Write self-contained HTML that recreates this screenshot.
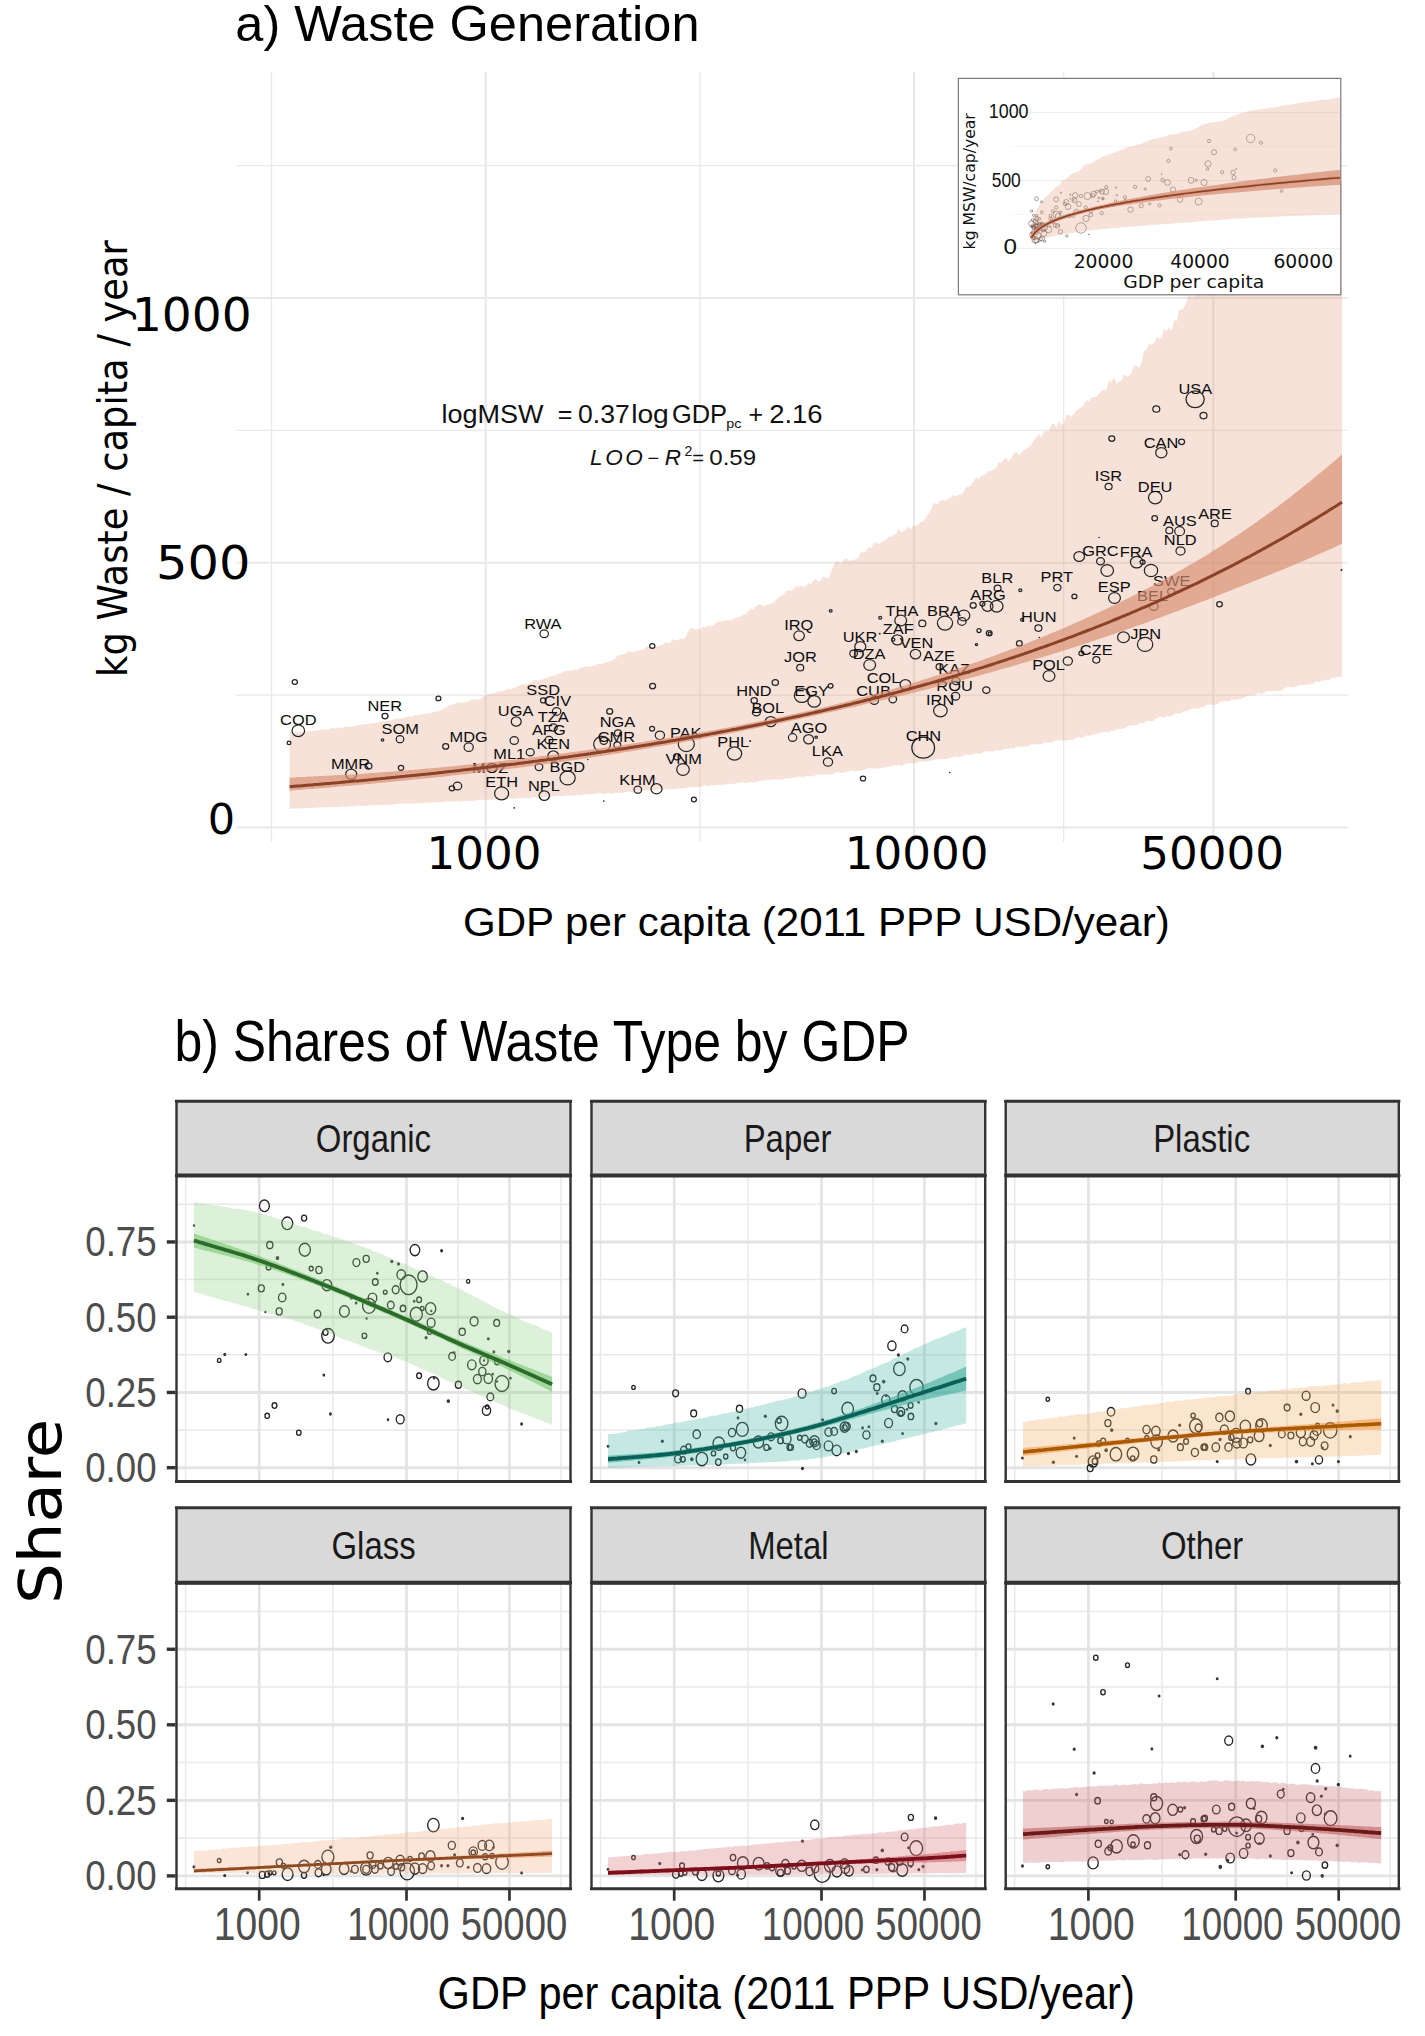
<!DOCTYPE html>
<html lang="en"><head><meta charset="utf-8"><title>Waste generation and composition by GDP</title>
<style>
html,body{margin:0;padding:0;background:#fff}
svg{display:block}
text{white-space:pre}
</style></head>
<body>
<svg width="1425" height="2036" viewBox="0 0 1425 2036">
<rect x="0" y="0" width="1425" height="2036" fill="#fff"/>
<line x1="271.55" y1="72.00" x2="271.55" y2="842.00" stroke="#e9e9e9" stroke-width="1.3"/>
<line x1="699.85" y1="72.00" x2="699.85" y2="842.00" stroke="#e9e9e9" stroke-width="1.3"/>
<line x1="1063.68" y1="72.00" x2="1063.68" y2="842.00" stroke="#e9e9e9" stroke-width="1.3"/>
<line x1="236.50" y1="695.12" x2="1347.50" y2="695.12" stroke="#e9e9e9" stroke-width="1.3"/>
<line x1="236.50" y1="430.38" x2="1347.50" y2="430.38" stroke="#e9e9e9" stroke-width="1.3"/>
<line x1="236.50" y1="165.62" x2="1347.50" y2="165.62" stroke="#e9e9e9" stroke-width="1.3"/>
<line x1="485.70" y1="72.00" x2="485.70" y2="842.00" stroke="#e9e9e9" stroke-width="2.2"/>
<line x1="914.00" y1="72.00" x2="914.00" y2="842.00" stroke="#e9e9e9" stroke-width="2.2"/>
<line x1="1213.37" y1="72.00" x2="1213.37" y2="842.00" stroke="#e9e9e9" stroke-width="2.2"/>
<line x1="236.50" y1="827.50" x2="1347.50" y2="827.50" stroke="#e9e9e9" stroke-width="2.2"/>
<line x1="236.50" y1="562.75" x2="1347.50" y2="562.75" stroke="#e9e9e9" stroke-width="2.2"/>
<line x1="236.50" y1="298.00" x2="1347.50" y2="298.00" stroke="#e9e9e9" stroke-width="2.2"/>
<path d="M289.6,733.2 L292.1,733.0 L294.6,732.4 L297.1,732.5 L299.6,732.0 L302.1,731.9 L304.6,731.8 L307.1,731.3 L309.6,731.3 L312.2,730.9 L314.7,730.8 L317.2,730.6 L319.7,730.2 L322.2,729.4 L324.7,729.8 L327.2,729.5 L329.7,728.9 L332.2,728.1 L334.7,728.5 L337.2,728.4 L339.7,727.3 L342.2,728.0 L344.7,726.8 L347.2,727.1 L349.7,726.8 L352.2,726.4 L354.7,726.0 L357.3,724.9 L359.8,725.3 L362.3,724.5 L364.8,724.1 L367.3,724.0 L369.8,723.4 L372.3,723.4 L374.8,723.0 L377.3,722.6 L379.8,721.7 L382.3,721.6 L384.8,721.4 L387.3,720.7 L389.8,720.4 L392.3,720.1 L394.8,718.9 L397.3,718.6 L399.9,718.7 L402.4,717.9 L404.9,717.5 L407.4,716.4 L409.9,716.3 L412.4,716.4 L414.9,714.7 L417.4,715.6 L419.9,714.9 L422.4,713.9 L424.9,714.2 L427.4,713.4 L429.9,713.3 L432.4,712.2 L434.9,711.5 L437.4,711.5 L439.9,710.3 L442.4,709.8 L445.0,707.8 L447.5,706.5 L450.0,705.0 L452.5,704.7 L455.0,703.4 L457.5,702.5 L460.0,703.1 L462.5,702.3 L465.0,702.5 L467.5,701.2 L470.0,700.8 L472.5,699.3 L475.0,699.4 L477.5,699.9 L480.0,699.3 L482.5,696.9 L485.0,695.7 L487.6,694.3 L490.1,694.0 L492.6,693.5 L495.1,692.9 L497.6,691.3 L500.1,691.7 L502.6,691.1 L505.1,690.4 L507.6,688.6 L510.1,689.4 L512.6,688.5 L515.1,687.7 L517.6,685.9 L520.1,685.3 L522.6,684.3 L525.1,684.8 L527.6,683.8 L530.1,683.1 L532.7,680.9 L535.2,679.8 L537.7,680.8 L540.2,680.0 L542.7,679.2 L545.2,678.3 L547.7,677.2 L550.2,676.1 L552.7,675.9 L555.2,675.2 L557.7,674.0 L560.2,673.3 L562.7,672.4 L565.2,670.5 L567.7,671.0 L570.2,670.9 L572.7,670.1 L575.3,669.4 L577.8,669.9 L580.3,667.4 L582.8,667.4 L585.3,666.5 L587.8,666.3 L590.3,666.7 L592.8,666.0 L595.3,665.6 L597.8,664.0 L600.3,664.1 L602.8,663.4 L605.3,662.6 L607.8,662.0 L610.3,661.0 L612.8,660.6 L615.3,658.2 L617.8,655.5 L620.4,655.0 L622.9,654.1 L625.4,653.9 L627.9,651.3 L630.4,651.8 L632.9,652.2 L635.4,651.5 L637.9,650.8 L640.4,650.2 L642.9,649.9 L645.4,647.4 L647.9,646.0 L650.4,647.8 L652.9,647.1 L655.4,646.9 L657.9,646.2 L660.4,645.2 L663.0,644.5 L665.5,641.9 L668.0,643.1 L670.5,642.4 L673.0,638.9 L675.5,640.2 L678.0,640.3 L680.5,638.8 L683.0,639.0 L685.5,637.5 L688.0,631.8 L690.5,628.0 L693.0,628.6 L695.5,629.7 L698.0,629.3 L700.5,629.3 L703.0,626.8 L705.5,627.2 L708.1,625.4 L710.6,626.3 L713.1,625.8 L715.6,623.1 L718.1,621.2 L720.6,621.4 L723.1,621.0 L725.6,620.2 L728.1,620.0 L730.6,620.6 L733.1,618.7 L735.6,618.1 L738.1,617.3 L740.6,616.2 L743.1,614.9 L745.6,613.8 L748.1,611.2 L750.7,608.3 L753.2,609.9 L755.7,606.2 L758.2,604.7 L760.7,604.0 L763.2,606.2 L765.7,605.5 L768.2,604.6 L770.7,603.7 L773.2,602.8 L775.7,600.5 L778.2,597.8 L780.7,595.8 L783.2,594.7 L785.7,591.8 L788.2,590.0 L790.7,591.6 L793.2,589.1 L795.8,586.5 L798.3,586.5 L800.8,585.9 L803.3,586.4 L805.8,586.3 L808.3,583.0 L810.8,584.3 L813.3,581.1 L815.8,578.8 L818.3,581.6 L820.8,580.7 L823.3,576.5 L825.8,577.5 L828.3,578.8 L830.8,572.6 L833.3,565.9 L835.8,561.6 L838.4,561.8 L840.9,564.0 L843.4,560.3 L845.9,558.2 L848.4,560.1 L850.9,560.9 L853.4,559.4 L855.9,559.5 L858.4,557.8 L860.9,551.5 L863.4,552.5 L865.9,551.5 L868.4,546.7 L870.9,548.4 L873.4,543.8 L875.9,542.5 L878.4,544.1 L880.9,542.5 L883.5,541.0 L886.0,539.7 L888.5,536.9 L891.0,536.8 L893.5,534.9 L896.0,534.2 L898.5,529.1 L901.0,532.2 L903.5,531.1 L906.0,529.8 L908.5,526.5 L911.0,529.4 L913.5,525.0 L916.0,526.3 L918.5,524.0 L921.0,521.9 L923.5,521.0 L926.1,517.1 L928.6,513.7 L931.1,509.6 L933.6,502.2 L936.1,504.6 L938.6,502.7 L941.1,500.0 L943.6,500.3 L946.1,500.5 L948.6,498.6 L951.1,497.4 L953.6,494.6 L956.1,497.1 L958.6,494.5 L961.1,494.5 L963.6,492.3 L966.1,487.1 L968.6,487.1 L971.2,484.7 L973.7,480.9 L976.2,477.1 L978.7,479.1 L981.2,475.9 L983.7,475.2 L986.2,473.6 L988.7,470.7 L991.2,471.0 L993.7,469.0 L996.2,467.8 L998.7,461.9 L1001.2,463.1 L1003.7,459.7 L1006.2,457.3 L1008.7,461.3 L1011.2,458.3 L1013.8,452.7 L1016.3,452.3 L1018.8,454.9 L1021.3,452.9 L1023.8,449.9 L1026.3,449.1 L1028.8,446.9 L1031.3,445.2 L1033.8,440.4 L1036.3,437.3 L1038.8,433.9 L1041.3,437.4 L1043.8,432.1 L1046.3,430.8 L1048.8,431.7 L1051.3,425.1 L1053.8,422.7 L1056.3,428.0 L1058.9,420.4 L1061.4,424.9 L1063.9,423.1 L1066.4,414.9 L1068.9,414.7 L1071.4,417.1 L1073.9,413.5 L1076.4,410.5 L1078.9,409.0 L1081.4,407.0 L1083.9,404.7 L1086.4,399.8 L1088.9,401.9 L1091.4,398.0 L1093.9,397.1 L1096.4,396.7 L1098.9,394.3 L1101.5,390.4 L1104.0,389.7 L1106.5,389.9 L1109.0,380.5 L1111.5,381.9 L1114.0,377.5 L1116.5,383.5 L1119.0,381.6 L1121.5,380.4 L1124.0,374.1 L1126.5,376.8 L1129.0,375.6 L1131.5,372.9 L1134.0,365.7 L1136.5,365.5 L1139.0,367.9 L1141.5,363.0 L1144.0,350.7 L1146.6,350.1 L1149.1,343.4 L1151.6,344.9 L1154.1,343.2 L1156.6,337.6 L1159.1,338.4 L1161.6,337.9 L1164.1,328.5 L1166.6,331.2 L1169.1,327.2 L1171.6,330.9 L1174.1,319.9 L1176.6,321.3 L1179.1,309.7 L1181.6,310.1 L1184.1,307.1 L1186.6,301.7 L1189.2,292.6 L1191.7,297.4 L1194.2,295.7 L1196.7,291.5 L1199.2,291.3 L1201.7,289.6 L1204.2,287.5 L1206.7,285.6 L1209.2,283.3 L1211.7,280.8 L1214.2,278.8 L1216.7,272.1 L1219.2,274.7 L1221.7,271.2 L1224.2,271.0 L1226.7,268.1 L1229.2,267.0 L1231.7,264.4 L1234.3,262.7 L1236.8,255.6 L1239.3,255.8 L1241.8,256.2 L1244.3,252.3 L1246.8,243.4 L1249.3,250.0 L1251.8,241.4 L1254.3,244.2 L1256.8,241.6 L1259.3,234.7 L1261.8,238.6 L1264.3,235.8 L1266.8,231.8 L1269.3,224.5 L1271.8,231.9 L1274.3,224.0 L1276.9,224.4 L1279.4,223.7 L1281.9,224.4 L1284.4,223.0 L1286.9,222.3 L1289.4,220.5 L1291.9,218.8 L1294.4,211.4 L1296.9,214.8 L1299.4,213.3 L1301.9,211.7 L1304.4,202.3 L1306.9,199.9 L1309.4,201.8 L1311.9,204.0 L1314.4,202.4 L1316.9,200.3 L1319.4,197.3 L1322.0,197.4 L1324.5,193.8 L1327.0,193.4 L1329.5,181.6 L1332.0,179.5 L1334.5,185.6 L1337.0,186.4 L1339.5,174.2 L1342.0,182.4 L1342.0,677.8 L1339.5,676.4 L1337.0,677.2 L1334.5,677.7 L1332.0,678.1 L1329.5,680.1 L1327.0,679.6 L1324.5,680.7 L1322.0,680.5 L1319.4,682.4 L1316.9,681.1 L1314.4,683.0 L1311.9,684.0 L1309.4,684.2 L1306.9,684.5 L1304.4,684.9 L1301.9,684.9 L1299.4,685.0 L1296.9,686.0 L1294.4,687.2 L1291.9,687.2 L1289.4,686.7 L1286.9,687.2 L1284.4,688.2 L1281.9,690.5 L1279.4,690.7 L1276.9,691.5 L1274.3,690.4 L1271.8,691.5 L1269.3,690.7 L1266.8,691.3 L1264.3,692.3 L1261.8,694.1 L1259.3,693.2 L1256.8,693.5 L1254.3,695.7 L1251.8,695.2 L1249.3,695.7 L1246.8,696.2 L1244.3,697.4 L1241.8,698.4 L1239.3,699.1 L1236.8,699.4 L1234.3,700.1 L1231.7,699.2 L1229.2,701.5 L1226.7,701.1 L1224.2,701.5 L1221.7,701.6 L1219.2,702.5 L1216.7,704.4 L1214.2,705.0 L1211.7,704.5 L1209.2,704.5 L1206.7,704.6 L1204.2,707.4 L1201.7,707.3 L1199.2,708.6 L1196.7,708.9 L1194.2,707.8 L1191.7,709.0 L1189.2,709.8 L1186.6,711.4 L1184.1,711.0 L1181.6,712.5 L1179.1,714.0 L1176.6,713.1 L1174.1,713.9 L1171.6,715.9 L1169.1,716.2 L1166.6,715.8 L1164.1,718.0 L1161.6,716.7 L1159.1,717.3 L1156.6,718.1 L1154.1,720.4 L1151.6,721.2 L1149.1,720.9 L1146.6,720.8 L1144.0,723.4 L1141.5,722.9 L1139.0,723.2 L1136.5,725.4 L1134.0,724.9 L1131.5,725.8 L1129.0,725.5 L1126.5,727.0 L1124.0,728.5 L1121.5,729.1 L1119.0,728.7 L1116.5,729.0 L1114.0,731.2 L1111.5,730.0 L1109.0,732.4 L1106.5,731.7 L1104.0,732.1 L1101.5,732.0 L1098.9,732.9 L1096.4,733.8 L1093.9,734.4 L1091.4,734.9 L1088.9,736.0 L1086.4,735.2 L1083.9,737.2 L1081.4,738.0 L1078.9,736.9 L1076.4,737.7 L1073.9,739.4 L1071.4,739.9 L1068.9,739.8 L1066.4,740.5 L1063.9,741.0 L1061.4,740.4 L1058.9,740.1 L1056.3,740.5 L1053.8,741.1 L1051.3,743.1 L1048.8,742.0 L1046.3,742.7 L1043.8,742.6 L1041.3,744.6 L1038.8,744.4 L1036.3,744.3 L1033.8,744.3 L1031.3,744.6 L1028.8,745.6 L1026.3,746.9 L1023.8,745.9 L1021.3,747.2 L1018.8,746.5 L1016.3,746.9 L1013.8,748.5 L1011.2,747.9 L1008.7,749.6 L1006.2,748.4 L1003.7,749.4 L1001.2,750.3 L998.7,750.8 L996.2,750.0 L993.7,751.4 L991.2,751.3 L988.7,751.5 L986.2,751.3 L983.7,752.1 L981.2,753.8 L978.7,753.7 L976.2,753.3 L973.7,754.0 L971.2,754.9 L968.6,755.0 L966.1,754.5 L963.6,755.4 L961.1,756.5 L958.6,757.4 L956.1,756.5 L953.6,756.8 L951.1,757.6 L948.6,758.8 L946.1,758.7 L943.6,759.7 L941.1,759.1 L938.6,759.2 L936.1,759.1 L933.6,760.5 L931.1,760.2 L928.6,760.9 L926.1,761.6 L923.5,761.8 L921.0,761.4 L918.5,761.8 L916.0,763.2 L913.5,763.4 L911.0,763.1 L908.5,763.2 L906.0,763.9 L903.5,764.8 L901.0,765.7 L898.5,764.8 L896.0,766.1 L893.5,765.1 L891.0,766.3 L888.5,766.5 L886.0,767.3 L883.5,767.5 L880.9,767.9 L878.4,768.6 L875.9,768.5 L873.4,768.5 L870.9,768.2 L868.4,768.4 L865.9,769.0 L863.4,770.5 L860.9,770.6 L858.4,770.9 L855.9,771.3 L853.4,770.7 L850.9,770.4 L848.4,771.7 L845.9,771.8 L843.4,772.8 L840.9,772.8 L838.4,772.0 L835.8,772.3 L833.3,773.9 L830.8,774.2 L828.3,774.7 L825.8,774.1 L823.3,774.4 L820.8,774.4 L818.3,774.7 L815.8,774.9 L813.3,776.3 L810.8,776.2 L808.3,776.3 L805.8,775.9 L803.3,777.6 L800.8,776.7 L798.3,776.7 L795.8,777.4 L793.2,777.7 L790.7,778.2 L788.2,778.3 L785.7,778.6 L783.2,779.3 L780.7,779.8 L778.2,779.6 L775.7,779.4 L773.2,779.6 L770.7,779.6 L768.2,780.2 L765.7,780.1 L763.2,780.5 L760.7,780.7 L758.2,781.4 L755.7,782.4 L753.2,782.5 L750.7,781.7 L748.1,782.4 L745.6,783.2 L743.1,782.4 L740.6,782.6 L738.1,782.8 L735.6,783.4 L733.1,783.9 L730.6,783.7 L728.1,784.4 L725.6,784.1 L723.1,785.3 L720.6,785.2 L718.1,784.8 L715.6,785.1 L713.1,785.5 L710.6,785.2 L708.1,786.5 L705.5,785.5 L703.0,786.1 L700.5,786.8 L698.0,787.1 L695.5,786.9 L693.0,787.5 L690.5,786.8 L688.0,787.9 L685.5,787.9 L683.0,788.6 L680.5,788.7 L678.0,788.6 L675.5,789.0 L673.0,789.3 L670.5,789.6 L668.0,789.0 L665.5,788.9 L663.0,789.5 L660.4,789.4 L657.9,789.6 L655.4,790.7 L652.9,790.0 L650.4,790.9 L647.9,790.1 L645.4,790.2 L642.9,790.7 L640.4,791.1 L637.9,791.2 L635.4,791.6 L632.9,792.3 L630.4,791.7 L627.9,791.9 L625.4,791.9 L622.9,792.9 L620.4,792.8 L617.8,793.2 L615.3,792.4 L612.8,793.4 L610.3,793.5 L607.8,792.7 L605.3,793.9 L602.8,793.4 L600.3,793.6 L597.8,793.5 L595.3,793.8 L592.8,794.2 L590.3,794.4 L587.8,793.9 L585.3,794.1 L582.8,794.8 L580.3,795.4 L577.8,794.8 L575.3,795.5 L572.7,795.8 L570.2,795.5 L567.7,796.0 L565.2,795.4 L562.7,796.5 L560.2,796.1 L557.7,795.8 L555.2,796.5 L552.7,796.2 L550.2,797.1 L547.7,796.5 L545.2,796.7 L542.7,797.0 L540.2,797.7 L537.7,797.7 L535.2,797.4 L532.7,797.1 L530.1,798.2 L527.6,798.3 L525.1,797.7 L522.6,798.5 L520.1,797.8 L517.6,798.3 L515.1,798.4 L512.6,798.6 L510.1,798.5 L507.6,799.0 L505.1,799.2 L502.6,799.3 L500.1,799.0 L497.6,798.9 L495.1,799.0 L492.6,799.7 L490.1,799.6 L487.6,800.1 L485.0,799.8 L482.5,799.8 L480.0,799.8 L477.5,800.5 L475.0,800.6 L472.5,800.9 L470.0,800.9 L467.5,800.8 L465.0,800.9 L462.5,801.1 L460.0,801.7 L457.5,801.6 L455.0,801.2 L452.5,801.8 L450.0,801.5 L447.5,801.4 L445.0,801.7 L442.4,802.3 L439.9,801.8 L437.4,802.4 L434.9,802.4 L432.4,802.5 L429.9,802.8 L427.4,803.0 L424.9,802.4 L422.4,803.0 L419.9,803.3 L417.4,803.3 L414.9,803.4 L412.4,803.5 L409.9,803.8 L407.4,803.3 L404.9,803.7 L402.4,803.6 L399.9,803.6 L397.3,803.9 L394.8,804.4 L392.3,804.5 L389.8,804.8 L387.3,804.6 L384.8,805.0 L382.3,805.0 L379.8,805.2 L377.3,805.0 L374.8,805.2 L372.3,805.0 L369.8,805.6 L367.3,805.7 L364.8,805.7 L362.3,806.0 L359.8,806.1 L357.3,805.6 L354.7,806.2 L352.2,806.3 L349.7,806.0 L347.2,806.7 L344.7,806.4 L342.2,806.5 L339.7,807.0 L337.2,807.0 L334.7,807.1 L332.2,807.2 L329.7,807.2 L327.2,807.3 L324.7,807.2 L322.2,807.4 L319.7,807.3 L317.2,807.4 L314.7,807.8 L312.2,807.7 L309.6,807.9 L307.1,807.9 L304.6,808.3 L302.1,808.2 L299.6,808.5 L297.1,808.6 L294.6,808.7 L292.1,808.6 L289.6,808.9Z" fill="#e29678" fill-opacity="0.28"/>
<g fill="none" stroke="#262626" stroke-width="1.25">
<ellipse cx="294.8" cy="681.9" rx="2.60" ry="2.39"/>
<ellipse cx="298.3" cy="730.7" rx="6.30" ry="5.80"/>
<ellipse cx="289" cy="742.9" rx="1.90" ry="1.75"/>
<ellipse cx="385" cy="716.1" rx="3.00" ry="2.76"/>
<ellipse cx="438.4" cy="698.4" rx="2.50" ry="2.30"/>
<ellipse cx="400" cy="739.2" rx="3.80" ry="3.50"/>
<ellipse cx="382.5" cy="740" rx="1.30" ry="1.20"/>
<ellipse cx="468.7" cy="747.2" rx="4.60" ry="4.23"/>
<ellipse cx="445.7" cy="746.4" rx="3.00" ry="2.76"/>
<ellipse cx="351.2" cy="774.2" rx="5.50" ry="5.06"/>
<ellipse cx="368.5" cy="766.1" rx="3.40" ry="3.13"/>
<ellipse cx="401" cy="767.8" rx="2.70" ry="2.48"/>
<ellipse cx="457.5" cy="786" rx="4.20" ry="3.86"/>
<ellipse cx="451.9" cy="788.3" rx="2.70" ry="2.48"/>
<ellipse cx="501.6" cy="793.4" rx="7.00" ry="6.44"/>
<ellipse cx="514.2" cy="807.9" rx="0.90" ry="0.83" fill="#262626" stroke="none"/>
<ellipse cx="516.2" cy="721.5" rx="5.00" ry="4.60"/>
<ellipse cx="514.2" cy="740.5" rx="4.20" ry="3.86"/>
<ellipse cx="530.2" cy="752.3" rx="4.00" ry="3.68"/>
<ellipse cx="543.2" cy="700.4" rx="2.70" ry="2.48"/>
<ellipse cx="556.6" cy="711.4" rx="4.20" ry="3.86"/>
<ellipse cx="553.3" cy="727.5" rx="4.00" ry="3.68"/>
<ellipse cx="549" cy="740" rx="4.00" ry="3.68"/>
<ellipse cx="553.3" cy="756" rx="5.50" ry="5.06"/>
<ellipse cx="539" cy="767" rx="3.80" ry="3.50"/>
<ellipse cx="544.3" cy="795.6" rx="5.20" ry="4.78"/>
<ellipse cx="567.6" cy="777.9" rx="7.60" ry="6.99"/>
<ellipse cx="587.8" cy="759.4" rx="0.80" ry="0.74" fill="#262626" stroke="none"/>
<ellipse cx="603.8" cy="801.1" rx="0.90" ry="0.83" fill="#262626" stroke="none"/>
<ellipse cx="609.7" cy="711.4" rx="3.00" ry="2.76"/>
<ellipse cx="618" cy="733" rx="3.50" ry="3.22"/>
<ellipse cx="602.1" cy="744.2" rx="8.40" ry="7.73"/>
<ellipse cx="603.8" cy="740.8" rx="3.80" ry="3.50"/>
<ellipse cx="617.3" cy="745" rx="3.40" ry="3.13"/>
<ellipse cx="652.6" cy="686.1" rx="3.00" ry="2.76"/>
<ellipse cx="652.1" cy="728.7" rx="2.50" ry="2.30"/>
<ellipse cx="659.9" cy="735.3" rx="4.60" ry="4.23"/>
<ellipse cx="686.3" cy="744.2" rx="8.00" ry="7.36"/>
<ellipse cx="683" cy="769.5" rx="6.30" ry="5.80"/>
<ellipse cx="677" cy="756.8" rx="3.40" ry="3.13"/>
<ellipse cx="637.8" cy="789.7" rx="3.80" ry="3.50"/>
<ellipse cx="656.5" cy="788.8" rx="5.50" ry="5.06"/>
<ellipse cx="693.9" cy="799.5" rx="2.50" ry="2.30"/>
<ellipse cx="544.2" cy="633.7" rx="4.20" ry="3.86"/>
<ellipse cx="652.3" cy="646" rx="2.60" ry="2.39"/>
<ellipse cx="800.2" cy="667.7" rx="3.50" ry="3.22"/>
<ellipse cx="869.7" cy="665" rx="5.90" ry="5.43"/>
<ellipse cx="853.6" cy="653.5" rx="3.80" ry="3.50"/>
<ellipse cx="860.3" cy="646.6" rx="5.50" ry="5.06"/>
<ellipse cx="915.5" cy="654.2" rx="5.20" ry="4.78"/>
<ellipse cx="775.3" cy="682.5" rx="3.20" ry="2.94"/>
<ellipse cx="754.2" cy="700.5" rx="3.20" ry="2.94"/>
<ellipse cx="756.4" cy="712.3" rx="4.00" ry="3.68"/>
<ellipse cx="770.7" cy="721.6" rx="5.50" ry="5.06"/>
<ellipse cx="801.9" cy="695.5" rx="7.60" ry="6.99"/>
<ellipse cx="814.2" cy="701.4" rx="6.30" ry="5.80"/>
<ellipse cx="830.6" cy="685.8" rx="2.40" ry="2.21"/>
<ellipse cx="905.4" cy="684.5" rx="5.30" ry="4.88"/>
<ellipse cx="874.3" cy="700.5" rx="4.20" ry="3.86"/>
<ellipse cx="892.8" cy="699.3" rx="3.80" ry="3.50"/>
<ellipse cx="792.6" cy="737.6" rx="4.20" ry="3.86"/>
<ellipse cx="808.6" cy="739.3" rx="5.00" ry="4.60"/>
<ellipse cx="816.2" cy="737.2" rx="1.30" ry="1.20"/>
<ellipse cx="734.5" cy="753.6" rx="7.20" ry="6.62"/>
<ellipse cx="750.2" cy="741" rx="1.00" ry="0.92" fill="#262626" stroke="none"/>
<ellipse cx="828" cy="762" rx="4.60" ry="4.23"/>
<ellipse cx="863" cy="778.5" rx="2.70" ry="2.48"/>
<ellipse cx="923.2" cy="747.7" rx="11.40" ry="10.49"/>
<ellipse cx="940.4" cy="710.6" rx="6.80" ry="6.26"/>
<ellipse cx="830.7" cy="610.8" rx="1.40" ry="1.29"/>
<ellipse cx="880.2" cy="617.7" rx="1.50" ry="1.38"/>
<ellipse cx="879.7" cy="633.7" rx="1.00" ry="0.92" fill="#262626" stroke="none"/>
<ellipse cx="900.7" cy="620.5" rx="5.90" ry="5.43"/>
<ellipse cx="897.4" cy="639.9" rx="5.50" ry="5.06"/>
<ellipse cx="893.2" cy="639.6" rx="1.70" ry="1.56"/>
<ellipse cx="922.3" cy="623.4" rx="3.50" ry="3.22"/>
<ellipse cx="945" cy="623.1" rx="7.60" ry="6.99"/>
<ellipse cx="963.9" cy="615.5" rx="5.90" ry="5.43"/>
<ellipse cx="961.9" cy="621.4" rx="4.20" ry="3.86"/>
<ellipse cx="939.5" cy="666.8" rx="3.40" ry="3.13"/>
<ellipse cx="956" cy="681" rx="4.00" ry="3.68"/>
<ellipse cx="955.5" cy="696.3" rx="4.20" ry="3.86"/>
<ellipse cx="973.2" cy="605.4" rx="3.00" ry="2.76"/>
<ellipse cx="982.4" cy="603.7" rx="2.50" ry="2.30"/>
<ellipse cx="987.5" cy="606.2" rx="5.50" ry="5.06"/>
<ellipse cx="996.7" cy="606.2" rx="6.30" ry="5.80"/>
<ellipse cx="997.6" cy="588.2" rx="3.40" ry="3.13"/>
<ellipse cx="1020.3" cy="590.2" rx="1.50" ry="1.38"/>
<ellipse cx="1057.4" cy="587.6" rx="3.60" ry="3.31"/>
<ellipse cx="979" cy="630.6" rx="2.10" ry="1.93"/>
<ellipse cx="989.2" cy="633.2" rx="2.90" ry="2.67"/>
<ellipse cx="989.8" cy="633.6" rx="1.60" ry="1.47"/>
<ellipse cx="976.5" cy="644.6" rx="1.20" ry="1.10"/>
<ellipse cx="1038.4" cy="628.1" rx="3.50" ry="3.22"/>
<ellipse cx="1022" cy="619.7" rx="1.50" ry="1.38"/>
<ellipse cx="1019.3" cy="643.4" rx="2.90" ry="2.67"/>
<ellipse cx="1039.3" cy="637.4" rx="0.80" ry="0.74" fill="#262626" stroke="none"/>
<ellipse cx="986.3" cy="690.1" rx="3.60" ry="3.31"/>
<ellipse cx="1049" cy="676" rx="5.90" ry="5.43"/>
<ellipse cx="1067.8" cy="661" rx="4.60" ry="4.23"/>
<ellipse cx="799.1" cy="635.8" rx="5.30" ry="4.88"/>
<ellipse cx="949.8" cy="772.5" rx="0.80" ry="0.74" fill="#262626" stroke="none"/>
<ellipse cx="1195.1" cy="399.3" rx="9.10" ry="8.37"/>
<ellipse cx="1156.3" cy="409" rx="3.50" ry="3.22"/>
<ellipse cx="1203.5" cy="415.6" rx="3.50" ry="3.22"/>
<ellipse cx="1111.8" cy="438.6" rx="3.00" ry="2.76"/>
<ellipse cx="1161.3" cy="452.7" rx="5.60" ry="5.15"/>
<ellipse cx="1181.6" cy="441.8" rx="3.00" ry="2.76"/>
<ellipse cx="1108.6" cy="486.5" rx="3.50" ry="3.22"/>
<ellipse cx="1155.2" cy="497.6" rx="6.70" ry="6.16"/>
<ellipse cx="1154.7" cy="518.3" rx="2.80" ry="2.58"/>
<ellipse cx="1169.3" cy="530.4" rx="3.50" ry="3.22"/>
<ellipse cx="1179.6" cy="531.2" rx="4.90" ry="4.51"/>
<ellipse cx="1182.5" cy="517.8" rx="1.00" ry="0.92" fill="#262626" stroke="none"/>
<ellipse cx="1214.7" cy="523.4" rx="3.50" ry="3.22"/>
<ellipse cx="1180.5" cy="550.9" rx="4.50" ry="4.14"/>
<ellipse cx="1099.1" cy="537.4" rx="0.80" ry="0.74" fill="#262626" stroke="none"/>
<ellipse cx="1079.2" cy="556.5" rx="5.30" ry="4.88"/>
<ellipse cx="1100.5" cy="561.3" rx="3.90" ry="3.59"/>
<ellipse cx="1107.2" cy="570.5" rx="6.30" ry="5.80"/>
<ellipse cx="1136.7" cy="562.1" rx="6.30" ry="5.80"/>
<ellipse cx="1151" cy="570.5" rx="6.70" ry="6.16"/>
<ellipse cx="1142.6" cy="562.1" rx="2.50" ry="2.30"/>
<ellipse cx="1074.4" cy="596.4" rx="2.50" ry="2.30"/>
<ellipse cx="1114.5" cy="598" rx="5.90" ry="5.43"/>
<ellipse cx="1171.2" cy="591.6" rx="3.50" ry="3.22"/>
<ellipse cx="1153.8" cy="606.5" rx="4.20" ry="3.86"/>
<ellipse cx="1219.5" cy="604.2" rx="2.80" ry="2.58"/>
<ellipse cx="1341.5" cy="570" rx="1.00" ry="0.92" fill="#262626" stroke="none"/>
<ellipse cx="1145.1" cy="644.4" rx="7.70" ry="7.08"/>
<ellipse cx="1123.5" cy="637.3" rx="5.90" ry="5.43"/>
<ellipse cx="1096.3" cy="659.8" rx="3.50" ry="3.22"/>
<ellipse cx="1081.4" cy="653.3" rx="2.50" ry="2.30"/>
</g>
<text transform="translate(280.06,725.30) scale(1.0000,0.9000)" font-family='"Liberation Sans", sans-serif' font-size="16.4" fill="#0d0d0d">COD</text>
<text transform="translate(367.39,711.40) scale(1.0000,0.9000)" font-family='"Liberation Sans", sans-serif' font-size="16.4" fill="#0d0d0d">NER</text>
<text transform="translate(381.61,734.10) scale(1.0000,0.9000)" font-family='"Liberation Sans", sans-serif' font-size="16.4" fill="#0d0d0d">SOM</text>
<text transform="translate(449.51,742.00) scale(1.0000,0.9000)" font-family='"Liberation Sans", sans-serif' font-size="16.4" fill="#0d0d0d">MDG</text>
<text transform="translate(330.94,768.60) scale(1.0000,0.9000)" font-family='"Liberation Sans", sans-serif' font-size="16.4" fill="#0d0d0d">MMR</text>
<text transform="translate(485.20,787.20) scale(1.0000,0.9000)" font-family='"Liberation Sans", sans-serif' font-size="16.4" fill="#0d0d0d">ETH</text>
<text transform="translate(497.83,716.40) scale(1.0000,0.9000)" font-family='"Liberation Sans", sans-serif' font-size="16.4" fill="#0d0d0d">UGA</text>
<text transform="translate(493.28,758.50) scale(1.0000,0.9000)" font-family='"Liberation Sans", sans-serif' font-size="16.4" fill="#0d0d0d">ML1</text>
<text transform="translate(526.35,694.90) scale(1.0000,0.9000)" font-family='"Liberation Sans", sans-serif' font-size="16.4" fill="#0d0d0d">SSD</text>
<text transform="translate(543.76,706.30) scale(1.0000,0.9000)" font-family='"Liberation Sans", sans-serif' font-size="16.4" fill="#0d0d0d">CIV</text>
<text transform="translate(537.66,722.30) scale(1.0000,0.9000)" font-family='"Liberation Sans", sans-serif' font-size="16.4" fill="#0d0d0d">TZA</text>
<text transform="translate(531.94,735.00) scale(1.0000,0.9000)" font-family='"Liberation Sans", sans-serif' font-size="16.4" fill="#0d0d0d">AFG</text>
<text transform="translate(536.43,749.30) scale(1.0000,0.9000)" font-family='"Liberation Sans", sans-serif' font-size="16.4" fill="#0d0d0d">KEN</text>
<text transform="translate(527.94,790.50) scale(1.0000,0.9000)" font-family='"Liberation Sans", sans-serif' font-size="16.4" fill="#0d0d0d">NPL</text>
<text transform="translate(549.56,772.00) scale(1.0000,0.9000)" font-family='"Liberation Sans", sans-serif' font-size="16.4" fill="#0d0d0d">BGD</text>
<text transform="translate(599.69,727.00) scale(1.0000,0.9000)" font-family='"Liberation Sans", sans-serif' font-size="16.4" fill="#0d0d0d">NGA</text>
<text transform="translate(597.68,741.70) scale(1.0000,0.9000)" font-family='"Liberation Sans", sans-serif' font-size="16.4" fill="#0d0d0d">CMR</text>
<text transform="translate(669.92,737.80) scale(1.0000,0.9000)" font-family='"Liberation Sans", sans-serif' font-size="16.4" fill="#0d0d0d">PAK</text>
<text transform="translate(665.41,763.60) scale(1.0000,0.9000)" font-family='"Liberation Sans", sans-serif' font-size="16.4" fill="#0d0d0d">VNM</text>
<text transform="translate(619.28,784.60) scale(1.0000,0.9000)" font-family='"Liberation Sans", sans-serif' font-size="16.4" fill="#0d0d0d">KHM</text>
<text transform="translate(471.89,772.60) scale(1.0000,0.9000)" font-family='"Liberation Sans", sans-serif' font-size="16.4" fill="#0d0d0d">MOZ</text>
<text transform="translate(524.19,628.60) scale(1.0000,0.9000)" font-family='"Liberation Sans", sans-serif' font-size="16.4" fill="#0d0d0d">RWA</text>
<text transform="translate(784.05,662.40) scale(1.0000,0.9000)" font-family='"Liberation Sans", sans-serif' font-size="16.4" fill="#0d0d0d">JOR</text>
<text transform="translate(852.76,659.30) scale(1.0000,0.9000)" font-family='"Liberation Sans", sans-serif' font-size="16.4" fill="#0d0d0d">DZA</text>
<text transform="translate(923.00,660.90) scale(1.0000,0.9000)" font-family='"Liberation Sans", sans-serif' font-size="16.4" fill="#0d0d0d">AZE</text>
<text transform="translate(736.16,695.80) scale(1.0000,0.9000)" font-family='"Liberation Sans", sans-serif' font-size="16.4" fill="#0d0d0d">HND</text>
<text transform="translate(751.39,713.20) scale(1.0000,0.9000)" font-family='"Liberation Sans", sans-serif' font-size="16.4" fill="#0d0d0d">BOL</text>
<text transform="translate(794.21,695.50) scale(1.0000,0.9000)" font-family='"Liberation Sans", sans-serif' font-size="16.4" fill="#0d0d0d">EGY</text>
<text transform="translate(866.68,682.50) scale(1.0000,0.9000)" font-family='"Liberation Sans", sans-serif' font-size="16.4" fill="#0d0d0d">COL</text>
<text transform="translate(856.20,695.50) scale(1.0000,0.9000)" font-family='"Liberation Sans", sans-serif' font-size="16.4" fill="#0d0d0d">CUB</text>
<text transform="translate(790.76,733.40) scale(1.0000,0.9000)" font-family='"Liberation Sans", sans-serif' font-size="16.4" fill="#0d0d0d">AGO</text>
<text transform="translate(717.34,747.30) scale(1.0000,0.9000)" font-family='"Liberation Sans", sans-serif' font-size="16.4" fill="#0d0d0d">PHL</text>
<text transform="translate(811.87,756.40) scale(1.0000,0.9000)" font-family='"Liberation Sans", sans-serif' font-size="16.4" fill="#0d0d0d">LKA</text>
<text transform="translate(905.67,741.00) scale(1.0000,0.9000)" font-family='"Liberation Sans", sans-serif' font-size="16.4" fill="#0d0d0d">CHN</text>
<text transform="translate(925.99,704.50) scale(1.0000,0.9000)" font-family='"Liberation Sans", sans-serif' font-size="16.4" fill="#0d0d0d">IRN</text>
<text transform="translate(842.73,642.40) scale(1.0000,0.9000)" font-family='"Liberation Sans", sans-serif' font-size="16.4" fill="#0d0d0d">UKR</text>
<text transform="translate(885.56,615.50) scale(1.0000,0.9000)" font-family='"Liberation Sans", sans-serif' font-size="16.4" fill="#0d0d0d">THA</text>
<text transform="translate(882.78,633.70) scale(1.0000,0.9000)" font-family='"Liberation Sans", sans-serif' font-size="16.4" fill="#0d0d0d">ZAF</text>
<text transform="translate(899.66,648.30) scale(1.0000,0.9000)" font-family='"Liberation Sans", sans-serif' font-size="16.4" fill="#0d0d0d">VEN</text>
<text transform="translate(926.99,616.30) scale(1.0000,0.9000)" font-family='"Liberation Sans", sans-serif' font-size="16.4" fill="#0d0d0d">BRA</text>
<text transform="translate(938.24,674.10) scale(1.0000,0.9000)" font-family='"Liberation Sans", sans-serif' font-size="16.4" fill="#0d0d0d">KAZ</text>
<text transform="translate(936.33,690.90) scale(1.0000,0.9000)" font-family='"Liberation Sans", sans-serif' font-size="16.4" fill="#0d0d0d">ROU</text>
<text transform="translate(970.32,600.00) scale(1.0000,0.9000)" font-family='"Liberation Sans", sans-serif' font-size="16.4" fill="#0d0d0d">ARG</text>
<text transform="translate(981.36,582.60) scale(1.0000,0.9000)" font-family='"Liberation Sans", sans-serif' font-size="16.4" fill="#0d0d0d">BLR</text>
<text transform="translate(1040.47,582.40) scale(1.0000,0.9000)" font-family='"Liberation Sans", sans-serif' font-size="16.4" fill="#0d0d0d">PRT</text>
<text transform="translate(1021.03,622.30) scale(1.0000,0.9000)" font-family='"Liberation Sans", sans-serif' font-size="16.4" fill="#0d0d0d">HUN</text>
<text transform="translate(1032.19,670.40) scale(1.0000,0.9000)" font-family='"Liberation Sans", sans-serif' font-size="16.4" fill="#0d0d0d">POL</text>
<text transform="translate(784.18,630.20) scale(1.0000,0.9000)" font-family='"Liberation Sans", sans-serif' font-size="16.4" fill="#0d0d0d">IRQ</text>
<text transform="translate(1178.43,393.60) scale(1.0000,0.9000)" font-family='"Liberation Sans", sans-serif' font-size="16.4" fill="#0d0d0d">USA</text>
<text transform="translate(1143.72,447.90) scale(1.0000,0.9000)" font-family='"Liberation Sans", sans-serif' font-size="16.4" fill="#0d0d0d">CAN</text>
<text transform="translate(1094.76,480.80) scale(1.0000,0.9000)" font-family='"Liberation Sans", sans-serif' font-size="16.4" fill="#0d0d0d">ISR</text>
<text transform="translate(1137.84,492.00) scale(1.0000,0.9000)" font-family='"Liberation Sans", sans-serif' font-size="16.4" fill="#0d0d0d">DEU</text>
<text transform="translate(1163.10,526.20) scale(1.0000,0.9000)" font-family='"Liberation Sans", sans-serif' font-size="16.4" fill="#0d0d0d">AUS</text>
<text transform="translate(1198.18,518.60) scale(1.0000,0.9000)" font-family='"Liberation Sans", sans-serif' font-size="16.4" fill="#0d0d0d">ARE</text>
<text transform="translate(1163.83,545.30) scale(1.0000,0.9000)" font-family='"Liberation Sans", sans-serif' font-size="16.4" fill="#0d0d0d">NLD</text>
<text transform="translate(1082.17,555.90) scale(1.0000,0.9000)" font-family='"Liberation Sans", sans-serif' font-size="16.4" fill="#0d0d0d">GRC</text>
<text transform="translate(1119.66,556.50) scale(1.0000,0.9000)" font-family='"Liberation Sans", sans-serif' font-size="16.4" fill="#0d0d0d">FRA</text>
<text transform="translate(1097.85,591.60) scale(1.0000,0.9000)" font-family='"Liberation Sans", sans-serif' font-size="16.4" fill="#0d0d0d">ESP</text>
<text transform="translate(1153.10,586.00) scale(1.0000,0.9000)" font-family='"Liberation Sans", sans-serif' font-size="16.4" fill="#0d0d0d">SWE</text>
<text transform="translate(1137.09,600.80) scale(1.0000,0.9000)" font-family='"Liberation Sans", sans-serif' font-size="16.4" fill="#0d0d0d">BEL</text>
<text transform="translate(1130.13,638.70) scale(1.0000,0.9000)" font-family='"Liberation Sans", sans-serif' font-size="16.4" fill="#0d0d0d">JPN</text>
<text transform="translate(1079.84,654.70) scale(1.0000,0.9000)" font-family='"Liberation Sans", sans-serif' font-size="16.4" fill="#0d0d0d">CZE</text>
<path d="M289.6,777.7 L292.1,777.6 L294.6,777.4 L297.1,777.3 L299.6,777.1 L302.1,777.0 L304.6,776.9 L307.1,776.7 L309.6,776.6 L312.2,776.5 L314.7,776.3 L317.2,776.2 L319.7,776.1 L322.2,776.0 L324.7,775.8 L327.2,775.7 L329.7,775.6 L332.2,775.5 L334.7,775.3 L337.2,775.2 L339.7,775.1 L342.2,774.9 L344.7,774.8 L347.2,774.7 L349.7,774.5 L352.2,774.4 L354.7,774.2 L357.3,774.1 L359.8,773.9 L362.3,773.8 L364.8,773.6 L367.3,773.4 L369.8,773.3 L372.3,773.1 L374.8,772.9 L377.3,772.7 L379.8,772.5 L382.3,772.3 L384.8,772.1 L387.3,771.9 L389.8,771.8 L392.3,771.6 L394.8,771.4 L397.3,771.2 L399.9,771.0 L402.4,770.7 L404.9,770.5 L407.4,770.3 L409.9,770.1 L412.4,769.9 L414.9,769.7 L417.4,769.5 L419.9,769.3 L422.4,769.0 L424.9,768.8 L427.4,768.6 L429.9,768.4 L432.4,768.1 L434.9,767.9 L437.4,767.7 L439.9,767.4 L442.4,767.2 L445.0,767.0 L447.5,766.7 L450.0,766.5 L452.5,766.2 L455.0,766.0 L457.5,765.7 L460.0,765.5 L462.5,765.2 L465.0,765.0 L467.5,764.7 L470.0,764.4 L472.5,764.2 L475.0,763.9 L477.5,763.6 L480.0,763.4 L482.5,763.1 L485.0,762.8 L487.6,762.6 L490.1,762.3 L492.6,762.0 L495.1,761.7 L497.6,761.4 L500.1,761.1 L502.6,760.9 L505.1,760.6 L507.6,760.3 L510.1,760.0 L512.6,759.7 L515.1,759.4 L517.6,759.1 L520.1,758.8 L522.6,758.5 L525.1,758.2 L527.6,757.9 L530.1,757.6 L532.7,757.3 L535.2,757.0 L537.7,756.7 L540.2,756.3 L542.7,756.0 L545.2,755.7 L547.7,755.4 L550.2,755.1 L552.7,754.8 L555.2,754.4 L557.7,754.1 L560.2,753.8 L562.7,753.4 L565.2,753.1 L567.7,752.8 L570.2,752.4 L572.7,752.1 L575.3,751.8 L577.8,751.4 L580.3,751.1 L582.8,750.7 L585.3,750.4 L587.8,750.0 L590.3,749.7 L592.8,749.3 L595.3,749.0 L597.8,748.6 L600.3,748.3 L602.8,747.9 L605.3,747.6 L607.8,747.2 L610.3,746.8 L612.8,746.5 L615.3,746.1 L617.8,745.7 L620.4,745.3 L622.9,745.0 L625.4,744.6 L627.9,744.2 L630.4,743.8 L632.9,743.4 L635.4,743.1 L637.9,742.7 L640.4,742.3 L642.9,741.9 L645.4,741.5 L647.9,741.1 L650.4,740.7 L652.9,740.3 L655.4,739.9 L657.9,739.5 L660.4,739.1 L663.0,738.7 L665.5,738.3 L668.0,737.9 L670.5,737.5 L673.0,737.1 L675.5,736.6 L678.0,736.2 L680.5,735.8 L683.0,735.4 L685.5,735.0 L688.0,734.5 L690.5,734.1 L693.0,733.7 L695.5,733.2 L698.0,732.8 L700.5,732.4 L703.0,731.9 L705.5,731.5 L708.1,731.1 L710.6,730.6 L713.1,730.2 L715.6,729.7 L718.1,729.3 L720.6,728.8 L723.1,728.3 L725.6,727.9 L728.1,727.4 L730.6,727.0 L733.1,726.5 L735.6,726.0 L738.1,725.5 L740.6,725.1 L743.1,724.6 L745.6,724.1 L748.1,723.6 L750.7,723.1 L753.2,722.6 L755.7,722.1 L758.2,721.6 L760.7,721.1 L763.2,720.6 L765.7,720.1 L768.2,719.6 L770.7,719.1 L773.2,718.5 L775.7,718.0 L778.2,717.5 L780.7,717.0 L783.2,716.4 L785.7,715.9 L788.2,715.3 L790.7,714.8 L793.2,714.3 L795.8,713.7 L798.3,713.1 L800.8,712.6 L803.3,712.0 L805.8,711.5 L808.3,710.9 L810.8,710.3 L813.3,709.7 L815.8,709.2 L818.3,708.6 L820.8,708.0 L823.3,707.4 L825.8,706.8 L828.3,706.2 L830.8,705.6 L833.3,704.9 L835.8,704.3 L838.4,703.7 L840.9,703.1 L843.4,702.4 L845.9,701.8 L848.4,701.2 L850.9,700.5 L853.4,699.8 L855.9,699.2 L858.4,698.5 L860.9,697.8 L863.4,697.2 L865.9,696.5 L868.4,695.8 L870.9,695.1 L873.4,694.4 L875.9,693.7 L878.4,693.0 L880.9,692.3 L883.5,691.6 L886.0,690.9 L888.5,690.2 L891.0,689.4 L893.5,688.7 L896.0,688.0 L898.5,687.2 L901.0,686.5 L903.5,685.8 L906.0,685.0 L908.5,684.3 L911.0,683.5 L913.5,682.7 L916.0,682.0 L918.5,681.2 L921.0,680.4 L923.5,679.6 L926.1,678.9 L928.6,678.1 L931.1,677.3 L933.6,676.5 L936.1,675.7 L938.6,674.9 L941.1,674.1 L943.6,673.2 L946.1,672.4 L948.6,671.6 L951.1,670.8 L953.6,669.9 L956.1,669.1 L958.6,668.3 L961.1,667.4 L963.6,666.6 L966.1,665.7 L968.6,664.8 L971.2,664.0 L973.7,663.1 L976.2,662.2 L978.7,661.3 L981.2,660.4 L983.7,659.5 L986.2,658.6 L988.7,657.7 L991.2,656.8 L993.7,655.9 L996.2,655.0 L998.7,654.1 L1001.2,653.1 L1003.7,652.2 L1006.2,651.2 L1008.7,650.3 L1011.2,649.3 L1013.8,648.4 L1016.3,647.4 L1018.8,646.4 L1021.3,645.5 L1023.8,644.5 L1026.3,643.5 L1028.8,642.5 L1031.3,641.5 L1033.8,640.5 L1036.3,639.5 L1038.8,638.5 L1041.3,637.4 L1043.8,636.4 L1046.3,635.4 L1048.8,634.3 L1051.3,633.3 L1053.8,632.2 L1056.3,631.2 L1058.9,630.1 L1061.4,629.0 L1063.9,628.0 L1066.4,626.9 L1068.9,625.8 L1071.4,624.7 L1073.9,623.6 L1076.4,622.5 L1078.9,621.4 L1081.4,620.3 L1083.9,619.1 L1086.4,618.0 L1088.9,616.9 L1091.4,615.7 L1093.9,614.6 L1096.4,613.4 L1098.9,612.2 L1101.5,611.1 L1104.0,609.9 L1106.5,608.7 L1109.0,607.5 L1111.5,606.3 L1114.0,605.1 L1116.5,603.9 L1119.0,602.7 L1121.5,601.5 L1124.0,600.2 L1126.5,599.0 L1129.0,597.7 L1131.5,596.5 L1134.0,595.2 L1136.5,594.0 L1139.0,592.7 L1141.5,591.4 L1144.0,590.1 L1146.6,588.8 L1149.1,587.5 L1151.6,586.2 L1154.1,584.8 L1156.6,583.5 L1159.1,582.2 L1161.6,580.8 L1164.1,579.5 L1166.6,578.1 L1169.1,576.7 L1171.6,575.3 L1174.1,573.9 L1176.6,572.5 L1179.1,571.1 L1181.6,569.7 L1184.1,568.2 L1186.6,566.8 L1189.2,565.3 L1191.7,563.9 L1194.2,562.4 L1196.7,560.9 L1199.2,559.4 L1201.7,557.9 L1204.2,556.4 L1206.7,554.9 L1209.2,553.4 L1211.7,551.8 L1214.2,550.3 L1216.7,548.7 L1219.2,547.1 L1221.7,545.5 L1224.2,543.9 L1226.7,542.3 L1229.2,540.6 L1231.7,539.0 L1234.3,537.3 L1236.8,535.7 L1239.3,534.0 L1241.8,532.3 L1244.3,530.6 L1246.8,528.9 L1249.3,527.1 L1251.8,525.4 L1254.3,523.6 L1256.8,521.9 L1259.3,520.1 L1261.8,518.3 L1264.3,516.5 L1266.8,514.6 L1269.3,512.8 L1271.8,511.0 L1274.3,509.1 L1276.9,507.2 L1279.4,505.3 L1281.9,503.4 L1284.4,501.5 L1286.9,499.6 L1289.4,497.7 L1291.9,495.7 L1294.4,493.8 L1296.9,491.8 L1299.4,489.8 L1301.9,487.8 L1304.4,485.8 L1306.9,483.8 L1309.4,481.8 L1311.9,479.7 L1314.4,477.7 L1316.9,475.6 L1319.4,473.5 L1322.0,471.5 L1324.5,469.4 L1327.0,467.3 L1329.5,465.1 L1332.0,463.0 L1334.5,460.9 L1337.0,458.7 L1339.5,456.5 L1342.0,454.4 L1342.0,543.8 L1339.5,545.0 L1337.0,546.1 L1334.5,547.3 L1332.0,548.4 L1329.5,549.5 L1327.0,550.6 L1324.5,551.7 L1322.0,552.8 L1319.4,553.9 L1316.9,555.0 L1314.4,556.1 L1311.9,557.2 L1309.4,558.3 L1306.9,559.4 L1304.4,560.4 L1301.9,561.5 L1299.4,562.6 L1296.9,563.6 L1294.4,564.7 L1291.9,565.7 L1289.4,566.8 L1286.9,567.8 L1284.4,568.9 L1281.9,569.9 L1279.4,570.9 L1276.9,572.0 L1274.3,573.0 L1271.8,574.0 L1269.3,575.0 L1266.8,576.0 L1264.3,577.1 L1261.8,578.1 L1259.3,579.1 L1256.8,580.1 L1254.3,581.1 L1251.8,582.1 L1249.3,583.1 L1246.8,584.1 L1244.3,585.1 L1241.8,586.1 L1239.3,587.1 L1236.8,588.1 L1234.3,589.1 L1231.7,590.1 L1229.2,591.0 L1226.7,592.0 L1224.2,593.0 L1221.7,594.0 L1219.2,595.0 L1216.7,596.0 L1214.2,596.9 L1211.7,597.9 L1209.2,598.9 L1206.7,599.9 L1204.2,600.9 L1201.7,601.8 L1199.2,602.8 L1196.7,603.8 L1194.2,604.7 L1191.7,605.7 L1189.2,606.6 L1186.6,607.6 L1184.1,608.5 L1181.6,609.5 L1179.1,610.4 L1176.6,611.4 L1174.1,612.3 L1171.6,613.3 L1169.1,614.2 L1166.6,615.1 L1164.1,616.0 L1161.6,617.0 L1159.1,617.9 L1156.6,618.8 L1154.1,619.7 L1151.6,620.6 L1149.1,621.6 L1146.6,622.5 L1144.0,623.4 L1141.5,624.3 L1139.0,625.2 L1136.5,626.1 L1134.0,626.9 L1131.5,627.8 L1129.0,628.7 L1126.5,629.6 L1124.0,630.5 L1121.5,631.4 L1119.0,632.2 L1116.5,633.1 L1114.0,634.0 L1111.5,634.8 L1109.0,635.7 L1106.5,636.5 L1104.0,637.4 L1101.5,638.2 L1098.9,639.1 L1096.4,639.9 L1093.9,640.7 L1091.4,641.6 L1088.9,642.4 L1086.4,643.2 L1083.9,644.1 L1081.4,644.9 L1078.9,645.7 L1076.4,646.5 L1073.9,647.3 L1071.4,648.1 L1068.9,648.9 L1066.4,649.7 L1063.9,650.5 L1061.4,651.3 L1058.9,652.1 L1056.3,652.9 L1053.8,653.6 L1051.3,654.4 L1048.8,655.2 L1046.3,656.0 L1043.8,656.7 L1041.3,657.5 L1038.8,658.3 L1036.3,659.0 L1033.8,659.8 L1031.3,660.5 L1028.8,661.3 L1026.3,662.0 L1023.8,662.8 L1021.3,663.5 L1018.8,664.2 L1016.3,665.0 L1013.8,665.7 L1011.2,666.4 L1008.7,667.2 L1006.2,667.9 L1003.7,668.6 L1001.2,669.3 L998.7,670.0 L996.2,670.7 L993.7,671.5 L991.2,672.2 L988.7,672.9 L986.2,673.6 L983.7,674.3 L981.2,675.0 L978.7,675.7 L976.2,676.3 L973.7,677.0 L971.2,677.7 L968.6,678.4 L966.1,679.1 L963.6,679.7 L961.1,680.4 L958.6,681.1 L956.1,681.8 L953.6,682.4 L951.1,683.1 L948.6,683.7 L946.1,684.4 L943.6,685.1 L941.1,685.7 L938.6,686.4 L936.1,687.0 L933.6,687.7 L931.1,688.3 L928.6,688.9 L926.1,689.6 L923.5,690.2 L921.0,690.8 L918.5,691.5 L916.0,692.1 L913.5,692.7 L911.0,693.3 L908.5,693.9 L906.0,694.6 L903.5,695.2 L901.0,695.8 L898.5,696.4 L896.0,697.0 L893.5,697.6 L891.0,698.2 L888.5,698.8 L886.0,699.4 L883.5,700.0 L880.9,700.6 L878.4,701.1 L875.9,701.7 L873.4,702.3 L870.9,702.9 L868.4,703.5 L865.9,704.1 L863.4,704.6 L860.9,705.2 L858.4,705.8 L855.9,706.4 L853.4,706.9 L850.9,707.5 L848.4,708.1 L845.9,708.6 L843.4,709.2 L840.9,709.8 L838.4,710.3 L835.8,710.9 L833.3,711.5 L830.8,712.0 L828.3,712.6 L825.8,713.1 L823.3,713.7 L820.8,714.3 L818.3,714.8 L815.8,715.4 L813.3,715.9 L810.8,716.5 L808.3,717.0 L805.8,717.6 L803.3,718.1 L800.8,718.7 L798.3,719.2 L795.8,719.8 L793.2,720.3 L790.7,720.8 L788.2,721.4 L785.7,721.9 L783.2,722.4 L780.7,723.0 L778.2,723.5 L775.7,724.0 L773.2,724.6 L770.7,725.1 L768.2,725.6 L765.7,726.1 L763.2,726.6 L760.7,727.2 L758.2,727.7 L755.7,728.2 L753.2,728.7 L750.7,729.2 L748.1,729.7 L745.6,730.2 L743.1,730.7 L740.6,731.2 L738.1,731.7 L735.6,732.2 L733.1,732.7 L730.6,733.2 L728.1,733.7 L725.6,734.2 L723.1,734.7 L720.6,735.2 L718.1,735.6 L715.6,736.1 L713.1,736.6 L710.6,737.1 L708.1,737.6 L705.5,738.0 L703.0,738.5 L700.5,739.0 L698.0,739.4 L695.5,739.9 L693.0,740.4 L690.5,740.8 L688.0,741.3 L685.5,741.8 L683.0,742.2 L680.5,742.7 L678.0,743.1 L675.5,743.6 L673.0,744.0 L670.5,744.5 L668.0,744.9 L665.5,745.4 L663.0,745.8 L660.4,746.2 L657.9,746.7 L655.4,747.1 L652.9,747.5 L650.4,748.0 L647.9,748.4 L645.4,748.8 L642.9,749.2 L640.4,749.7 L637.9,750.1 L635.4,750.5 L632.9,750.9 L630.4,751.3 L627.9,751.7 L625.4,752.1 L622.9,752.6 L620.4,753.0 L617.8,753.4 L615.3,753.8 L612.8,754.2 L610.3,754.6 L607.8,755.0 L605.3,755.3 L602.8,755.7 L600.3,756.1 L597.8,756.5 L595.3,756.9 L592.8,757.3 L590.3,757.7 L587.8,758.0 L585.3,758.4 L582.8,758.8 L580.3,759.2 L577.8,759.5 L575.3,759.9 L572.7,760.3 L570.2,760.6 L567.7,761.0 L565.2,761.4 L562.7,761.7 L560.2,762.1 L557.7,762.4 L555.2,762.8 L552.7,763.1 L550.2,763.5 L547.7,763.8 L545.2,764.2 L542.7,764.5 L540.2,764.9 L537.7,765.2 L535.2,765.5 L532.7,765.9 L530.1,766.2 L527.6,766.5 L525.1,766.9 L522.6,767.2 L520.1,767.5 L517.6,767.8 L515.1,768.2 L512.6,768.5 L510.1,768.8 L507.6,769.1 L505.1,769.4 L502.6,769.7 L500.1,770.0 L497.6,770.3 L495.1,770.7 L492.6,771.0 L490.1,771.3 L487.6,771.6 L485.0,771.9 L482.5,772.2 L480.0,772.5 L477.5,772.7 L475.0,773.0 L472.5,773.3 L470.0,773.6 L467.5,773.9 L465.0,774.2 L462.5,774.5 L460.0,774.7 L457.5,775.0 L455.0,775.3 L452.5,775.6 L450.0,775.8 L447.5,776.1 L445.0,776.4 L442.4,776.7 L439.9,776.9 L437.4,777.2 L434.9,777.4 L432.4,777.7 L429.9,778.0 L427.4,778.2 L424.9,778.5 L422.4,778.7 L419.9,779.0 L417.4,779.3 L414.9,779.5 L412.4,779.8 L409.9,780.0 L407.4,780.3 L404.9,780.5 L402.4,780.7 L399.9,781.0 L397.3,781.2 L394.8,781.5 L392.3,781.7 L389.8,782.0 L387.3,782.2 L384.8,782.4 L382.3,782.7 L379.8,782.9 L377.3,783.1 L374.8,783.4 L372.3,783.6 L369.8,783.9 L367.3,784.1 L364.8,784.3 L362.3,784.5 L359.8,784.8 L357.3,785.0 L354.7,785.2 L352.2,785.5 L349.7,785.7 L347.2,785.9 L344.7,786.1 L342.2,786.3 L339.7,786.6 L337.2,786.8 L334.7,787.0 L332.2,787.2 L329.7,787.4 L327.2,787.7 L324.7,787.9 L322.2,788.1 L319.7,788.3 L317.2,788.5 L314.7,788.7 L312.2,788.9 L309.6,789.1 L307.1,789.3 L304.6,789.5 L302.1,789.7 L299.6,789.9 L297.1,790.1 L294.6,790.3 L292.1,790.5 L289.6,790.7Z" fill="#d78d72" fill-opacity="0.68"/>
<path d="M289.6,786.7 L292.1,786.5 L294.6,786.3 L297.1,786.1 L299.6,785.9 L302.1,785.7 L304.6,785.5 L307.1,785.3 L309.6,785.1 L312.2,784.9 L314.7,784.6 L317.2,784.4 L319.7,784.2 L322.2,784.0 L324.7,783.8 L327.2,783.6 L329.7,783.4 L332.2,783.1 L334.7,782.9 L337.2,782.7 L339.7,782.5 L342.2,782.2 L344.7,782.0 L347.2,781.8 L349.7,781.6 L352.2,781.3 L354.7,781.1 L357.3,780.9 L359.8,780.7 L362.3,780.4 L364.8,780.2 L367.3,780.0 L369.8,779.7 L372.3,779.5 L374.8,779.2 L377.3,779.0 L379.8,778.8 L382.3,778.5 L384.8,778.3 L387.3,778.0 L389.8,777.8 L392.3,777.5 L394.8,777.3 L397.3,777.0 L399.9,776.8 L402.4,776.5 L404.9,776.3 L407.4,776.0 L409.9,775.8 L412.4,775.5 L414.9,775.3 L417.4,775.0 L419.9,774.8 L422.4,774.5 L424.9,774.2 L427.4,774.0 L429.9,773.7 L432.4,773.4 L434.9,773.2 L437.4,772.9 L439.9,772.6 L442.4,772.4 L445.0,772.1 L447.5,771.8 L450.0,771.5 L452.5,771.3 L455.0,771.0 L457.5,770.7 L460.0,770.4 L462.5,770.1 L465.0,769.8 L467.5,769.6 L470.0,769.3 L472.5,769.0 L475.0,768.7 L477.5,768.4 L480.0,768.1 L482.5,767.8 L485.0,767.5 L487.6,767.2 L490.1,766.9 L492.6,766.6 L495.1,766.3 L497.6,766.0 L500.1,765.7 L502.6,765.4 L505.1,765.1 L507.6,764.8 L510.1,764.5 L512.6,764.2 L515.1,763.9 L517.6,763.5 L520.1,763.2 L522.6,762.9 L525.1,762.6 L527.6,762.3 L530.1,761.9 L532.7,761.6 L535.2,761.3 L537.7,761.0 L540.2,760.6 L542.7,760.3 L545.2,760.0 L547.7,759.6 L550.2,759.3 L552.7,759.0 L555.2,758.6 L557.7,758.3 L560.2,757.9 L562.7,757.6 L565.2,757.2 L567.7,756.9 L570.2,756.5 L572.7,756.2 L575.3,755.8 L577.8,755.5 L580.3,755.1 L582.8,754.8 L585.3,754.4 L587.8,754.0 L590.3,753.7 L592.8,753.3 L595.3,752.9 L597.8,752.6 L600.3,752.2 L602.8,751.8 L605.3,751.5 L607.8,751.1 L610.3,750.7 L612.8,750.3 L615.3,749.9 L617.8,749.6 L620.4,749.2 L622.9,748.8 L625.4,748.4 L627.9,748.0 L630.4,747.6 L632.9,747.2 L635.4,746.8 L637.9,746.4 L640.4,746.0 L642.9,745.6 L645.4,745.2 L647.9,744.8 L650.4,744.4 L652.9,744.0 L655.4,743.6 L657.9,743.1 L660.4,742.7 L663.0,742.3 L665.5,741.9 L668.0,741.4 L670.5,741.0 L673.0,740.6 L675.5,740.2 L678.0,739.7 L680.5,739.3 L683.0,738.9 L685.5,738.4 L688.0,738.0 L690.5,737.5 L693.0,737.1 L695.5,736.6 L698.0,736.2 L700.5,735.7 L703.0,735.3 L705.5,734.8 L708.1,734.4 L710.6,733.9 L713.1,733.4 L715.6,733.0 L718.1,732.5 L720.6,732.0 L723.1,731.6 L725.6,731.1 L728.1,730.6 L730.6,730.1 L733.1,729.6 L735.6,729.2 L738.1,728.7 L740.6,728.2 L743.1,727.7 L745.6,727.2 L748.1,726.7 L750.7,726.2 L753.2,725.7 L755.7,725.2 L758.2,724.7 L760.7,724.2 L763.2,723.7 L765.7,723.2 L768.2,722.6 L770.7,722.1 L773.2,721.6 L775.7,721.1 L778.2,720.5 L780.7,720.0 L783.2,719.5 L785.7,718.9 L788.2,718.4 L790.7,717.9 L793.2,717.3 L795.8,716.8 L798.3,716.2 L800.8,715.7 L803.3,715.1 L805.8,714.6 L808.3,714.0 L810.8,713.4 L813.3,712.9 L815.8,712.3 L818.3,711.7 L820.8,711.2 L823.3,710.6 L825.8,710.0 L828.3,709.4 L830.8,708.8 L833.3,708.2 L835.8,707.7 L838.4,707.1 L840.9,706.5 L843.4,705.9 L845.9,705.3 L848.4,704.7 L850.9,704.1 L853.4,703.4 L855.9,702.8 L858.4,702.2 L860.9,701.6 L863.4,701.0 L865.9,700.3 L868.4,699.7 L870.9,699.1 L873.4,698.4 L875.9,697.8 L878.4,697.2 L880.9,696.5 L883.5,695.9 L886.0,695.2 L888.5,694.5 L891.0,693.9 L893.5,693.2 L896.0,692.6 L898.5,691.9 L901.0,691.2 L903.5,690.5 L906.0,689.9 L908.5,689.2 L911.0,688.5 L913.5,687.8 L916.0,687.1 L918.5,686.4 L921.0,685.7 L923.5,685.0 L926.1,684.3 L928.6,683.6 L931.1,682.9 L933.6,682.2 L936.1,681.5 L938.6,680.7 L941.1,680.0 L943.6,679.3 L946.1,678.5 L948.6,677.8 L951.1,677.1 L953.6,676.3 L956.1,675.6 L958.6,674.8 L961.1,674.1 L963.6,673.3 L966.1,672.5 L968.6,671.8 L971.2,671.0 L973.7,670.2 L976.2,669.4 L978.7,668.6 L981.2,667.9 L983.7,667.1 L986.2,666.3 L988.7,665.5 L991.2,664.7 L993.7,663.9 L996.2,663.1 L998.7,662.2 L1001.2,661.4 L1003.7,660.6 L1006.2,659.8 L1008.7,658.9 L1011.2,658.1 L1013.8,657.3 L1016.3,656.4 L1018.8,655.6 L1021.3,654.7 L1023.8,653.9 L1026.3,653.0 L1028.8,652.1 L1031.3,651.3 L1033.8,650.4 L1036.3,649.5 L1038.8,648.6 L1041.3,647.7 L1043.8,646.9 L1046.3,646.0 L1048.8,645.1 L1051.3,644.2 L1053.8,643.3 L1056.3,642.3 L1058.9,641.4 L1061.4,640.5 L1063.9,639.6 L1066.4,638.6 L1068.9,637.7 L1071.4,636.8 L1073.9,635.8 L1076.4,634.9 L1078.9,633.9 L1081.4,633.0 L1083.9,632.0 L1086.4,631.0 L1088.9,630.0 L1091.4,629.1 L1093.9,628.1 L1096.4,627.1 L1098.9,626.1 L1101.5,625.1 L1104.0,624.1 L1106.5,623.1 L1109.0,622.1 L1111.5,621.1 L1114.0,620.0 L1116.5,619.0 L1119.0,618.0 L1121.5,616.9 L1124.0,615.9 L1126.5,614.8 L1129.0,613.8 L1131.5,612.7 L1134.0,611.7 L1136.5,610.6 L1139.0,609.5 L1141.5,608.4 L1144.0,607.4 L1146.6,606.3 L1149.1,605.2 L1151.6,604.1 L1154.1,603.0 L1156.6,601.9 L1159.1,600.7 L1161.6,599.6 L1164.1,598.5 L1166.6,597.3 L1169.1,596.2 L1171.6,595.1 L1174.1,593.9 L1176.6,592.7 L1179.1,591.6 L1181.6,590.4 L1184.1,589.2 L1186.6,588.1 L1189.2,586.9 L1191.7,585.7 L1194.2,584.5 L1196.7,583.3 L1199.2,582.1 L1201.7,580.8 L1204.2,579.6 L1206.7,578.4 L1209.2,577.2 L1211.7,575.9 L1214.2,574.7 L1216.7,573.4 L1219.2,572.2 L1221.7,570.9 L1224.2,569.6 L1226.7,568.3 L1229.2,567.1 L1231.7,565.8 L1234.3,564.5 L1236.8,563.2 L1239.3,561.9 L1241.8,560.5 L1244.3,559.2 L1246.8,557.9 L1249.3,556.6 L1251.8,555.2 L1254.3,553.9 L1256.8,552.5 L1259.3,551.1 L1261.8,549.8 L1264.3,548.4 L1266.8,547.0 L1269.3,545.6 L1271.8,544.2 L1274.3,542.8 L1276.9,541.4 L1279.4,540.0 L1281.9,538.6 L1284.4,537.1 L1286.9,535.7 L1289.4,534.3 L1291.9,532.8 L1294.4,531.3 L1296.9,529.9 L1299.4,528.4 L1301.9,526.9 L1304.4,525.4 L1306.9,523.9 L1309.4,522.4 L1311.9,520.9 L1314.4,519.4 L1316.9,517.9 L1319.4,516.3 L1322.0,514.8 L1324.5,513.2 L1327.0,511.7 L1329.5,510.1 L1332.0,508.5 L1334.5,507.0 L1337.0,505.4 L1339.5,503.8 L1342.0,502.2" fill="none" stroke="#8a4229" stroke-width="3.0" stroke-linecap="butt"/>
<rect x="958.4" y="78.4" width="382.4" height="216.4" fill="#fff" stroke="#7a7a7a" stroke-width="1.2"/>
<clipPath id="insclip"><rect x="959.0" y="79.0" width="381.2" height="215.2"/></clipPath>
<g clip-path="url(#insclip)">
<line x1="1012.00" y1="248.50" x2="1340.80" y2="248.50" stroke="#efefef" stroke-width="1.2"/>
<line x1="1012.00" y1="180.50" x2="1340.80" y2="180.50" stroke="#efefef" stroke-width="1.2"/>
<line x1="1012.00" y1="112.50" x2="1340.80" y2="112.50" stroke="#efefef" stroke-width="1.2"/>
<line x1="1012.00" y1="214.50" x2="1340.80" y2="214.50" stroke="#f4f4f4" stroke-width="0.8"/>
<line x1="1012.00" y1="146.50" x2="1340.80" y2="146.50" stroke="#f4f4f4" stroke-width="0.8"/>
<g fill="none" stroke="#4a3a36" stroke-opacity="0.6" stroke-width="0.8">
<circle cx="1031.5" cy="211.1" r="1.20"/>
<circle cx="1031.6" cy="223.6" r="2.90"/>
<circle cx="1031.5" cy="226.8" r="0.87"/>
<circle cx="1032.6" cy="219.9" r="1.38"/>
<circle cx="1033.6" cy="215.3" r="1.15"/>
<circle cx="1032.9" cy="225.8" r="1.75"/>
<circle cx="1032.6" cy="226.0" r="0.60"/>
<circle cx="1034.2" cy="227.9" r="2.12"/>
<circle cx="1033.7" cy="227.7" r="1.38"/>
<circle cx="1032.2" cy="234.8" r="2.53"/>
<circle cx="1032.4" cy="232.7" r="1.56"/>
<circle cx="1032.9" cy="233.2" r="1.24"/>
<circle cx="1034.0" cy="237.8" r="1.93"/>
<circle cx="1033.9" cy="238.4" r="1.24"/>
<circle cx="1035.1" cy="239.7" r="3.22"/>
<circle cx="1035.5" cy="243.5" r="0.50"/>
<circle cx="1035.5" cy="221.3" r="2.30"/>
<circle cx="1035.5" cy="226.2" r="1.93"/>
<circle cx="1036.0" cy="229.2" r="1.84"/>
<circle cx="1036.4" cy="215.9" r="1.24"/>
<circle cx="1036.9" cy="218.7" r="1.93"/>
<circle cx="1036.8" cy="222.8" r="1.84"/>
<circle cx="1036.6" cy="226.0" r="1.84"/>
<circle cx="1036.8" cy="230.1" r="2.53"/>
<circle cx="1036.3" cy="233.0" r="1.75"/>
<circle cx="1036.5" cy="240.3" r="2.39"/>
<circle cx="1037.4" cy="235.8" r="3.50"/>
<circle cx="1038.2" cy="231.0" r="0.50"/>
<circle cx="1039.0" cy="241.7" r="0.50"/>
<circle cx="1039.3" cy="218.7" r="1.38"/>
<circle cx="1039.7" cy="224.2" r="1.61"/>
<circle cx="1038.9" cy="227.1" r="3.86"/>
<circle cx="1039.0" cy="226.2" r="1.75"/>
<circle cx="1039.7" cy="227.3" r="1.56"/>
<circle cx="1041.8" cy="212.2" r="1.38"/>
<circle cx="1041.7" cy="223.1" r="1.15"/>
<circle cx="1042.2" cy="224.8" r="2.12"/>
<circle cx="1044.1" cy="227.1" r="3.68"/>
<circle cx="1043.9" cy="233.6" r="2.90"/>
<circle cx="1043.4" cy="230.3" r="1.56"/>
<circle cx="1040.8" cy="238.8" r="1.75"/>
<circle cx="1042.0" cy="238.6" r="2.53"/>
<circle cx="1044.7" cy="241.3" r="1.15"/>
<circle cx="1036.5" cy="198.7" r="1.93"/>
<circle cx="1041.7" cy="201.9" r="1.20"/>
<circle cx="1056.2" cy="207.5" r="1.61"/>
<circle cx="1068.2" cy="206.8" r="2.71"/>
<circle cx="1065.0" cy="203.8" r="1.75"/>
<circle cx="1066.3" cy="202.0" r="2.53"/>
<circle cx="1078.9" cy="204.0" r="2.39"/>
<circle cx="1052.9" cy="211.3" r="1.47"/>
<circle cx="1050.4" cy="215.9" r="1.47"/>
<circle cx="1050.7" cy="218.9" r="1.84"/>
<circle cx="1052.4" cy="221.3" r="2.53"/>
<circle cx="1056.5" cy="214.6" r="3.50"/>
<circle cx="1058.3" cy="216.1" r="2.90"/>
<circle cx="1060.9" cy="212.1" r="1.10"/>
<circle cx="1076.3" cy="211.8" r="2.44"/>
<circle cx="1069.2" cy="215.9" r="1.93"/>
<circle cx="1073.3" cy="215.6" r="1.75"/>
<circle cx="1055.2" cy="225.4" r="1.93"/>
<circle cx="1057.5" cy="225.8" r="2.30"/>
<circle cx="1058.6" cy="225.3" r="0.60"/>
<circle cx="1048.4" cy="229.5" r="3.31"/>
<circle cx="1050.0" cy="226.3" r="0.50"/>
<circle cx="1060.5" cy="231.7" r="2.12"/>
<circle cx="1066.8" cy="235.9" r="1.24"/>
<circle cx="1081.0" cy="228.0" r="5.24"/>
<circle cx="1086.0" cy="218.5" r="3.13"/>
<circle cx="1060.9" cy="192.8" r="0.64"/>
<circle cx="1070.4" cy="194.6" r="0.69"/>
<circle cx="1070.3" cy="198.7" r="0.50"/>
<circle cx="1075.2" cy="195.3" r="2.71"/>
<circle cx="1074.4" cy="200.3" r="2.53"/>
<circle cx="1073.4" cy="200.2" r="0.78"/>
<circle cx="1080.8" cy="196.1" r="1.61"/>
<circle cx="1087.4" cy="196.0" r="3.50"/>
<circle cx="1093.5" cy="194.0" r="2.71"/>
<circle cx="1092.8" cy="195.6" r="1.93"/>
<circle cx="1085.7" cy="207.2" r="1.56"/>
<circle cx="1090.9" cy="210.9" r="1.84"/>
<circle cx="1090.7" cy="214.8" r="1.93"/>
<circle cx="1096.8" cy="191.5" r="1.38"/>
<circle cx="1100.2" cy="191.0" r="1.15"/>
<circle cx="1102.1" cy="191.7" r="2.53"/>
<circle cx="1105.8" cy="191.7" r="2.90"/>
<circle cx="1106.2" cy="187.0" r="1.56"/>
<circle cx="1116.1" cy="187.6" r="0.69"/>
<circle cx="1135.1" cy="186.9" r="1.66"/>
<circle cx="1098.9" cy="197.9" r="0.97"/>
<circle cx="1102.8" cy="198.6" r="1.33"/>
<circle cx="1103.0" cy="198.7" r="0.74"/>
<circle cx="1098.0" cy="201.5" r="0.55"/>
<circle cx="1124.9" cy="197.3" r="1.61"/>
<circle cx="1116.9" cy="195.1" r="0.69"/>
<circle cx="1115.6" cy="201.2" r="1.33"/>
<circle cx="1125.4" cy="199.7" r="0.50"/>
<circle cx="1101.7" cy="213.2" r="1.66"/>
<circle cx="1130.5" cy="209.6" r="2.71"/>
<circle cx="1141.2" cy="205.7" r="2.12"/>
<circle cx="1056.1" cy="199.3" r="2.44"/>
<circle cx="1088.9" cy="234.4" r="0.50"/>
<circle cx="1250.7" cy="138.5" r="4.19"/>
<circle cx="1209.1" cy="141.0" r="1.61"/>
<circle cx="1260.9" cy="142.7" r="1.61"/>
<circle cx="1170.9" cy="148.6" r="1.38"/>
<circle cx="1214.0" cy="152.2" r="2.58"/>
<circle cx="1235.2" cy="149.4" r="1.38"/>
<circle cx="1168.5" cy="160.9" r="1.61"/>
<circle cx="1208.0" cy="163.8" r="3.08"/>
<circle cx="1207.5" cy="169.1" r="1.29"/>
<circle cx="1222.1" cy="172.2" r="1.61"/>
<circle cx="1233.0" cy="172.4" r="2.25"/>
<circle cx="1236.2" cy="169.0" r="0.50"/>
<circle cx="1275.2" cy="170.4" r="1.61"/>
<circle cx="1234.0" cy="177.5" r="2.07"/>
<circle cx="1161.6" cy="174.0" r="0.50"/>
<circle cx="1148.2" cy="178.9" r="2.44"/>
<circle cx="1162.6" cy="180.1" r="1.79"/>
<circle cx="1167.5" cy="182.5" r="2.90"/>
<circle cx="1191.1" cy="180.3" r="2.90"/>
<circle cx="1204.0" cy="182.5" r="3.08"/>
<circle cx="1196.3" cy="180.3" r="1.15"/>
<circle cx="1145.2" cy="189.1" r="1.15"/>
<circle cx="1173.0" cy="189.6" r="2.71"/>
<circle cx="1224.0" cy="187.9" r="1.61"/>
<circle cx="1206.7" cy="191.7" r="1.93"/>
<circle cx="1281.6" cy="191.1" r="1.29"/>
<circle cx="1515.0" cy="182.4" r="0.50"/>
<circle cx="1198.6" cy="201.5" r="3.54"/>
<circle cx="1180.1" cy="199.6" r="2.71"/>
<circle cx="1159.6" cy="205.4" r="1.61"/>
<circle cx="1149.7" cy="203.8" r="1.15"/>
</g>
<path d="M1031.5,224.3 L1031.5,224.0 L1031.6,223.9 L1031.6,224.2 L1031.7,223.7 L1031.7,223.4 L1031.8,223.7 L1031.8,223.5 L1031.9,223.6 L1032.0,222.8 L1032.0,223.0 L1032.1,223.1 L1032.1,222.9 L1032.2,222.8 L1032.3,221.9 L1032.3,221.9 L1032.4,221.5 L1032.5,221.4 L1032.5,221.8 L1032.6,221.3 L1032.7,221.4 L1032.7,220.8 L1032.8,220.9 L1032.9,220.4 L1033.0,220.0 L1033.1,220.2 L1033.2,220.1 L1033.2,219.2 L1033.3,219.3 L1033.4,219.1 L1033.5,218.6 L1033.6,218.4 L1033.7,217.5 L1033.8,216.8 L1033.9,216.6 L1034.0,216.6 L1034.2,216.4 L1034.3,215.8 L1034.4,215.4 L1034.5,215.4 L1034.6,214.9 L1034.8,213.9 L1034.9,213.7 L1035.0,213.3 L1035.2,213.5 L1035.3,213.0 L1035.4,212.4 L1035.6,212.0 L1035.8,211.8 L1035.9,211.6 L1036.1,211.2 L1036.2,210.4 L1036.4,210.0 L1036.6,210.0 L1036.8,209.4 L1036.9,208.9 L1037.1,208.6 L1037.3,208.8 L1037.5,208.0 L1037.7,208.0 L1037.9,207.5 L1038.2,207.3 L1038.4,207.4 L1038.6,207.1 L1038.8,206.2 L1039.1,205.7 L1039.3,205.8 L1039.6,204.7 L1039.8,203.6 L1040.1,204.1 L1040.4,203.4 L1040.6,203.4 L1040.9,202.8 L1041.2,202.9 L1041.5,202.3 L1041.8,201.8 L1042.2,201.3 L1042.5,201.3 L1042.8,201.0 L1043.2,200.9 L1043.5,199.9 L1043.9,199.9 L1044.3,198.7 L1044.6,197.6 L1045.0,197.2 L1045.4,197.1 L1045.8,196.9 L1046.3,196.9 L1046.7,195.9 L1047.2,195.8 L1047.6,195.7 L1048.1,195.4 L1048.6,194.2 L1049.1,193.6 L1049.6,193.7 L1050.1,193.1 L1050.6,192.2 L1051.2,191.4 L1051.7,191.6 L1052.3,190.7 L1052.9,190.6 L1053.5,189.7 L1054.2,188.4 L1054.8,187.4 L1055.5,187.5 L1056.1,186.6 L1056.8,186.3 L1057.6,186.2 L1058.3,185.8 L1059.0,184.9 L1059.8,184.5 L1060.6,184.2 L1061.4,181.0 L1062.3,180.6 L1063.1,180.0 L1064.0,179.8 L1064.9,179.8 L1065.8,179.3 L1066.8,177.8 L1067.8,177.3 L1068.8,176.6 L1069.8,175.2 L1070.9,175.1 L1071.9,173.8 L1073.1,173.5 L1074.2,172.7 L1075.4,172.5 L1076.6,171.9 L1077.8,171.7 L1079.1,171.1 L1080.4,169.9 L1081.7,168.8 L1083.1,166.6 L1084.5,165.2 L1085.9,164.4 L1087.4,164.4 L1089.0,163.8 L1090.5,163.1 L1092.1,163.1 L1093.8,162.1 L1095.5,160.8 L1097.2,159.5 L1099.0,158.7 L1100.8,157.5 L1102.7,156.8 L1104.6,156.3 L1106.6,155.3 L1108.6,154.8 L1110.7,154.1 L1112.8,153.0 L1115.0,152.6 L1117.3,151.2 L1119.6,150.7 L1122.0,149.8 L1124.4,148.6 L1126.9,147.3 L1129.5,146.7 L1132.1,145.9 L1134.8,145.7 L1137.6,144.5 L1140.5,144.1 L1143.4,143.0 L1146.4,141.5 L1149.5,140.3 L1152.6,138.9 L1155.9,138.7 L1159.2,137.4 L1162.6,136.9 L1166.2,136.0 L1169.8,134.6 L1173.5,134.3 L1177.3,133.7 L1181.2,132.2 L1185.2,131.6 L1189.3,131.2 L1193.5,129.5 L1197.8,127.5 L1202.3,124.4 L1206.8,123.8 L1211.5,122.3 L1216.3,121.8 L1221.2,121.2 L1226.3,119.3 L1231.5,116.8 L1236.8,114.8 L1242.3,112.8 L1247.9,111.2 L1253.7,110.3 L1259.6,109.2 L1265.7,108.8 L1271.9,107.6 L1278.3,106.8 L1284.9,105.1 L1291.6,104.6 L1298.6,103.0 L1305.7,102.3 L1313.0,101.3 L1320.4,100.0 L1328.1,99.4 L1336.0,98.1 L1344.1,97.1 L1344.1,214.1 L1336.0,214.4 L1328.1,214.7 L1320.4,214.9 L1313.0,215.2 L1305.7,215.5 L1298.6,215.7 L1291.6,216.0 L1284.9,216.3 L1278.3,216.6 L1271.9,216.9 L1265.7,217.2 L1259.6,217.5 L1253.7,217.8 L1247.9,218.1 L1242.3,218.5 L1236.8,218.8 L1231.5,219.1 L1226.3,219.5 L1221.2,219.8 L1216.3,220.2 L1211.5,220.5 L1206.8,220.8 L1202.3,221.2 L1197.8,221.5 L1193.5,221.9 L1189.3,222.2 L1185.2,222.5 L1181.2,222.8 L1177.3,223.1 L1173.5,223.4 L1169.8,223.7 L1166.2,224.0 L1162.6,224.3 L1159.2,224.6 L1155.9,224.8 L1152.6,225.1 L1149.5,225.3 L1146.4,225.5 L1143.4,225.7 L1140.5,226.0 L1137.6,226.2 L1134.8,226.4 L1132.1,226.6 L1129.5,226.8 L1126.9,226.9 L1124.4,227.1 L1122.0,227.3 L1119.6,227.5 L1117.3,227.7 L1115.0,227.9 L1112.8,228.1 L1110.7,228.3 L1108.6,228.5 L1106.6,228.7 L1104.6,228.9 L1102.7,229.0 L1100.8,229.2 L1099.0,229.4 L1097.2,229.6 L1095.5,229.8 L1093.8,230.0 L1092.1,230.2 L1090.5,230.4 L1089.0,230.6 L1087.4,230.8 L1085.9,231.0 L1084.5,231.2 L1083.1,231.4 L1081.7,231.5 L1080.4,231.7 L1079.1,231.9 L1077.8,232.1 L1076.6,232.2 L1075.4,232.4 L1074.2,232.6 L1073.1,232.7 L1071.9,232.9 L1070.9,233.1 L1069.8,233.2 L1068.8,233.4 L1067.8,233.5 L1066.8,233.7 L1065.8,233.8 L1064.9,234.0 L1064.0,234.1 L1063.1,234.3 L1062.3,234.4 L1061.4,234.6 L1060.6,234.7 L1059.8,234.9 L1059.0,235.0 L1058.3,235.2 L1057.6,235.3 L1056.8,235.4 L1056.1,235.6 L1055.5,235.7 L1054.8,235.9 L1054.2,236.0 L1053.5,236.1 L1052.9,236.2 L1052.3,236.4 L1051.7,236.5 L1051.2,236.6 L1050.6,236.7 L1050.1,236.8 L1049.6,237.0 L1049.1,237.1 L1048.6,237.2 L1048.1,237.3 L1047.6,237.4 L1047.2,237.5 L1046.7,237.6 L1046.3,237.7 L1045.8,237.8 L1045.4,237.9 L1045.0,238.0 L1044.6,238.1 L1044.3,238.2 L1043.9,238.3 L1043.5,238.4 L1043.2,238.5 L1042.8,238.6 L1042.5,238.7 L1042.2,238.8 L1041.8,238.9 L1041.5,239.0 L1041.2,239.1 L1040.9,239.2 L1040.6,239.3 L1040.4,239.4 L1040.1,239.4 L1039.8,239.5 L1039.6,239.6 L1039.3,239.7 L1039.1,239.8 L1038.8,239.8 L1038.6,239.9 L1038.4,240.0 L1038.2,240.1 L1037.9,240.1 L1037.7,240.2 L1037.5,240.3 L1037.3,240.3 L1037.1,240.4 L1036.9,240.5 L1036.8,240.5 L1036.6,240.6 L1036.4,240.7 L1036.2,240.7 L1036.1,240.8 L1035.9,240.9 L1035.8,240.9 L1035.6,241.0 L1035.4,241.1 L1035.3,241.1 L1035.2,241.2 L1035.0,241.3 L1034.9,241.3 L1034.8,241.4 L1034.6,241.4 L1034.5,241.5 L1034.4,241.6 L1034.3,241.6 L1034.2,241.7 L1034.0,241.8 L1033.9,241.8 L1033.8,241.9 L1033.7,241.9 L1033.6,242.0 L1033.5,242.0 L1033.4,242.1 L1033.3,242.2 L1033.2,242.2 L1033.2,242.3 L1033.1,242.3 L1033.0,242.4 L1032.9,242.4 L1032.8,242.5 L1032.7,242.6 L1032.7,242.6 L1032.6,242.7 L1032.5,242.7 L1032.5,242.8 L1032.4,242.8 L1032.3,242.9 L1032.3,243.0 L1032.2,243.0 L1032.1,243.1 L1032.1,243.1 L1032.0,243.2 L1032.0,243.2 L1031.9,243.3 L1031.8,243.3 L1031.8,243.4 L1031.7,243.5 L1031.7,243.5 L1031.6,243.6 L1031.6,243.6 L1031.5,243.7 L1031.5,243.7Z" fill="#e29678" fill-opacity="0.28"/>
<path d="M1031.5,236.5 L1031.5,236.4 L1031.6,236.3 L1031.6,236.2 L1031.7,236.1 L1031.7,236.0 L1031.8,235.9 L1031.8,235.8 L1031.9,235.7 L1032.0,235.6 L1032.0,235.5 L1032.1,235.4 L1032.1,235.3 L1032.2,235.2 L1032.3,235.1 L1032.3,235.0 L1032.4,234.9 L1032.5,234.7 L1032.5,234.6 L1032.6,234.5 L1032.7,234.4 L1032.7,234.3 L1032.8,234.2 L1032.9,234.1 L1033.0,234.0 L1033.1,233.8 L1033.2,233.7 L1033.2,233.6 L1033.3,233.5 L1033.4,233.4 L1033.5,233.2 L1033.6,233.1 L1033.7,233.0 L1033.8,232.9 L1033.9,232.7 L1034.0,232.6 L1034.2,232.5 L1034.3,232.3 L1034.4,232.2 L1034.5,232.1 L1034.6,231.9 L1034.8,231.8 L1034.9,231.6 L1035.0,231.5 L1035.2,231.3 L1035.3,231.2 L1035.4,231.1 L1035.6,230.9 L1035.8,230.8 L1035.9,230.6 L1036.1,230.5 L1036.2,230.3 L1036.4,230.1 L1036.6,230.0 L1036.8,229.8 L1036.9,229.7 L1037.1,229.5 L1037.3,229.3 L1037.5,229.2 L1037.7,229.0 L1037.9,228.8 L1038.2,228.7 L1038.4,228.5 L1038.6,228.3 L1038.8,228.1 L1039.1,227.9 L1039.3,227.8 L1039.6,227.6 L1039.8,227.4 L1040.1,227.2 L1040.4,227.0 L1040.6,226.8 L1040.9,226.6 L1041.2,226.5 L1041.5,226.3 L1041.8,226.1 L1042.2,225.9 L1042.5,225.7 L1042.8,225.5 L1043.2,225.3 L1043.5,225.0 L1043.9,224.8 L1044.3,224.6 L1044.6,224.4 L1045.0,224.2 L1045.4,224.0 L1045.8,223.8 L1046.3,223.5 L1046.7,223.3 L1047.2,223.1 L1047.6,222.9 L1048.1,222.6 L1048.6,222.4 L1049.1,222.2 L1049.6,221.9 L1050.1,221.7 L1050.6,221.4 L1051.2,221.2 L1051.7,220.9 L1052.3,220.7 L1052.9,220.4 L1053.5,220.1 L1054.2,219.9 L1054.8,219.6 L1055.5,219.3 L1056.1,219.1 L1056.8,218.8 L1057.6,218.5 L1058.3,218.2 L1059.0,217.9 L1059.8,217.6 L1060.6,217.3 L1061.4,217.0 L1062.3,216.7 L1063.1,216.4 L1064.0,216.1 L1064.9,215.7 L1065.8,215.4 L1066.8,215.1 L1067.8,214.7 L1068.8,214.4 L1069.8,214.0 L1070.9,213.7 L1071.9,213.3 L1073.1,213.0 L1074.2,212.6 L1075.4,212.2 L1076.6,211.9 L1077.8,211.5 L1079.1,211.1 L1080.4,210.7 L1081.7,210.3 L1083.1,210.0 L1084.5,209.6 L1085.9,209.2 L1087.4,208.7 L1089.0,208.3 L1090.5,207.9 L1092.1,207.5 L1093.8,207.1 L1095.5,206.6 L1097.2,206.2 L1099.0,205.8 L1100.8,205.3 L1102.7,204.9 L1104.6,204.4 L1106.6,204.0 L1108.6,203.5 L1110.7,203.0 L1112.8,202.6 L1115.0,202.1 L1117.3,201.6 L1119.6,201.1 L1122.0,200.6 L1124.4,200.1 L1126.9,199.6 L1129.5,199.1 L1132.1,198.5 L1134.8,198.0 L1137.6,197.5 L1140.5,196.9 L1143.4,196.4 L1146.4,195.9 L1149.5,195.3 L1152.6,194.7 L1155.9,194.2 L1159.2,193.6 L1162.6,193.0 L1166.2,192.4 L1169.8,191.8 L1173.5,191.2 L1177.3,190.6 L1181.2,190.0 L1185.2,189.4 L1189.3,188.8 L1193.5,188.1 L1197.8,187.5 L1202.3,186.9 L1206.8,186.2 L1211.5,185.5 L1216.3,184.9 L1221.2,184.2 L1226.3,183.5 L1231.5,182.8 L1236.8,182.1 L1242.3,181.3 L1247.9,180.6 L1253.7,179.9 L1259.6,179.1 L1265.7,178.4 L1271.9,177.6 L1278.3,176.8 L1284.9,176.0 L1291.6,175.2 L1298.6,174.4 L1305.7,173.6 L1313.0,172.8 L1320.4,171.9 L1328.1,171.0 L1336.0,170.2 L1344.1,169.3 L1344.1,184.5 L1336.0,185.0 L1328.1,185.5 L1320.4,186.0 L1313.0,186.5 L1305.7,187.0 L1298.6,187.5 L1291.6,188.0 L1284.9,188.5 L1278.3,189.0 L1271.9,189.5 L1265.7,190.0 L1259.6,190.5 L1253.7,190.9 L1247.9,191.4 L1242.3,191.9 L1236.8,192.4 L1231.5,192.8 L1226.3,193.3 L1221.2,193.8 L1216.3,194.2 L1211.5,194.7 L1206.8,195.1 L1202.3,195.6 L1197.8,196.1 L1193.5,196.5 L1189.3,196.9 L1185.2,197.4 L1181.2,197.8 L1177.3,198.3 L1173.5,198.7 L1169.8,199.1 L1166.2,199.5 L1162.6,200.0 L1159.2,200.4 L1155.9,200.8 L1152.6,201.2 L1149.5,201.6 L1146.4,202.0 L1143.4,202.4 L1140.5,202.8 L1137.6,203.2 L1134.8,203.6 L1132.1,204.0 L1129.5,204.4 L1126.9,204.8 L1124.4,205.1 L1122.0,205.5 L1119.6,205.9 L1117.3,206.3 L1115.0,206.6 L1112.8,207.0 L1110.7,207.3 L1108.6,207.7 L1106.6,208.1 L1104.6,208.4 L1102.7,208.8 L1100.8,209.1 L1099.0,209.5 L1097.2,209.8 L1095.5,210.1 L1093.8,210.5 L1092.1,210.8 L1090.5,211.1 L1089.0,211.5 L1087.4,211.8 L1085.9,212.1 L1084.5,212.5 L1083.1,212.8 L1081.7,213.1 L1080.4,213.4 L1079.1,213.7 L1077.8,214.0 L1076.6,214.3 L1075.4,214.6 L1074.2,214.9 L1073.1,215.2 L1071.9,215.5 L1070.9,215.8 L1069.8,216.1 L1068.8,216.4 L1067.8,216.7 L1066.8,217.0 L1065.8,217.3 L1064.9,217.6 L1064.0,217.8 L1063.1,218.1 L1062.3,218.4 L1061.4,218.7 L1060.6,219.0 L1059.8,219.2 L1059.0,219.5 L1058.3,219.8 L1057.6,220.1 L1056.8,220.3 L1056.1,220.6 L1055.5,220.9 L1054.8,221.2 L1054.2,221.4 L1053.5,221.7 L1052.9,221.9 L1052.3,222.2 L1051.7,222.5 L1051.2,222.7 L1050.6,223.0 L1050.1,223.2 L1049.6,223.5 L1049.1,223.7 L1048.6,224.0 L1048.1,224.2 L1047.6,224.5 L1047.2,224.7 L1046.7,225.0 L1046.3,225.2 L1045.8,225.4 L1045.4,225.7 L1045.0,225.9 L1044.6,226.1 L1044.3,226.4 L1043.9,226.6 L1043.5,226.8 L1043.2,227.0 L1042.8,227.3 L1042.5,227.5 L1042.2,227.7 L1041.8,227.9 L1041.5,228.1 L1041.2,228.3 L1040.9,228.5 L1040.6,228.7 L1040.4,228.9 L1040.1,229.1 L1039.8,229.3 L1039.6,229.5 L1039.3,229.7 L1039.1,229.9 L1038.8,230.1 L1038.6,230.3 L1038.4,230.5 L1038.2,230.7 L1037.9,230.9 L1037.7,231.1 L1037.5,231.2 L1037.3,231.4 L1037.1,231.6 L1036.9,231.8 L1036.8,232.0 L1036.6,232.1 L1036.4,232.3 L1036.2,232.5 L1036.1,232.6 L1035.9,232.8 L1035.8,233.0 L1035.6,233.1 L1035.4,233.3 L1035.3,233.5 L1035.2,233.6 L1035.0,233.8 L1034.9,233.9 L1034.8,234.1 L1034.6,234.2 L1034.5,234.4 L1034.4,234.5 L1034.3,234.7 L1034.2,234.8 L1034.0,235.0 L1033.9,235.1 L1033.8,235.3 L1033.7,235.4 L1033.6,235.6 L1033.5,235.7 L1033.4,235.9 L1033.3,236.0 L1033.2,236.1 L1033.2,236.3 L1033.1,236.4 L1033.0,236.5 L1032.9,236.7 L1032.8,236.8 L1032.7,236.9 L1032.7,237.1 L1032.6,237.2 L1032.5,237.3 L1032.5,237.4 L1032.4,237.6 L1032.3,237.7 L1032.3,237.8 L1032.2,237.9 L1032.1,238.0 L1032.1,238.2 L1032.0,238.3 L1032.0,238.4 L1031.9,238.5 L1031.8,238.6 L1031.8,238.7 L1031.7,238.8 L1031.7,238.9 L1031.6,239.0 L1031.6,239.1 L1031.5,239.2 L1031.5,239.3Z" fill="#d78d72" fill-opacity="0.72"/>
<path d="M1031.5,238.0 L1031.5,237.9 L1031.6,237.8 L1031.6,237.7 L1031.7,237.6 L1031.7,237.5 L1031.8,237.4 L1031.8,237.3 L1031.9,237.2 L1032.0,237.1 L1032.0,237.0 L1032.1,236.9 L1032.1,236.7 L1032.2,236.6 L1032.3,236.5 L1032.3,236.4 L1032.4,236.3 L1032.5,236.2 L1032.5,236.0 L1032.6,235.9 L1032.7,235.8 L1032.7,235.7 L1032.8,235.6 L1032.9,235.4 L1033.0,235.3 L1033.1,235.2 L1033.2,235.1 L1033.2,234.9 L1033.3,234.8 L1033.4,234.7 L1033.5,234.5 L1033.6,234.4 L1033.7,234.3 L1033.8,234.1 L1033.9,234.0 L1034.0,233.8 L1034.2,233.7 L1034.3,233.6 L1034.4,233.4 L1034.5,233.3 L1034.6,233.1 L1034.8,233.0 L1034.9,232.8 L1035.0,232.7 L1035.2,232.5 L1035.3,232.4 L1035.4,232.2 L1035.6,232.1 L1035.8,231.9 L1035.9,231.7 L1036.1,231.6 L1036.2,231.4 L1036.4,231.3 L1036.6,231.1 L1036.8,230.9 L1036.9,230.7 L1037.1,230.6 L1037.3,230.4 L1037.5,230.2 L1037.7,230.1 L1037.9,229.9 L1038.2,229.7 L1038.4,229.5 L1038.6,229.3 L1038.8,229.2 L1039.1,229.0 L1039.3,228.8 L1039.6,228.6 L1039.8,228.4 L1040.1,228.2 L1040.4,228.0 L1040.6,227.8 L1040.9,227.6 L1041.2,227.4 L1041.5,227.2 L1041.8,227.0 L1042.2,226.8 L1042.5,226.6 L1042.8,226.4 L1043.2,226.2 L1043.5,225.9 L1043.9,225.7 L1044.3,225.5 L1044.6,225.3 L1045.0,225.1 L1045.4,224.8 L1045.8,224.6 L1046.3,224.4 L1046.7,224.2 L1047.2,223.9 L1047.6,223.7 L1048.1,223.4 L1048.6,223.2 L1049.1,223.0 L1049.6,222.7 L1050.1,222.5 L1050.6,222.2 L1051.2,222.0 L1051.7,221.7 L1052.3,221.4 L1052.9,221.2 L1053.5,220.9 L1054.2,220.7 L1054.8,220.4 L1055.5,220.1 L1056.1,219.8 L1056.8,219.6 L1057.6,219.3 L1058.3,219.0 L1059.0,218.7 L1059.8,218.4 L1060.6,218.1 L1061.4,217.9 L1062.3,217.6 L1063.1,217.3 L1064.0,217.0 L1064.9,216.7 L1065.8,216.4 L1066.8,216.0 L1067.8,215.7 L1068.8,215.4 L1069.8,215.1 L1070.9,214.8 L1071.9,214.5 L1073.1,214.1 L1074.2,213.8 L1075.4,213.5 L1076.6,213.1 L1077.8,212.8 L1079.1,212.4 L1080.4,212.1 L1081.7,211.7 L1083.1,211.4 L1084.5,211.0 L1085.9,210.7 L1087.4,210.3 L1089.0,209.9 L1090.5,209.6 L1092.1,209.2 L1093.8,208.8 L1095.5,208.4 L1097.2,208.0 L1099.0,207.7 L1100.8,207.3 L1102.7,206.9 L1104.6,206.5 L1106.6,206.1 L1108.6,205.7 L1110.7,205.2 L1112.8,204.8 L1115.0,204.4 L1117.3,204.0 L1119.6,203.6 L1122.0,203.1 L1124.4,202.7 L1126.9,202.2 L1129.5,201.8 L1132.1,201.3 L1134.8,200.9 L1137.6,200.4 L1140.5,200.0 L1143.4,199.5 L1146.4,199.0 L1149.5,198.6 L1152.6,198.1 L1155.9,197.6 L1159.2,197.1 L1162.6,196.6 L1166.2,196.1 L1169.8,195.6 L1173.5,195.1 L1177.3,194.6 L1181.2,194.1 L1185.2,193.5 L1189.3,193.0 L1193.5,192.5 L1197.8,191.9 L1202.3,191.4 L1206.8,190.8 L1211.5,190.3 L1216.3,189.7 L1221.2,189.2 L1226.3,188.6 L1231.5,188.0 L1236.8,187.4 L1242.3,186.8 L1247.9,186.3 L1253.7,185.7 L1259.6,185.0 L1265.7,184.4 L1271.9,183.8 L1278.3,183.2 L1284.9,182.6 L1291.6,181.9 L1298.6,181.3 L1305.7,180.6 L1313.0,180.0 L1320.4,179.3 L1328.1,178.7 L1336.0,178.0 L1344.1,177.3" fill="none" stroke="#dc9a80" stroke-width="3.6"/>
<path d="M1031.5,238.0 L1031.5,237.9 L1031.6,237.8 L1031.6,237.7 L1031.7,237.6 L1031.7,237.5 L1031.8,237.4 L1031.8,237.3 L1031.9,237.2 L1032.0,237.1 L1032.0,237.0 L1032.1,236.9 L1032.1,236.7 L1032.2,236.6 L1032.3,236.5 L1032.3,236.4 L1032.4,236.3 L1032.5,236.2 L1032.5,236.0 L1032.6,235.9 L1032.7,235.8 L1032.7,235.7 L1032.8,235.6 L1032.9,235.4 L1033.0,235.3 L1033.1,235.2 L1033.2,235.1 L1033.2,234.9 L1033.3,234.8 L1033.4,234.7 L1033.5,234.5 L1033.6,234.4 L1033.7,234.3 L1033.8,234.1 L1033.9,234.0 L1034.0,233.8 L1034.2,233.7 L1034.3,233.6 L1034.4,233.4 L1034.5,233.3 L1034.6,233.1 L1034.8,233.0 L1034.9,232.8 L1035.0,232.7 L1035.2,232.5 L1035.3,232.4 L1035.4,232.2 L1035.6,232.1 L1035.8,231.9 L1035.9,231.7 L1036.1,231.6 L1036.2,231.4 L1036.4,231.3 L1036.6,231.1 L1036.8,230.9 L1036.9,230.7 L1037.1,230.6 L1037.3,230.4 L1037.5,230.2 L1037.7,230.1 L1037.9,229.9 L1038.2,229.7 L1038.4,229.5 L1038.6,229.3 L1038.8,229.2 L1039.1,229.0 L1039.3,228.8 L1039.6,228.6 L1039.8,228.4 L1040.1,228.2 L1040.4,228.0 L1040.6,227.8 L1040.9,227.6 L1041.2,227.4 L1041.5,227.2 L1041.8,227.0 L1042.2,226.8 L1042.5,226.6 L1042.8,226.4 L1043.2,226.2 L1043.5,225.9 L1043.9,225.7 L1044.3,225.5 L1044.6,225.3 L1045.0,225.1 L1045.4,224.8 L1045.8,224.6 L1046.3,224.4 L1046.7,224.2 L1047.2,223.9 L1047.6,223.7 L1048.1,223.4 L1048.6,223.2 L1049.1,223.0 L1049.6,222.7 L1050.1,222.5 L1050.6,222.2 L1051.2,222.0 L1051.7,221.7 L1052.3,221.4 L1052.9,221.2 L1053.5,220.9 L1054.2,220.7 L1054.8,220.4 L1055.5,220.1 L1056.1,219.8 L1056.8,219.6 L1057.6,219.3 L1058.3,219.0 L1059.0,218.7 L1059.8,218.4 L1060.6,218.1 L1061.4,217.9 L1062.3,217.6 L1063.1,217.3 L1064.0,217.0 L1064.9,216.7 L1065.8,216.4 L1066.8,216.0 L1067.8,215.7 L1068.8,215.4 L1069.8,215.1 L1070.9,214.8 L1071.9,214.5 L1073.1,214.1 L1074.2,213.8 L1075.4,213.5 L1076.6,213.1 L1077.8,212.8 L1079.1,212.4 L1080.4,212.1 L1081.7,211.7 L1083.1,211.4 L1084.5,211.0 L1085.9,210.7 L1087.4,210.3 L1089.0,209.9 L1090.5,209.6 L1092.1,209.2 L1093.8,208.8 L1095.5,208.4 L1097.2,208.0 L1099.0,207.7 L1100.8,207.3 L1102.7,206.9 L1104.6,206.5 L1106.6,206.1 L1108.6,205.7 L1110.7,205.2 L1112.8,204.8 L1115.0,204.4 L1117.3,204.0 L1119.6,203.6 L1122.0,203.1 L1124.4,202.7 L1126.9,202.2 L1129.5,201.8 L1132.1,201.3 L1134.8,200.9 L1137.6,200.4 L1140.5,200.0 L1143.4,199.5 L1146.4,199.0 L1149.5,198.6 L1152.6,198.1 L1155.9,197.6 L1159.2,197.1 L1162.6,196.6 L1166.2,196.1 L1169.8,195.6 L1173.5,195.1 L1177.3,194.6 L1181.2,194.1 L1185.2,193.5 L1189.3,193.0 L1193.5,192.5 L1197.8,191.9 L1202.3,191.4 L1206.8,190.8 L1211.5,190.3 L1216.3,189.7 L1221.2,189.2 L1226.3,188.6 L1231.5,188.0 L1236.8,187.4 L1242.3,186.8 L1247.9,186.3 L1253.7,185.7 L1259.6,185.0 L1265.7,184.4 L1271.9,183.8 L1278.3,183.2 L1284.9,182.6 L1291.6,181.9 L1298.6,181.3 L1305.7,180.6 L1313.0,180.0 L1320.4,179.3 L1328.1,178.7 L1336.0,178.0 L1344.1,177.3" fill="none" stroke="#8a4229" stroke-width="1.7"/>
</g>
<text transform="translate(988.81,117.50) scale(0.9116,1.0000)" font-family='"Liberation Sans", sans-serif' font-size="19.6" fill="#111">1000</text>
<text transform="translate(991.75,186.80) scale(0.8888,1.0000)" font-family='"Liberation Sans", sans-serif' font-size="19.6" fill="#111">500</text>
<text transform="translate(1003.49,254.20) scale(1.1240,1.0000)" font-family='"Liberation Sans", sans-serif' font-size="21.5" fill="#111">0</text>
<text transform="translate(1073.64,267.80) scale(0.9895,1.0000)" font-family='"DejaVu Sans", sans-serif' font-size="19" fill="#111">20000</text>
<text transform="translate(1170.31,267.80) scale(0.9814,1.0000)" font-family='"DejaVu Sans", sans-serif' font-size="19" fill="#111">40000</text>
<text transform="translate(1273.43,267.80) scale(0.9879,1.0000)" font-family='"DejaVu Sans", sans-serif' font-size="19" fill="#111">60000</text>
<text transform="translate(1123.17,288.40) scale(1.0144,1.0000)" font-family='"DejaVu Sans", sans-serif' font-size="18.5" fill="#111">GDP per capita</text>
<text transform="translate(974.80,249.41) rotate(-90) scale(1.0089,1.0000)" font-family='"DejaVu Sans", sans-serif' font-size="15.5" fill="#111">kg MSW/cap/year</text>
<text transform="translate(235.35,41.40) scale(1.0103,1.0000)" font-family='"Liberation Sans", sans-serif' font-size="50" fill="#000">a) Waste Generation</text>
<text transform="translate(126.70,676.91) rotate(-90) scale(0.8983,1.0000)" font-family='"DejaVu Sans", sans-serif' font-size="41" fill="#000">kg Waste / capita / year</text>
<text transform="translate(131.94,330.60)" font-family='"DejaVu Sans", sans-serif' font-size="47" fill="#000">1000</text>
<text transform="translate(156.09,579.00) scale(1.0750,1.0000)" font-family='"DejaVu Sans", sans-serif' font-size="46" fill="#000">500</text>
<text transform="translate(207.79,834.30)" font-family='"DejaVu Sans", sans-serif' font-size="43" fill="#000">0</text>
<text transform="translate(426.52,869.20)" font-family='"DejaVu Sans", sans-serif' font-size="45.2" fill="#000">1000</text>
<text transform="translate(844.87,869.20)" font-family='"DejaVu Sans", sans-serif' font-size="45.2" fill="#000">10000</text>
<text transform="translate(1140.31,869.20)" font-family='"DejaVu Sans", sans-serif' font-size="45.2" fill="#000">50000</text>
<text transform="translate(462.89,935.60) scale(1.0324,1.0000)" font-family='"Liberation Sans", sans-serif' font-size="40.8" fill="#000">GDP per capita (2011 PPP USD/year)</text>
<text transform="translate(441.44,423.20) scale(1.0807,1.0000)" font-family='"Liberation Sans", sans-serif' font-size="25" fill="#111">logMSW</text>
<text transform="translate(557.81,423.20)" font-family='"Liberation Sans", sans-serif' font-size="25" fill="#111">=</text>
<text transform="translate(578.00,423.20) scale(1.0624,1.0000)" font-family='"Liberation Sans", sans-serif' font-size="25" fill="#111">0.37</text>
<text transform="translate(631.17,423.20) scale(1.1286,1.0000)" font-family='"Liberation Sans", sans-serif' font-size="25" fill="#111">log</text>
<text transform="translate(671.93,423.20) scale(1.0169,1.0000)" font-family='"Liberation Sans", sans-serif' font-size="25" fill="#111">GDP</text>
<text transform="translate(726.30,427.50) scale(1.1972,1.0000)" font-family='"Liberation Sans", sans-serif' font-size="12" fill="#111">pc</text>
<text transform="translate(748.61,423.20)" font-family='"Liberation Sans", sans-serif' font-size="25" fill="#111">+</text>
<text transform="translate(769.13,423.20) scale(1.0991,1.0000)" font-family='"Liberation Sans", sans-serif' font-size="25" fill="#111">2.16</text>
<text transform="translate(590.12,464.90)" font-family='"Liberation Sans", sans-serif' font-size="22.5" font-style="italic" fill="#111">L</text>
<text transform="translate(605.32,464.90)" font-family='"Liberation Sans", sans-serif' font-size="22.5" font-style="italic" fill="#111">O</text>
<text transform="translate(625.32,464.90)" font-family='"Liberation Sans", sans-serif' font-size="22.5" font-style="italic" fill="#111">O</text>
<text transform="translate(647.55,464.90)" font-family='"Liberation Sans", sans-serif' font-size="20" fill="#111">−</text>
<text transform="translate(664.83,464.90)" font-family='"Liberation Sans", sans-serif' font-size="22.5" font-style="italic" fill="#111">R</text>
<text transform="translate(684.60,455.50)" font-family='"Liberation Sans", sans-serif' font-size="14" fill="#111">2</text>
<text transform="translate(692.35,464.90)" font-family='"Liberation Sans", sans-serif' font-size="20" fill="#111">=</text>
<text transform="translate(709.30,464.90) scale(1.0691,1.0000)" font-family='"Liberation Sans", sans-serif' font-size="22.5" fill="#111">0.59</text>
<clipPath id="clip00"><rect x="176.5" y="1175.5" width="394.0" height="306.0"/></clipPath>
<g clip-path="url(#clip00)">
<line x1="185.55" y1="1175.50" x2="185.55" y2="1481.50" stroke="#e9e9e9" stroke-width="1.5"/>
<line x1="332.85" y1="1175.50" x2="332.85" y2="1481.50" stroke="#e9e9e9" stroke-width="1.5"/>
<line x1="457.98" y1="1175.50" x2="457.98" y2="1481.50" stroke="#e9e9e9" stroke-width="1.5"/>
<line x1="560.94" y1="1175.50" x2="560.94" y2="1481.50" stroke="#e9e9e9" stroke-width="1.5"/>
<line x1="176.50" y1="1430.08" x2="570.50" y2="1430.08" stroke="#e9e9e9" stroke-width="1.5"/>
<line x1="176.50" y1="1354.83" x2="570.50" y2="1354.83" stroke="#e9e9e9" stroke-width="1.5"/>
<line x1="176.50" y1="1279.58" x2="570.50" y2="1279.58" stroke="#e9e9e9" stroke-width="1.5"/>
<line x1="176.50" y1="1204.33" x2="570.50" y2="1204.33" stroke="#e9e9e9" stroke-width="1.5"/>
<line x1="259.20" y1="1175.50" x2="259.20" y2="1481.50" stroke="#e3e3e3" stroke-width="2.6"/>
<line x1="406.50" y1="1175.50" x2="406.50" y2="1481.50" stroke="#e3e3e3" stroke-width="2.6"/>
<line x1="509.46" y1="1175.50" x2="509.46" y2="1481.50" stroke="#e3e3e3" stroke-width="2.6"/>
<line x1="176.50" y1="1467.70" x2="570.50" y2="1467.70" stroke="#e3e3e3" stroke-width="2.9"/>
<line x1="176.50" y1="1392.45" x2="570.50" y2="1392.45" stroke="#e3e3e3" stroke-width="2.9"/>
<line x1="176.50" y1="1317.20" x2="570.50" y2="1317.20" stroke="#e3e3e3" stroke-width="2.9"/>
<line x1="176.50" y1="1241.95" x2="570.50" y2="1241.95" stroke="#e3e3e3" stroke-width="2.9"/>
<g fill="none" stroke="#262626" stroke-width="1.35">
<ellipse cx="264.4" cy="1205.8" rx="4.99" ry="5.80"/>
<ellipse cx="287.3" cy="1223.3" rx="5.42" ry="6.30"/>
<ellipse cx="304.1" cy="1218.1" rx="2.58" ry="3.00"/>
<ellipse cx="194.0" cy="1225.4" rx="1.12" ry="1.25" fill="#333" stroke="none"/>
<ellipse cx="269.8" cy="1245.1" rx="3.10" ry="3.60"/>
<ellipse cx="304.8" cy="1249.7" rx="5.59" ry="6.50"/>
<ellipse cx="277.5" cy="1258.1" rx="1.84" ry="2.05" fill="#333" stroke="none"/>
<ellipse cx="268.6" cy="1267.2" rx="2.41" ry="2.80"/>
<ellipse cx="311.2" cy="1268.6" rx="1.98" ry="2.30"/>
<ellipse cx="318.9" cy="1270.0" rx="3.10" ry="3.60"/>
<ellipse cx="356.4" cy="1262.6" rx="3.44" ry="4.00"/>
<ellipse cx="366.2" cy="1258.8" rx="3.01" ry="3.50"/>
<ellipse cx="326.9" cy="1285.2" rx="4.82" ry="5.60"/>
<ellipse cx="282.9" cy="1284.4" rx="1.40" ry="1.55" fill="#333" stroke="none"/>
<ellipse cx="261.3" cy="1288.3" rx="3.01" ry="3.50"/>
<ellipse cx="247.9" cy="1294.3" rx="1.30" ry="1.45" fill="#333" stroke="none"/>
<ellipse cx="282.2" cy="1297.4" rx="3.70" ry="4.30"/>
<ellipse cx="279.2" cy="1311.4" rx="3.01" ry="3.50"/>
<ellipse cx="265.4" cy="1311.9" rx="1.12" ry="1.25" fill="#333" stroke="none"/>
<ellipse cx="317.5" cy="1314.0" rx="3.27" ry="3.80"/>
<ellipse cx="344.4" cy="1311.4" rx="4.90" ry="5.70"/>
<ellipse cx="375.3" cy="1282.0" rx="2.84" ry="3.30"/>
<ellipse cx="351.4" cy="1298.1" rx="1.57" ry="1.75" fill="#333" stroke="none"/>
<ellipse cx="356.1" cy="1303.0" rx="1.40" ry="1.55" fill="#333" stroke="none"/>
<ellipse cx="369.0" cy="1305.8" rx="6.45" ry="7.50"/>
<ellipse cx="372.5" cy="1298.1" rx="4.30" ry="5.00"/>
<ellipse cx="366.6" cy="1318.5" rx="1.12" ry="1.25" fill="#333" stroke="none"/>
<ellipse cx="414.9" cy="1250.1" rx="4.82" ry="5.60"/>
<ellipse cx="441.6" cy="1250.8" rx="1.57" ry="1.75" fill="#333" stroke="none"/>
<ellipse cx="391.8" cy="1261.6" rx="1.57" ry="1.75" fill="#333" stroke="none"/>
<ellipse cx="398.5" cy="1264.1" rx="1.57" ry="1.75" fill="#333" stroke="none"/>
<ellipse cx="377.3" cy="1273.3" rx="1.30" ry="1.45" fill="#333" stroke="none"/>
<ellipse cx="401.2" cy="1274.7" rx="4.21" ry="4.90"/>
<ellipse cx="408.6" cy="1284.8" rx="8.43" ry="9.80"/>
<ellipse cx="422.6" cy="1276.4" rx="4.73" ry="5.50"/>
<ellipse cx="395.7" cy="1289.7" rx="3.44" ry="4.00"/>
<ellipse cx="385.2" cy="1292.2" rx="1.81" ry="2.10"/>
<ellipse cx="468.2" cy="1281.3" rx="1.63" ry="1.90"/>
<ellipse cx="419.1" cy="1299.8" rx="2.41" ry="2.80"/>
<ellipse cx="414.2" cy="1301.2" rx="1.30" ry="1.45" fill="#333" stroke="none"/>
<ellipse cx="390.8" cy="1305.1" rx="3.35" ry="3.90"/>
<ellipse cx="403.0" cy="1308.4" rx="2.75" ry="3.20"/>
<ellipse cx="422.2" cy="1308.4" rx="1.81" ry="2.10"/>
<ellipse cx="430.6" cy="1308.6" rx="5.16" ry="6.00"/>
<ellipse cx="431.3" cy="1311.0" rx="1.12" ry="1.25" fill="#333" stroke="none"/>
<ellipse cx="416.3" cy="1314.2" rx="6.02" ry="7.00"/>
<ellipse cx="431.1" cy="1322.7" rx="3.96" ry="4.60"/>
<ellipse cx="429.6" cy="1331.8" rx="2.15" ry="2.50"/>
<ellipse cx="426.1" cy="1337.8" rx="1.57" ry="1.75" fill="#333" stroke="none"/>
<ellipse cx="474.1" cy="1321.3" rx="3.96" ry="4.60"/>
<ellipse cx="496.7" cy="1322.9" rx="2.92" ry="3.40"/>
<ellipse cx="462.2" cy="1331.8" rx="3.10" ry="3.60"/>
<ellipse cx="488.3" cy="1338.8" rx="1.48" ry="1.65" fill="#333" stroke="none"/>
<ellipse cx="508.7" cy="1351.4" rx="1.57" ry="1.75" fill="#333" stroke="none"/>
<ellipse cx="493.9" cy="1351.9" rx="1.48" ry="1.65" fill="#333" stroke="none"/>
<ellipse cx="387.8" cy="1357.3" rx="3.78" ry="4.40"/>
<ellipse cx="452.1" cy="1356.4" rx="3.35" ry="3.90"/>
<ellipse cx="454.2" cy="1352.8" rx="1.30" ry="1.45" fill="#333" stroke="none"/>
<ellipse cx="471.8" cy="1364.8" rx="4.21" ry="4.90"/>
<ellipse cx="484.0" cy="1360.6" rx="4.21" ry="4.90"/>
<ellipse cx="484.0" cy="1360.6" rx="1.12" ry="1.25" fill="#333" stroke="none"/>
<ellipse cx="497.0" cy="1362.0" rx="2.41" ry="2.80"/>
<ellipse cx="482.3" cy="1371.6" rx="3.61" ry="4.20"/>
<ellipse cx="477.4" cy="1379.1" rx="3.96" ry="4.60"/>
<ellipse cx="488.3" cy="1378.6" rx="4.21" ry="4.90"/>
<ellipse cx="492.8" cy="1374.1" rx="1.22" ry="1.35" fill="#333" stroke="none"/>
<ellipse cx="501.9" cy="1383.5" rx="6.88" ry="8.00"/>
<ellipse cx="510.4" cy="1378.2" rx="1.30" ry="1.45" fill="#333" stroke="none"/>
<ellipse cx="497.0" cy="1381.4" rx="1.12" ry="1.25" fill="#333" stroke="none"/>
<ellipse cx="419.1" cy="1375.8" rx="2.41" ry="2.80"/>
<ellipse cx="433.4" cy="1383.3" rx="5.76" ry="6.70"/>
<ellipse cx="434.1" cy="1378.2" rx="1.22" ry="1.35" fill="#333" stroke="none"/>
<ellipse cx="458.4" cy="1384.7" rx="3.01" ry="3.50"/>
<ellipse cx="490.3" cy="1396.9" rx="3.35" ry="3.90"/>
<ellipse cx="448.3" cy="1401.1" rx="1.75" ry="1.95" fill="#333" stroke="none"/>
<ellipse cx="486.5" cy="1410.6" rx="4.13" ry="4.80"/>
<ellipse cx="487.2" cy="1407.0" rx="1.72" ry="2.00"/>
<ellipse cx="400.2" cy="1419.3" rx="3.96" ry="4.60"/>
<ellipse cx="388.0" cy="1419.8" rx="1.30" ry="1.45" fill="#333" stroke="none"/>
<ellipse cx="521.6" cy="1424.0" rx="1.48" ry="1.65" fill="#333" stroke="none"/>
<ellipse cx="328.0" cy="1335.8" rx="6.28" ry="7.30"/>
<ellipse cx="325.5" cy="1332.3" rx="2.58" ry="3.00"/>
<ellipse cx="364.4" cy="1335.8" rx="2.32" ry="2.70"/>
<ellipse cx="224.8" cy="1354.5" rx="1.48" ry="1.65" fill="#333" stroke="none"/>
<ellipse cx="245.9" cy="1354.5" rx="1.40" ry="1.55" fill="#333" stroke="none"/>
<ellipse cx="219.2" cy="1360.4" rx="1.72" ry="2.00"/>
<ellipse cx="323.8" cy="1375.1" rx="1.40" ry="1.55" fill="#333" stroke="none"/>
<ellipse cx="274.5" cy="1405.6" rx="2.41" ry="2.80"/>
<ellipse cx="267.2" cy="1415.8" rx="2.24" ry="2.60"/>
<ellipse cx="330.4" cy="1414.0" rx="1.48" ry="1.65" fill="#333" stroke="none"/>
<ellipse cx="298.8" cy="1432.7" rx="2.24" ry="2.60"/>
</g>
<path d="M193.9,1202.0 L196.1,1202.4 L198.4,1203.2 L200.6,1203.1 L202.9,1203.5 L205.1,1203.9 L207.3,1203.9 L209.6,1204.6 L211.8,1205.0 L214.0,1205.5 L216.3,1205.2 L218.5,1205.7 L220.8,1205.8 L223.0,1206.9 L225.2,1207.1 L227.5,1206.8 L229.7,1208.1 L232.0,1208.5 L234.2,1208.5 L236.4,1208.9 L238.7,1208.8 L240.9,1209.1 L243.2,1210.0 L245.4,1209.9 L247.6,1210.5 L249.9,1211.0 L252.1,1211.2 L254.3,1212.1 L256.6,1212.6 L258.8,1213.5 L261.1,1213.7 L263.3,1214.4 L265.5,1214.8 L267.8,1215.6 L270.0,1216.0 L272.3,1216.4 L274.5,1217.8 L276.7,1218.5 L279.0,1219.0 L281.2,1219.5 L283.5,1219.9 L285.7,1220.5 L287.9,1221.3 L290.2,1221.8 L292.4,1223.2 L294.6,1223.6 L296.9,1224.8 L299.1,1225.1 L301.4,1226.4 L303.6,1227.1 L305.8,1227.0 L308.1,1227.9 L310.3,1229.4 L312.6,1229.7 L314.8,1230.9 L317.0,1231.1 L319.3,1231.5 L321.5,1232.8 L323.7,1233.7 L326.0,1233.9 L328.2,1234.5 L330.5,1235.5 L332.7,1236.9 L334.9,1237.4 L337.2,1237.5 L339.4,1238.4 L341.7,1239.1 L343.9,1239.8 L346.1,1241.3 L348.4,1241.5 L350.6,1242.6 L352.9,1243.3 L355.1,1243.8 L357.3,1245.2 L359.6,1245.4 L361.8,1246.7 L364.0,1247.0 L366.3,1248.1 L368.5,1248.7 L370.8,1249.6 L373.0,1251.2 L375.2,1251.9 L377.5,1252.2 L379.7,1253.7 L382.0,1254.0 L384.2,1255.1 L386.4,1256.5 L388.7,1257.3 L390.9,1257.7 L393.1,1259.6 L395.4,1259.8 L397.6,1260.8 L399.9,1262.3 L402.1,1262.9 L404.3,1263.8 L406.6,1264.6 L408.8,1265.6 L411.1,1267.1 L413.3,1267.7 L415.5,1269.0 L417.8,1269.8 L420.0,1270.8 L422.3,1272.3 L424.5,1272.8 L426.7,1273.9 L429.0,1275.1 L431.2,1275.4 L433.4,1276.4 L435.7,1278.1 L437.9,1279.1 L440.2,1279.5 L442.4,1280.4 L444.6,1282.0 L446.9,1283.2 L449.1,1283.5 L451.4,1285.3 L453.6,1286.3 L455.8,1287.1 L458.1,1288.0 L460.3,1288.8 L462.6,1289.8 L464.8,1291.9 L467.0,1292.3 L469.3,1293.9 L471.5,1294.7 L473.7,1296.4 L476.0,1297.4 L478.2,1298.3 L480.5,1299.4 L482.7,1301.1 L484.9,1301.7 L487.2,1303.0 L489.4,1304.5 L491.7,1306.0 L493.9,1307.0 L496.1,1307.8 L498.4,1309.6 L500.6,1310.0 L502.8,1310.9 L505.1,1312.3 L507.3,1313.5 L509.6,1314.2 L511.8,1315.3 L514.0,1316.5 L516.3,1317.7 L518.5,1318.3 L520.8,1319.4 L523.0,1320.9 L525.2,1322.0 L527.5,1322.6 L529.7,1323.5 L532.0,1324.4 L534.2,1324.8 L536.4,1325.6 L538.7,1326.5 L540.9,1328.3 L543.1,1329.1 L545.4,1330.2 L547.6,1330.2 L549.9,1331.8 L552.1,1332.6 L552.1,1425.2 L549.9,1424.0 L547.6,1423.0 L545.4,1422.5 L543.1,1421.2 L540.9,1420.7 L538.7,1419.4 L536.4,1418.8 L534.2,1418.1 L532.0,1417.0 L529.7,1416.1 L527.5,1415.0 L525.2,1414.3 L523.0,1413.7 L520.8,1412.8 L518.5,1411.6 L516.3,1410.9 L514.0,1409.9 L511.8,1409.2 L509.6,1408.3 L507.3,1407.3 L505.1,1405.9 L502.8,1405.3 L500.6,1404.3 L498.4,1403.4 L496.1,1402.4 L493.9,1401.2 L491.7,1400.5 L489.4,1399.4 L487.2,1398.7 L484.9,1397.6 L482.7,1396.7 L480.5,1395.5 L478.2,1394.4 L476.0,1393.7 L473.7,1392.6 L471.5,1391.5 L469.3,1390.3 L467.0,1389.7 L464.8,1388.8 L462.6,1387.3 L460.3,1386.8 L458.1,1385.7 L455.8,1384.5 L453.6,1383.7 L451.4,1382.6 L449.1,1381.5 L446.9,1380.5 L444.6,1379.3 L442.4,1378.2 L440.2,1377.1 L437.9,1376.4 L435.7,1375.2 L433.4,1373.8 L431.2,1372.9 L429.0,1372.0 L426.7,1370.8 L424.5,1370.1 L422.3,1369.2 L420.0,1368.1 L417.8,1367.0 L415.5,1366.0 L413.3,1364.9 L411.1,1364.0 L408.8,1362.7 L406.6,1361.8 L404.3,1361.0 L402.1,1360.4 L399.9,1359.1 L397.6,1358.6 L395.4,1357.6 L393.1,1356.8 L390.9,1356.5 L388.7,1355.4 L386.4,1354.8 L384.2,1354.2 L382.0,1353.0 L379.7,1352.8 L377.5,1351.5 L375.2,1350.7 L373.0,1350.2 L370.8,1349.6 L368.5,1348.7 L366.3,1347.6 L364.0,1346.8 L361.8,1346.0 L359.6,1345.1 L357.3,1344.1 L355.1,1343.3 L352.9,1342.5 L350.6,1341.5 L348.4,1340.7 L346.1,1340.2 L343.9,1339.2 L341.7,1338.4 L339.4,1337.5 L337.2,1336.4 L334.9,1335.3 L332.7,1334.6 L330.5,1333.9 L328.2,1332.9 L326.0,1332.3 L323.7,1331.5 L321.5,1330.6 L319.3,1329.5 L317.0,1328.6 L314.8,1328.0 L312.6,1327.0 L310.3,1326.5 L308.1,1325.4 L305.8,1324.7 L303.6,1324.1 L301.4,1322.9 L299.1,1322.1 L296.9,1321.7 L294.6,1320.7 L292.4,1319.8 L290.2,1319.3 L287.9,1319.0 L285.7,1318.1 L283.5,1317.4 L281.2,1316.9 L279.0,1315.9 L276.7,1315.4 L274.5,1314.9 L272.3,1313.9 L270.0,1313.7 L267.8,1312.6 L265.5,1312.4 L263.3,1311.6 L261.1,1311.0 L258.8,1310.4 L256.6,1309.6 L254.3,1309.1 L252.1,1308.6 L249.9,1308.0 L247.6,1307.1 L245.4,1306.2 L243.2,1305.8 L240.9,1305.2 L238.7,1304.4 L236.4,1303.9 L234.2,1303.3 L232.0,1302.8 L229.7,1302.1 L227.5,1301.3 L225.2,1300.9 L223.0,1300.3 L220.8,1299.5 L218.5,1298.7 L216.3,1298.4 L214.0,1297.7 L211.8,1297.0 L209.6,1296.4 L207.3,1295.9 L205.1,1295.1 L202.9,1294.4 L200.6,1293.5 L198.4,1293.4 L196.1,1292.3 L193.9,1291.9Z" fill="#8fd184" fill-opacity="0.3"/>
<path d="M193.9,1233.5 L196.1,1234.3 L198.4,1235.0 L200.6,1235.8 L202.9,1236.6 L205.1,1237.3 L207.3,1238.1 L209.6,1238.8 L211.8,1239.6 L214.0,1240.3 L216.3,1241.1 L218.5,1241.8 L220.8,1242.6 L223.0,1243.3 L225.2,1244.1 L227.5,1244.8 L229.7,1245.6 L232.0,1246.3 L234.2,1247.1 L236.4,1247.9 L238.7,1248.6 L240.9,1249.4 L243.2,1250.2 L245.4,1251.0 L247.6,1251.8 L249.9,1252.6 L252.1,1253.4 L254.3,1254.2 L256.6,1255.0 L258.8,1255.8 L261.1,1256.7 L263.3,1257.5 L265.5,1258.4 L267.8,1259.2 L270.0,1260.1 L272.3,1260.9 L274.5,1261.8 L276.7,1262.6 L279.0,1263.5 L281.2,1264.4 L283.5,1265.3 L285.7,1266.1 L287.9,1267.0 L290.2,1267.9 L292.4,1268.8 L294.6,1269.7 L296.9,1270.6 L299.1,1271.5 L301.4,1272.4 L303.6,1273.3 L305.8,1274.2 L308.1,1275.1 L310.3,1276.0 L312.6,1276.9 L314.8,1277.8 L317.0,1278.7 L319.3,1279.6 L321.5,1280.5 L323.7,1281.5 L326.0,1282.4 L328.2,1283.3 L330.5,1284.2 L332.7,1285.1 L334.9,1286.1 L337.2,1287.0 L339.4,1287.9 L341.7,1288.8 L343.9,1289.8 L346.1,1290.7 L348.4,1291.6 L350.6,1292.6 L352.9,1293.5 L355.1,1294.5 L357.3,1295.4 L359.6,1296.4 L361.8,1297.3 L364.0,1298.3 L366.3,1299.2 L368.5,1300.2 L370.8,1301.1 L373.0,1302.1 L375.2,1303.1 L377.5,1304.0 L379.7,1305.0 L382.0,1306.0 L384.2,1306.9 L386.4,1307.9 L388.7,1308.9 L390.9,1309.8 L393.1,1310.8 L395.4,1311.8 L397.6,1312.7 L399.9,1313.7 L402.1,1314.7 L404.3,1315.7 L406.6,1316.6 L408.8,1317.6 L411.1,1318.6 L413.3,1319.6 L415.5,1320.6 L417.8,1321.6 L420.0,1322.6 L422.3,1323.6 L424.5,1324.6 L426.7,1325.7 L429.0,1326.7 L431.2,1327.7 L433.4,1328.7 L435.7,1329.7 L437.9,1330.7 L440.2,1331.8 L442.4,1332.8 L444.6,1333.8 L446.9,1334.8 L449.1,1335.7 L451.4,1336.7 L453.6,1337.7 L455.8,1338.6 L458.1,1339.6 L460.3,1340.5 L462.6,1341.5 L464.8,1342.4 L467.0,1343.3 L469.3,1344.2 L471.5,1345.1 L473.7,1346.0 L476.0,1346.9 L478.2,1347.8 L480.5,1348.7 L482.7,1349.6 L484.9,1350.5 L487.2,1351.3 L489.4,1352.2 L491.7,1353.1 L493.9,1354.0 L496.1,1354.8 L498.4,1355.7 L500.6,1356.6 L502.8,1357.5 L505.1,1358.4 L507.3,1359.2 L509.6,1360.1 L511.8,1361.0 L514.0,1361.9 L516.3,1362.8 L518.5,1363.7 L520.8,1364.5 L523.0,1365.4 L525.2,1366.3 L527.5,1367.2 L529.7,1368.0 L532.0,1368.9 L534.2,1369.8 L536.4,1370.7 L538.7,1371.5 L540.9,1372.4 L543.1,1373.3 L545.4,1374.2 L547.6,1375.0 L549.9,1375.9 L552.1,1376.8 L552.1,1391.8 L549.9,1390.7 L547.6,1389.5 L545.4,1388.4 L543.1,1387.3 L540.9,1386.1 L538.7,1385.0 L536.4,1383.8 L534.2,1382.7 L532.0,1381.5 L529.7,1380.4 L527.5,1379.3 L525.2,1378.1 L523.0,1377.0 L520.8,1375.9 L518.5,1374.8 L516.3,1373.6 L514.0,1372.5 L511.8,1371.4 L509.6,1370.3 L507.3,1369.3 L505.1,1368.2 L502.8,1367.1 L500.6,1366.1 L498.4,1365.0 L496.1,1364.0 L493.9,1363.0 L491.7,1361.9 L489.4,1360.9 L487.2,1359.9 L484.9,1358.9 L482.7,1357.8 L480.5,1356.8 L478.2,1355.8 L476.0,1354.8 L473.7,1353.8 L471.5,1352.8 L469.3,1351.8 L467.0,1350.7 L464.8,1349.7 L462.6,1348.7 L460.3,1347.7 L458.1,1346.6 L455.8,1345.6 L453.6,1344.6 L451.4,1343.5 L449.1,1342.5 L446.9,1341.4 L444.6,1340.3 L442.4,1339.3 L440.2,1338.2 L437.9,1337.2 L435.7,1336.1 L433.4,1335.0 L431.2,1334.0 L429.0,1332.9 L426.7,1331.9 L424.5,1330.8 L422.3,1329.8 L420.0,1328.7 L417.8,1327.7 L415.5,1326.7 L413.3,1325.6 L411.1,1324.6 L408.8,1323.6 L406.6,1322.6 L404.3,1321.7 L402.1,1320.7 L399.9,1319.7 L397.6,1318.7 L395.4,1317.7 L393.1,1316.8 L390.9,1315.8 L388.7,1314.8 L386.4,1313.8 L384.2,1312.9 L382.0,1311.9 L379.7,1310.9 L377.5,1310.0 L375.2,1309.0 L373.0,1308.1 L370.8,1307.1 L368.5,1306.2 L366.3,1305.2 L364.0,1304.3 L361.8,1303.3 L359.6,1302.4 L357.3,1301.5 L355.1,1300.5 L352.9,1299.6 L350.6,1298.7 L348.4,1297.8 L346.1,1296.9 L343.9,1296.0 L341.7,1295.1 L339.4,1294.2 L337.2,1293.3 L334.9,1292.4 L332.7,1291.5 L330.5,1290.7 L328.2,1289.8 L326.0,1288.9 L323.7,1288.1 L321.5,1287.2 L319.3,1286.3 L317.0,1285.5 L314.8,1284.6 L312.6,1283.8 L310.3,1282.9 L308.1,1282.1 L305.8,1281.3 L303.6,1280.4 L301.4,1279.6 L299.1,1278.8 L296.9,1277.9 L294.6,1277.1 L292.4,1276.3 L290.2,1275.5 L287.9,1274.7 L285.7,1273.9 L283.5,1273.1 L281.2,1272.4 L279.0,1271.6 L276.7,1270.8 L274.5,1270.0 L272.3,1269.3 L270.0,1268.5 L267.8,1267.8 L265.5,1267.1 L263.3,1266.3 L261.1,1265.6 L258.8,1264.9 L256.6,1264.2 L254.3,1263.5 L252.1,1262.8 L249.9,1262.2 L247.6,1261.5 L245.4,1260.9 L243.2,1260.3 L240.9,1259.7 L238.7,1259.0 L236.4,1258.4 L234.2,1257.9 L232.0,1257.3 L229.7,1256.7 L227.5,1256.1 L225.2,1255.5 L223.0,1255.0 L220.8,1254.4 L218.5,1253.8 L216.3,1253.3 L214.0,1252.7 L211.8,1252.1 L209.6,1251.6 L207.3,1251.0 L205.1,1250.4 L202.9,1249.9 L200.6,1249.3 L198.4,1248.7 L196.1,1248.1 L193.9,1247.5Z" fill="#6dc266" fill-opacity="0.55"/>
<path d="M193.9,1240.5 L196.1,1241.2 L198.4,1241.9 L200.6,1242.5 L202.9,1243.2 L205.1,1243.9 L207.3,1244.5 L209.6,1245.2 L211.8,1245.8 L214.0,1246.5 L216.3,1247.2 L218.5,1247.8 L220.8,1248.5 L223.0,1249.1 L225.2,1249.8 L227.5,1250.5 L229.7,1251.1 L232.0,1251.8 L234.2,1252.5 L236.4,1253.2 L238.7,1253.8 L240.9,1254.5 L243.2,1255.2 L245.4,1255.9 L247.6,1256.7 L249.9,1257.4 L252.1,1258.1 L254.3,1258.9 L256.6,1259.6 L258.8,1260.4 L261.1,1261.1 L263.3,1261.9 L265.5,1262.7 L267.8,1263.5 L270.0,1264.3 L272.3,1265.1 L274.5,1265.9 L276.7,1266.7 L279.0,1267.5 L281.2,1268.4 L283.5,1269.2 L285.7,1270.0 L287.9,1270.9 L290.2,1271.7 L292.4,1272.6 L294.6,1273.4 L296.9,1274.3 L299.1,1275.1 L301.4,1276.0 L303.6,1276.8 L305.8,1277.7 L308.1,1278.6 L310.3,1279.5 L312.6,1280.3 L314.8,1281.2 L317.0,1282.1 L319.3,1283.0 L321.5,1283.9 L323.7,1284.8 L326.0,1285.7 L328.2,1286.5 L330.5,1287.4 L332.7,1288.3 L334.9,1289.2 L337.2,1290.1 L339.4,1291.1 L341.7,1292.0 L343.9,1292.9 L346.1,1293.8 L348.4,1294.7 L350.6,1295.6 L352.9,1296.6 L355.1,1297.5 L357.3,1298.5 L359.6,1299.4 L361.8,1300.3 L364.0,1301.3 L366.3,1302.2 L368.5,1303.2 L370.8,1304.1 L373.0,1305.1 L375.2,1306.0 L377.5,1307.0 L379.7,1308.0 L382.0,1308.9 L384.2,1309.9 L386.4,1310.9 L388.7,1311.8 L390.9,1312.8 L393.1,1313.8 L395.4,1314.8 L397.6,1315.7 L399.9,1316.7 L402.1,1317.7 L404.3,1318.7 L406.6,1319.6 L408.8,1320.6 L411.1,1321.6 L413.3,1322.6 L415.5,1323.6 L417.8,1324.6 L420.0,1325.7 L422.3,1326.7 L424.5,1327.7 L426.7,1328.8 L429.0,1329.8 L431.2,1330.8 L433.4,1331.9 L435.7,1332.9 L437.9,1334.0 L440.2,1335.0 L442.4,1336.0 L444.6,1337.1 L446.9,1338.1 L449.1,1339.1 L451.4,1340.1 L453.6,1341.1 L455.8,1342.1 L458.1,1343.1 L460.3,1344.1 L462.6,1345.1 L464.8,1346.1 L467.0,1347.0 L469.3,1348.0 L471.5,1348.9 L473.7,1349.9 L476.0,1350.9 L478.2,1351.8 L480.5,1352.8 L482.7,1353.7 L484.9,1354.7 L487.2,1355.6 L489.4,1356.6 L491.7,1357.5 L493.9,1358.5 L496.1,1359.4 L498.4,1360.4 L500.6,1361.3 L502.8,1362.3 L505.1,1363.3 L507.3,1364.3 L509.6,1365.2 L511.8,1366.2 L514.0,1367.2 L516.3,1368.2 L518.5,1369.2 L520.8,1370.2 L523.0,1371.2 L525.2,1372.2 L527.5,1373.2 L529.7,1374.2 L532.0,1375.2 L534.2,1376.2 L536.4,1377.3 L538.7,1378.3 L540.9,1379.3 L543.1,1380.3 L545.4,1381.3 L547.6,1382.3 L549.9,1383.3 L552.1,1384.3" fill="none" stroke="#2d6b2c" stroke-width="3.9"/>
</g>
<rect x="176.5" y="1101.3" width="394.0" height="74.2" fill="#d9d9d9"/>
<path d="M176.5,1101.3H570.5M176.5,1175.5H570.5M176.5,1481.5H570.5" stroke="#333333" stroke-width="3.1" fill="none" stroke-linecap="square"/>
<path d="M176.5,1101.3V1481.5M570.5,1101.3V1481.5" stroke="#333333" stroke-width="2.4" fill="none"/>
<path d="M176.5,1175.5H570.5" stroke="#333333" stroke-width="4.0" fill="none"/>
<text transform="translate(315.79,1152.40) scale(0.8600,1.0000)" font-family='"Liberation Sans", sans-serif' font-size="38.3" fill="#1a1a1a">Organic</text>
<line x1="166.80" y1="1467.70" x2="175.50" y2="1467.70" stroke="#333333" stroke-width="3.4"/>
<text transform="translate(85.22,1482.20) scale(0.8632,1.0000)" font-family='"Liberation Sans", sans-serif' font-size="42.5" fill="#4d4d4d">0.00</text>
<line x1="166.80" y1="1392.45" x2="175.50" y2="1392.45" stroke="#333333" stroke-width="3.4"/>
<text transform="translate(85.22,1406.95) scale(0.8643,1.0000)" font-family='"Liberation Sans", sans-serif' font-size="42.5" fill="#4d4d4d">0.25</text>
<line x1="166.80" y1="1317.20" x2="175.50" y2="1317.20" stroke="#333333" stroke-width="3.4"/>
<text transform="translate(85.22,1331.70) scale(0.8632,1.0000)" font-family='"Liberation Sans", sans-serif' font-size="42.5" fill="#4d4d4d">0.50</text>
<line x1="166.80" y1="1241.95" x2="175.50" y2="1241.95" stroke="#333333" stroke-width="3.4"/>
<text transform="translate(85.22,1256.45) scale(0.8643,1.0000)" font-family='"Liberation Sans", sans-serif' font-size="42.5" fill="#4d4d4d">0.75</text>
<clipPath id="clip01"><rect x="591.5" y="1175.5" width="393.7" height="306.0"/></clipPath>
<g clip-path="url(#clip01)">
<line x1="600.55" y1="1175.50" x2="600.55" y2="1481.50" stroke="#e9e9e9" stroke-width="1.5"/>
<line x1="747.85" y1="1175.50" x2="747.85" y2="1481.50" stroke="#e9e9e9" stroke-width="1.5"/>
<line x1="872.98" y1="1175.50" x2="872.98" y2="1481.50" stroke="#e9e9e9" stroke-width="1.5"/>
<line x1="975.94" y1="1175.50" x2="975.94" y2="1481.50" stroke="#e9e9e9" stroke-width="1.5"/>
<line x1="591.50" y1="1430.08" x2="985.20" y2="1430.08" stroke="#e9e9e9" stroke-width="1.5"/>
<line x1="591.50" y1="1354.83" x2="985.20" y2="1354.83" stroke="#e9e9e9" stroke-width="1.5"/>
<line x1="591.50" y1="1279.58" x2="985.20" y2="1279.58" stroke="#e9e9e9" stroke-width="1.5"/>
<line x1="591.50" y1="1204.33" x2="985.20" y2="1204.33" stroke="#e9e9e9" stroke-width="1.5"/>
<line x1="674.20" y1="1175.50" x2="674.20" y2="1481.50" stroke="#e3e3e3" stroke-width="2.6"/>
<line x1="821.50" y1="1175.50" x2="821.50" y2="1481.50" stroke="#e3e3e3" stroke-width="2.6"/>
<line x1="924.46" y1="1175.50" x2="924.46" y2="1481.50" stroke="#e3e3e3" stroke-width="2.6"/>
<line x1="591.50" y1="1467.70" x2="985.20" y2="1467.70" stroke="#e3e3e3" stroke-width="2.9"/>
<line x1="591.50" y1="1392.45" x2="985.20" y2="1392.45" stroke="#e3e3e3" stroke-width="2.9"/>
<line x1="591.50" y1="1317.20" x2="985.20" y2="1317.20" stroke="#e3e3e3" stroke-width="2.9"/>
<line x1="591.50" y1="1241.95" x2="985.20" y2="1241.95" stroke="#e3e3e3" stroke-width="2.9"/>
<g fill="none" stroke="#262626" stroke-width="1.35">
<ellipse cx="633.5" cy="1387.4" rx="1.72" ry="2.00"/>
<ellipse cx="675.6" cy="1393.3" rx="2.92" ry="3.40"/>
<ellipse cx="693.7" cy="1413.4" rx="2.92" ry="3.40"/>
<ellipse cx="739.5" cy="1408.8" rx="3.10" ry="3.60"/>
<ellipse cx="738.0" cy="1417.9" rx="1.40" ry="1.55" fill="#333" stroke="none"/>
<ellipse cx="765.3" cy="1416.2" rx="1.57" ry="1.75" fill="#333" stroke="none"/>
<ellipse cx="781.6" cy="1423.5" rx="6.28" ry="7.30"/>
<ellipse cx="779.1" cy="1420.7" rx="2.15" ry="2.50"/>
<ellipse cx="742.3" cy="1429.4" rx="6.02" ry="7.00"/>
<ellipse cx="732.0" cy="1432.6" rx="3.61" ry="4.20"/>
<ellipse cx="696.7" cy="1434.3" rx="3.70" ry="4.30"/>
<ellipse cx="662.3" cy="1441.3" rx="1.57" ry="1.75" fill="#333" stroke="none"/>
<ellipse cx="608.1" cy="1446.2" rx="1.40" ry="1.55" fill="#333" stroke="none"/>
<ellipse cx="718.7" cy="1443.6" rx="5.68" ry="6.60"/>
<ellipse cx="758.4" cy="1442.0" rx="5.16" ry="6.00"/>
<ellipse cx="771.1" cy="1436.8" rx="3.35" ry="3.90"/>
<ellipse cx="780.5" cy="1440.4" rx="2.75" ry="3.20"/>
<ellipse cx="786.8" cy="1438.9" rx="4.30" ry="5.00"/>
<ellipse cx="766.4" cy="1447.4" rx="2.58" ry="3.00"/>
<ellipse cx="770.0" cy="1448.4" rx="1.57" ry="1.75" fill="#333" stroke="none"/>
<ellipse cx="789.6" cy="1447.4" rx="2.58" ry="3.00"/>
<ellipse cx="733.0" cy="1447.8" rx="2.58" ry="3.00"/>
<ellipse cx="688.5" cy="1446.7" rx="2.41" ry="2.80"/>
<ellipse cx="683.9" cy="1450.2" rx="3.35" ry="3.90"/>
<ellipse cx="740.9" cy="1452.7" rx="4.73" ry="5.50"/>
<ellipse cx="713.5" cy="1453.4" rx="2.15" ry="2.50"/>
<ellipse cx="725.7" cy="1456.5" rx="2.15" ry="2.50"/>
<ellipse cx="701.9" cy="1459.0" rx="5.76" ry="6.70"/>
<ellipse cx="678.0" cy="1459.0" rx="3.35" ry="3.90"/>
<ellipse cx="682.9" cy="1459.3" rx="2.32" ry="2.70"/>
<ellipse cx="680.5" cy="1459.0" rx="1.40" ry="1.55" fill="#333" stroke="none"/>
<ellipse cx="691.8" cy="1459.3" rx="1.75" ry="1.95" fill="#333" stroke="none"/>
<ellipse cx="718.3" cy="1462.1" rx="2.75" ry="3.20"/>
<ellipse cx="639.0" cy="1462.4" rx="1.40" ry="1.55" fill="#333" stroke="none"/>
<ellipse cx="745.0" cy="1460.0" rx="1.30" ry="1.45" fill="#333" stroke="none"/>
<ellipse cx="904.6" cy="1328.9" rx="3.35" ry="3.90"/>
<ellipse cx="891.9" cy="1345.8" rx="4.13" ry="4.80"/>
<ellipse cx="898.4" cy="1354.9" rx="1.57" ry="1.75" fill="#333" stroke="none"/>
<ellipse cx="907.8" cy="1359.1" rx="1.57" ry="1.75" fill="#333" stroke="none"/>
<ellipse cx="899.4" cy="1368.9" rx="5.76" ry="6.70"/>
<ellipse cx="873.0" cy="1378.4" rx="2.92" ry="3.40"/>
<ellipse cx="883.7" cy="1381.6" rx="1.75" ry="1.95" fill="#333" stroke="none"/>
<ellipse cx="876.9" cy="1387.2" rx="3.01" ry="3.50"/>
<ellipse cx="877.2" cy="1393.5" rx="1.40" ry="1.55" fill="#333" stroke="none"/>
<ellipse cx="916.5" cy="1387.2" rx="6.62" ry="7.70"/>
<ellipse cx="902.5" cy="1395.9" rx="4.47" ry="5.20"/>
<ellipse cx="885.8" cy="1399.8" rx="4.13" ry="4.80"/>
<ellipse cx="886.3" cy="1395.9" rx="1.30" ry="1.45" fill="#333" stroke="none"/>
<ellipse cx="802.1" cy="1393.5" rx="3.96" ry="4.60"/>
<ellipse cx="834.1" cy="1391.1" rx="2.32" ry="2.70"/>
<ellipse cx="847.7" cy="1408.9" rx="5.76" ry="6.70"/>
<ellipse cx="910.6" cy="1405.4" rx="2.41" ry="2.80"/>
<ellipse cx="918.6" cy="1402.4" rx="1.30" ry="1.45" fill="#333" stroke="none"/>
<ellipse cx="900.8" cy="1411.8" rx="3.96" ry="4.60"/>
<ellipse cx="900.8" cy="1413.2" rx="2.15" ry="2.50"/>
<ellipse cx="894.5" cy="1409.0" rx="3.01" ry="3.50"/>
<ellipse cx="907.1" cy="1409.4" rx="1.30" ry="1.45" fill="#333" stroke="none"/>
<ellipse cx="910.9" cy="1416.4" rx="2.75" ry="3.20"/>
<ellipse cx="888.6" cy="1423.0" rx="3.96" ry="4.60"/>
<ellipse cx="935.9" cy="1423.4" rx="1.57" ry="1.75" fill="#333" stroke="none"/>
<ellipse cx="902.6" cy="1433.5" rx="1.40" ry="1.55" fill="#333" stroke="none"/>
<ellipse cx="882.3" cy="1441.2" rx="1.57" ry="1.75" fill="#333" stroke="none"/>
<ellipse cx="866.4" cy="1434.9" rx="3.53" ry="4.10"/>
<ellipse cx="862.6" cy="1427.9" rx="1.40" ry="1.55" fill="#333" stroke="none"/>
<ellipse cx="868.9" cy="1426.8" rx="1.40" ry="1.55" fill="#333" stroke="none"/>
<ellipse cx="844.6" cy="1427.2" rx="4.47" ry="5.20"/>
<ellipse cx="844.6" cy="1427.9" rx="2.58" ry="3.00"/>
<ellipse cx="846.8" cy="1426.5" rx="3.44" ry="4.00"/>
<ellipse cx="822.6" cy="1419.8" rx="1.48" ry="1.65" fill="#333" stroke="none"/>
<ellipse cx="828.5" cy="1432.1" rx="3.61" ry="4.20"/>
<ellipse cx="834.1" cy="1431.4" rx="3.35" ry="3.90"/>
<ellipse cx="799.7" cy="1437.7" rx="2.15" ry="2.50"/>
<ellipse cx="804.9" cy="1439.1" rx="3.35" ry="3.90"/>
<ellipse cx="809.6" cy="1443.3" rx="3.35" ry="3.90"/>
<ellipse cx="814.5" cy="1441.2" rx="4.73" ry="5.50"/>
<ellipse cx="814.2" cy="1441.9" rx="2.58" ry="3.00"/>
<ellipse cx="816.6" cy="1445.4" rx="3.61" ry="4.20"/>
<ellipse cx="828.5" cy="1445.9" rx="4.30" ry="5.00"/>
<ellipse cx="836.6" cy="1450.4" rx="4.56" ry="5.30"/>
<ellipse cx="790.9" cy="1447.3" rx="2.58" ry="3.00"/>
<ellipse cx="848.4" cy="1453.4" rx="1.57" ry="1.75" fill="#333" stroke="none"/>
<ellipse cx="856.3" cy="1451.5" rx="1.48" ry="1.65" fill="#333" stroke="none"/>
<ellipse cx="802.5" cy="1468.6" rx="1.57" ry="1.75" fill="#333" stroke="none"/>
</g>
<path d="M608.0,1434.3 L610.2,1434.0 L612.5,1433.9 L614.7,1433.8 L617.0,1433.5 L619.2,1433.0 L621.4,1432.8 L623.7,1432.0 L625.9,1432.1 L628.1,1430.8 L630.4,1430.6 L632.6,1430.5 L634.9,1429.9 L637.1,1430.0 L639.3,1429.5 L641.6,1429.0 L643.8,1428.9 L646.1,1428.3 L648.3,1427.6 L650.5,1427.3 L652.8,1427.4 L655.0,1427.1 L657.3,1426.0 L659.5,1426.2 L661.7,1425.9 L664.0,1425.1 L666.2,1424.7 L668.4,1424.0 L670.7,1423.9 L672.9,1423.4 L675.2,1423.1 L677.4,1422.1 L679.6,1422.7 L681.9,1421.8 L684.1,1421.2 L686.4,1421.2 L688.6,1420.6 L690.8,1420.1 L693.1,1419.9 L695.3,1418.8 L697.5,1418.9 L699.8,1418.3 L702.0,1418.4 L704.3,1418.0 L706.5,1416.9 L708.7,1416.7 L711.0,1415.9 L713.2,1415.8 L715.5,1415.7 L717.7,1415.3 L719.9,1414.5 L722.2,1413.8 L724.4,1413.3 L726.7,1413.2 L728.9,1413.1 L731.1,1411.8 L733.4,1412.0 L735.6,1410.7 L737.8,1410.4 L740.1,1409.9 L742.3,1409.9 L744.6,1409.0 L746.8,1408.5 L749.0,1408.2 L751.3,1407.2 L753.5,1407.3 L755.8,1406.1 L758.0,1406.0 L760.2,1405.2 L762.5,1404.6 L764.7,1404.4 L767.0,1403.7 L769.2,1403.1 L771.4,1402.6 L773.7,1402.1 L775.9,1401.2 L778.1,1400.6 L780.4,1400.5 L782.6,1399.9 L784.9,1399.2 L787.1,1398.9 L789.3,1398.1 L791.6,1397.7 L793.8,1396.5 L796.1,1396.4 L798.3,1395.8 L800.5,1395.2 L802.8,1394.0 L805.0,1393.4 L807.2,1393.3 L809.5,1391.9 L811.7,1392.0 L814.0,1391.3 L816.2,1389.8 L818.4,1389.2 L820.7,1389.0 L822.9,1387.8 L825.2,1386.9 L827.4,1386.9 L829.6,1385.7 L831.9,1385.3 L834.1,1383.8 L836.4,1383.2 L838.6,1382.7 L840.8,1381.2 L843.1,1380.5 L845.3,1380.1 L847.5,1379.4 L849.8,1378.6 L852.0,1376.8 L854.3,1376.3 L856.5,1375.6 L858.7,1374.4 L861.0,1373.7 L863.2,1372.2 L865.5,1371.2 L867.7,1370.2 L869.9,1369.2 L872.2,1368.8 L874.4,1367.8 L876.7,1366.8 L878.9,1365.4 L881.1,1364.4 L883.4,1363.4 L885.6,1363.0 L887.8,1362.1 L890.1,1361.0 L892.3,1359.0 L894.6,1357.9 L896.8,1357.7 L899.0,1356.1 L901.3,1355.4 L903.5,1353.8 L905.8,1352.9 L908.0,1351.9 L910.2,1350.7 L912.5,1349.8 L914.7,1348.2 L916.9,1347.8 L919.2,1346.9 L921.4,1345.3 L923.7,1344.5 L925.9,1343.8 L928.1,1342.5 L930.4,1341.4 L932.6,1340.4 L934.9,1339.8 L937.1,1338.3 L939.3,1338.3 L941.6,1337.3 L943.8,1336.2 L946.1,1335.5 L948.3,1334.3 L950.5,1333.2 L952.8,1332.5 L955.0,1331.4 L957.2,1331.0 L959.5,1329.9 L961.7,1328.4 L964.0,1328.1 L966.2,1327.0 L966.2,1423.2 L964.0,1423.7 L961.7,1424.7 L959.5,1425.0 L957.2,1425.4 L955.0,1426.3 L952.8,1426.6 L950.5,1427.2 L948.3,1427.7 L946.1,1428.6 L943.8,1429.1 L941.6,1429.8 L939.3,1430.0 L937.1,1430.5 L934.9,1431.6 L932.6,1432.1 L930.4,1432.4 L928.1,1432.9 L925.9,1433.6 L923.7,1434.1 L921.4,1434.8 L919.2,1435.3 L916.9,1435.9 L914.7,1436.1 L912.5,1436.7 L910.2,1437.5 L908.0,1437.8 L905.8,1438.6 L903.5,1439.0 L901.3,1439.5 L899.0,1439.9 L896.8,1440.4 L894.6,1441.4 L892.3,1441.9 L890.1,1442.5 L887.8,1442.6 L885.6,1443.1 L883.4,1443.9 L881.1,1444.4 L878.9,1444.8 L876.7,1445.3 L874.4,1445.9 L872.2,1446.2 L869.9,1446.8 L867.7,1447.4 L865.5,1448.1 L863.2,1448.7 L861.0,1448.8 L858.7,1449.4 L856.5,1450.3 L854.3,1451.0 L852.0,1451.6 L849.8,1451.8 L847.5,1452.5 L845.3,1452.9 L843.1,1453.5 L840.8,1453.8 L838.6,1454.4 L836.4,1455.0 L834.1,1455.4 L831.9,1455.6 L829.6,1456.3 L827.4,1456.4 L825.2,1456.9 L822.9,1457.4 L820.7,1457.8 L818.4,1457.8 L816.2,1458.4 L814.0,1458.8 L811.7,1459.1 L809.5,1459.1 L807.2,1459.5 L805.0,1459.9 L802.8,1459.8 L800.5,1459.9 L798.3,1460.5 L796.1,1460.4 L793.8,1460.6 L791.6,1461.1 L789.3,1460.7 L787.1,1461.4 L784.9,1461.6 L782.6,1461.2 L780.4,1461.8 L778.1,1462.0 L775.9,1461.9 L773.7,1462.2 L771.4,1462.0 L769.2,1462.1 L767.0,1462.3 L764.7,1462.3 L762.5,1462.6 L760.2,1462.9 L758.0,1462.8 L755.8,1463.1 L753.5,1463.2 L751.3,1463.1 L749.0,1463.3 L746.8,1463.5 L744.6,1463.6 L742.3,1463.6 L740.1,1464.0 L737.8,1463.6 L735.6,1464.0 L733.4,1464.1 L731.1,1464.0 L728.9,1464.2 L726.7,1464.1 L724.4,1464.7 L722.2,1464.2 L719.9,1464.8 L717.7,1464.7 L715.5,1464.5 L713.2,1465.0 L711.0,1465.0 L708.7,1465.3 L706.5,1465.1 L704.3,1465.4 L702.0,1465.2 L699.8,1465.3 L697.5,1465.6 L695.3,1465.3 L693.1,1465.2 L690.8,1465.5 L688.6,1465.4 L686.4,1465.4 L684.1,1465.7 L681.9,1465.7 L679.6,1466.0 L677.4,1466.0 L675.2,1465.7 L672.9,1466.3 L670.7,1466.3 L668.4,1466.3 L666.2,1466.3 L664.0,1466.6 L661.7,1466.3 L659.5,1466.4 L657.3,1466.5 L655.0,1466.6 L652.8,1466.5 L650.5,1466.7 L648.3,1466.9 L646.1,1466.6 L643.8,1466.9 L641.6,1466.9 L639.3,1466.8 L637.1,1466.7 L634.9,1467.0 L632.6,1467.0 L630.4,1466.9 L628.1,1467.3 L625.9,1467.2 L623.7,1467.5 L621.4,1467.6 L619.2,1467.6 L617.0,1467.8 L614.7,1467.8 L612.5,1467.6 L610.2,1467.9 L608.0,1468.0Z" fill="#4db8a8" fill-opacity="0.32"/>
<path d="M608.0,1455.7 L610.2,1455.5 L612.5,1455.4 L614.7,1455.2 L617.0,1455.1 L619.2,1454.9 L621.4,1454.8 L623.7,1454.6 L625.9,1454.5 L628.1,1454.3 L630.4,1454.2 L632.6,1454.0 L634.9,1453.9 L637.1,1453.8 L639.3,1453.6 L641.6,1453.5 L643.8,1453.3 L646.1,1453.2 L648.3,1453.0 L650.5,1452.8 L652.8,1452.7 L655.0,1452.5 L657.3,1452.3 L659.5,1452.1 L661.7,1451.9 L664.0,1451.7 L666.2,1451.5 L668.4,1451.2 L670.7,1451.0 L672.9,1450.8 L675.2,1450.5 L677.4,1450.2 L679.6,1449.9 L681.9,1449.6 L684.1,1449.4 L686.4,1449.1 L688.6,1448.7 L690.8,1448.4 L693.1,1448.1 L695.3,1447.8 L697.5,1447.5 L699.8,1447.1 L702.0,1446.8 L704.3,1446.4 L706.5,1446.1 L708.7,1445.7 L711.0,1445.4 L713.2,1445.0 L715.5,1444.6 L717.7,1444.3 L719.9,1443.9 L722.2,1443.5 L724.4,1443.1 L726.7,1442.7 L728.9,1442.4 L731.1,1442.0 L733.4,1441.6 L735.6,1441.2 L737.8,1440.8 L740.1,1440.4 L742.3,1440.0 L744.6,1439.6 L746.8,1439.2 L749.0,1438.8 L751.3,1438.3 L753.5,1437.9 L755.8,1437.4 L758.0,1437.0 L760.2,1436.5 L762.5,1436.1 L764.7,1435.6 L767.0,1435.1 L769.2,1434.6 L771.4,1434.1 L773.7,1433.6 L775.9,1433.1 L778.1,1432.5 L780.4,1432.0 L782.6,1431.5 L784.9,1431.0 L787.1,1430.5 L789.3,1429.9 L791.6,1429.4 L793.8,1428.8 L796.1,1428.3 L798.3,1427.7 L800.5,1427.2 L802.8,1426.6 L805.0,1426.0 L807.2,1425.4 L809.5,1424.8 L811.7,1424.2 L814.0,1423.6 L816.2,1423.0 L818.4,1422.3 L820.7,1421.7 L822.9,1421.0 L825.2,1420.3 L827.4,1419.6 L829.6,1418.9 L831.9,1418.2 L834.1,1417.5 L836.4,1416.8 L838.6,1416.1 L840.8,1415.3 L843.1,1414.6 L845.3,1413.8 L847.5,1413.1 L849.8,1412.3 L852.0,1411.6 L854.3,1410.8 L856.5,1410.0 L858.7,1409.3 L861.0,1408.5 L863.2,1407.7 L865.5,1406.9 L867.7,1406.1 L869.9,1405.3 L872.2,1404.5 L874.4,1403.7 L876.7,1402.9 L878.9,1402.1 L881.1,1401.2 L883.4,1400.4 L885.6,1399.6 L887.8,1398.7 L890.1,1397.9 L892.3,1397.0 L894.6,1396.2 L896.8,1395.3 L899.0,1394.5 L901.3,1393.6 L903.5,1392.7 L905.8,1391.8 L908.0,1391.0 L910.2,1390.1 L912.5,1389.2 L914.7,1388.3 L916.9,1387.4 L919.2,1386.5 L921.4,1385.6 L923.7,1384.7 L925.9,1383.8 L928.1,1382.9 L930.4,1381.9 L932.6,1381.0 L934.9,1380.0 L937.1,1379.1 L939.3,1378.1 L941.6,1377.2 L943.8,1376.2 L946.1,1375.3 L948.3,1374.3 L950.5,1373.3 L952.8,1372.4 L955.0,1371.4 L957.2,1370.4 L959.5,1369.5 L961.7,1368.5 L964.0,1367.6 L966.2,1366.6 L966.2,1390.6 L964.0,1391.1 L961.7,1391.6 L959.5,1392.1 L957.2,1392.5 L955.0,1393.0 L952.8,1393.5 L950.5,1394.0 L948.3,1394.5 L946.1,1394.9 L943.8,1395.4 L941.6,1395.9 L939.3,1396.4 L937.1,1396.9 L934.9,1397.4 L932.6,1397.9 L930.4,1398.4 L928.1,1398.9 L925.9,1399.4 L923.7,1400.0 L921.4,1400.5 L919.2,1401.1 L916.9,1401.6 L914.7,1402.2 L912.5,1402.7 L910.2,1403.3 L908.0,1403.9 L905.8,1404.5 L903.5,1405.0 L901.3,1405.6 L899.0,1406.2 L896.8,1406.8 L894.6,1407.4 L892.3,1408.0 L890.1,1408.6 L887.8,1409.2 L885.6,1409.8 L883.4,1410.4 L881.1,1411.0 L878.9,1411.6 L876.7,1412.2 L874.4,1412.8 L872.2,1413.4 L869.9,1414.0 L867.7,1414.6 L865.5,1415.3 L863.2,1415.9 L861.0,1416.5 L858.7,1417.1 L856.5,1417.7 L854.3,1418.4 L852.0,1419.0 L849.8,1419.6 L847.5,1420.2 L845.3,1420.9 L843.1,1421.5 L840.8,1422.1 L838.6,1422.7 L836.4,1423.4 L834.1,1424.0 L831.9,1424.6 L829.6,1425.2 L827.4,1425.8 L825.2,1426.4 L822.9,1427.1 L820.7,1427.7 L818.4,1428.3 L816.2,1428.8 L814.0,1429.4 L811.7,1430.0 L809.5,1430.5 L807.2,1431.1 L805.0,1431.6 L802.8,1432.2 L800.5,1432.7 L798.3,1433.2 L796.1,1433.8 L793.8,1434.3 L791.6,1434.8 L789.3,1435.3 L787.1,1435.8 L784.9,1436.3 L782.6,1436.8 L780.4,1437.3 L778.1,1437.9 L775.9,1438.4 L773.7,1438.9 L771.4,1439.4 L769.2,1439.8 L767.0,1440.3 L764.7,1440.8 L762.5,1441.3 L760.2,1441.8 L758.0,1442.2 L755.8,1442.7 L753.5,1443.1 L751.3,1443.5 L749.0,1444.0 L746.8,1444.4 L744.6,1444.8 L742.3,1445.2 L740.1,1445.6 L737.8,1446.0 L735.6,1446.4 L733.4,1446.8 L731.1,1447.2 L728.9,1447.5 L726.7,1447.9 L724.4,1448.3 L722.2,1448.7 L719.9,1449.1 L717.7,1449.5 L715.5,1449.9 L713.2,1450.2 L711.0,1450.6 L708.7,1451.0 L706.5,1451.4 L704.3,1451.7 L702.0,1452.1 L699.8,1452.5 L697.5,1452.8 L695.3,1453.2 L693.1,1453.5 L690.8,1453.8 L688.6,1454.2 L686.4,1454.5 L684.1,1454.8 L681.9,1455.1 L679.6,1455.5 L677.4,1455.8 L675.2,1456.1 L672.9,1456.4 L670.7,1456.6 L668.4,1456.9 L666.2,1457.2 L664.0,1457.4 L661.7,1457.7 L659.5,1457.9 L657.3,1458.2 L655.0,1458.4 L652.8,1458.6 L650.5,1458.9 L648.3,1459.1 L646.1,1459.3 L643.8,1459.5 L641.6,1459.7 L639.3,1459.9 L637.1,1460.1 L634.9,1460.3 L632.6,1460.5 L630.4,1460.7 L628.1,1460.9 L625.9,1461.1 L623.7,1461.3 L621.4,1461.5 L619.2,1461.7 L617.0,1461.9 L614.7,1462.1 L612.5,1462.3 L610.2,1462.5 L608.0,1462.7Z" fill="#35a898" fill-opacity="0.55"/>
<path d="M608.0,1459.2 L610.2,1459.0 L612.5,1458.8 L614.7,1458.6 L617.0,1458.5 L619.2,1458.3 L621.4,1458.1 L623.7,1457.9 L625.9,1457.8 L628.1,1457.6 L630.4,1457.4 L632.6,1457.3 L634.9,1457.1 L637.1,1456.9 L639.3,1456.7 L641.6,1456.6 L643.8,1456.4 L646.1,1456.2 L648.3,1456.0 L650.5,1455.8 L652.8,1455.6 L655.0,1455.4 L657.3,1455.2 L659.5,1455.0 L661.7,1454.8 L664.0,1454.6 L666.2,1454.3 L668.4,1454.1 L670.7,1453.8 L672.9,1453.6 L675.2,1453.3 L677.4,1453.0 L679.6,1452.7 L681.9,1452.4 L684.1,1452.1 L686.4,1451.8 L688.6,1451.5 L690.8,1451.1 L693.1,1450.8 L695.3,1450.5 L697.5,1450.1 L699.8,1449.8 L702.0,1449.4 L704.3,1449.1 L706.5,1448.7 L708.7,1448.4 L711.0,1448.0 L713.2,1447.6 L715.5,1447.3 L717.7,1446.9 L719.9,1446.5 L722.2,1446.1 L724.4,1445.7 L726.7,1445.3 L728.9,1445.0 L731.1,1444.6 L733.4,1444.2 L735.6,1443.8 L737.8,1443.4 L740.1,1443.0 L742.3,1442.6 L744.6,1442.2 L746.8,1441.8 L749.0,1441.4 L751.3,1440.9 L753.5,1440.5 L755.8,1440.1 L758.0,1439.6 L760.2,1439.1 L762.5,1438.7 L764.7,1438.2 L767.0,1437.7 L769.2,1437.2 L771.4,1436.7 L773.7,1436.2 L775.9,1435.7 L778.1,1435.2 L780.4,1434.7 L782.6,1434.2 L784.9,1433.7 L787.1,1433.1 L789.3,1432.6 L791.6,1432.1 L793.8,1431.6 L796.1,1431.0 L798.3,1430.5 L800.5,1429.9 L802.8,1429.4 L805.0,1428.8 L807.2,1428.3 L809.5,1427.7 L811.7,1427.1 L814.0,1426.5 L816.2,1425.9 L818.4,1425.3 L820.7,1424.7 L822.9,1424.0 L825.2,1423.4 L827.4,1422.7 L829.6,1422.1 L831.9,1421.4 L834.1,1420.7 L836.4,1420.1 L838.6,1419.4 L840.8,1418.7 L843.1,1418.0 L845.3,1417.4 L847.5,1416.7 L849.8,1416.0 L852.0,1415.3 L854.3,1414.6 L856.5,1413.9 L858.7,1413.2 L861.0,1412.5 L863.2,1411.8 L865.5,1411.1 L867.7,1410.4 L869.9,1409.7 L872.2,1409.0 L874.4,1408.3 L876.7,1407.6 L878.9,1406.8 L881.1,1406.1 L883.4,1405.4 L885.6,1404.7 L887.8,1404.0 L890.1,1403.3 L892.3,1402.5 L894.6,1401.8 L896.8,1401.1 L899.0,1400.3 L901.3,1399.6 L903.5,1398.9 L905.8,1398.2 L908.0,1397.4 L910.2,1396.7 L912.5,1396.0 L914.7,1395.2 L916.9,1394.5 L919.2,1393.8 L921.4,1393.1 L923.7,1392.3 L925.9,1391.6 L928.1,1390.9 L930.4,1390.2 L932.6,1389.4 L934.9,1388.7 L937.1,1388.0 L939.3,1387.3 L941.6,1386.6 L943.8,1385.8 L946.1,1385.1 L948.3,1384.4 L950.5,1383.7 L952.8,1382.9 L955.0,1382.2 L957.2,1381.5 L959.5,1380.8 L961.7,1380.0 L964.0,1379.3 L966.2,1378.6" fill="none" stroke="#0b6158" stroke-width="3.9"/>
</g>
<rect x="591.5" y="1101.3" width="393.7" height="74.2" fill="#d9d9d9"/>
<path d="M591.5,1101.3H985.2M591.5,1175.5H985.2M591.5,1481.5H985.2" stroke="#333333" stroke-width="3.1" fill="none" stroke-linecap="square"/>
<path d="M591.5,1101.3V1481.5M985.2,1101.3V1481.5" stroke="#333333" stroke-width="2.4" fill="none"/>
<path d="M591.5,1175.5H985.2" stroke="#333333" stroke-width="4.0" fill="none"/>
<text transform="translate(743.65,1152.40) scale(0.8600,1.0000)" font-family='"Liberation Sans", sans-serif' font-size="38.3" fill="#1a1a1a">Paper</text>
<clipPath id="clip02"><rect x="1005.7" y="1175.5" width="393.1" height="306.0"/></clipPath>
<g clip-path="url(#clip02)">
<line x1="1014.75" y1="1175.50" x2="1014.75" y2="1481.50" stroke="#e9e9e9" stroke-width="1.5"/>
<line x1="1162.05" y1="1175.50" x2="1162.05" y2="1481.50" stroke="#e9e9e9" stroke-width="1.5"/>
<line x1="1287.18" y1="1175.50" x2="1287.18" y2="1481.50" stroke="#e9e9e9" stroke-width="1.5"/>
<line x1="1390.14" y1="1175.50" x2="1390.14" y2="1481.50" stroke="#e9e9e9" stroke-width="1.5"/>
<line x1="1005.70" y1="1430.08" x2="1398.80" y2="1430.08" stroke="#e9e9e9" stroke-width="1.5"/>
<line x1="1005.70" y1="1354.83" x2="1398.80" y2="1354.83" stroke="#e9e9e9" stroke-width="1.5"/>
<line x1="1005.70" y1="1279.58" x2="1398.80" y2="1279.58" stroke="#e9e9e9" stroke-width="1.5"/>
<line x1="1005.70" y1="1204.33" x2="1398.80" y2="1204.33" stroke="#e9e9e9" stroke-width="1.5"/>
<line x1="1088.40" y1="1175.50" x2="1088.40" y2="1481.50" stroke="#e3e3e3" stroke-width="2.6"/>
<line x1="1235.70" y1="1175.50" x2="1235.70" y2="1481.50" stroke="#e3e3e3" stroke-width="2.6"/>
<line x1="1338.66" y1="1175.50" x2="1338.66" y2="1481.50" stroke="#e3e3e3" stroke-width="2.6"/>
<line x1="1005.70" y1="1467.70" x2="1398.80" y2="1467.70" stroke="#e3e3e3" stroke-width="2.9"/>
<line x1="1005.70" y1="1392.45" x2="1398.80" y2="1392.45" stroke="#e3e3e3" stroke-width="2.9"/>
<line x1="1005.70" y1="1317.20" x2="1398.80" y2="1317.20" stroke="#e3e3e3" stroke-width="2.9"/>
<line x1="1005.70" y1="1241.95" x2="1398.80" y2="1241.95" stroke="#e3e3e3" stroke-width="2.9"/>
<g fill="none" stroke="#262626" stroke-width="1.35">
<ellipse cx="1047.8" cy="1399.2" rx="1.72" ry="2.00"/>
<ellipse cx="1111.0" cy="1411.8" rx="3.70" ry="4.30"/>
<ellipse cx="1107.9" cy="1423.1" rx="3.01" ry="3.50"/>
<ellipse cx="1111.7" cy="1430.1" rx="1.75" ry="1.95" fill="#333" stroke="none"/>
<ellipse cx="1074.2" cy="1438.1" rx="1.48" ry="1.65" fill="#333" stroke="none"/>
<ellipse cx="1179.7" cy="1425.2" rx="1.48" ry="1.65" fill="#333" stroke="none"/>
<ellipse cx="1193.1" cy="1415.6" rx="2.15" ry="2.50"/>
<ellipse cx="1195.9" cy="1426.1" rx="6.28" ry="7.30"/>
<ellipse cx="1198.4" cy="1427.8" rx="3.27" ry="3.80"/>
<ellipse cx="1146.5" cy="1429.6" rx="3.61" ry="4.20"/>
<ellipse cx="1155.9" cy="1431.1" rx="4.21" ry="4.90"/>
<ellipse cx="1146.8" cy="1438.1" rx="2.15" ry="2.50"/>
<ellipse cx="1173.1" cy="1436.0" rx="5.16" ry="6.00"/>
<ellipse cx="1156.6" cy="1441.6" rx="5.76" ry="6.70"/>
<ellipse cx="1158.7" cy="1449.7" rx="1.57" ry="1.75" fill="#333" stroke="none"/>
<ellipse cx="1103.2" cy="1440.9" rx="2.41" ry="2.80"/>
<ellipse cx="1098.8" cy="1443.7" rx="2.41" ry="2.80"/>
<ellipse cx="1127.5" cy="1440.2" rx="1.72" ry="2.00"/>
<ellipse cx="1106.1" cy="1450.3" rx="1.75" ry="1.95" fill="#333" stroke="none"/>
<ellipse cx="1115.9" cy="1454.2" rx="5.76" ry="6.70"/>
<ellipse cx="1133.0" cy="1453.8" rx="5.76" ry="6.70"/>
<ellipse cx="1132.7" cy="1458.4" rx="2.15" ry="2.50"/>
<ellipse cx="1186.1" cy="1441.6" rx="2.41" ry="2.80"/>
<ellipse cx="1180.4" cy="1447.2" rx="2.92" ry="3.40"/>
<ellipse cx="1194.9" cy="1452.4" rx="3.53" ry="4.10"/>
<ellipse cx="1203.6" cy="1447.2" rx="2.58" ry="3.00"/>
<ellipse cx="1153.8" cy="1459.5" rx="3.10" ry="3.60"/>
<ellipse cx="1097.6" cy="1455.6" rx="2.32" ry="2.70"/>
<ellipse cx="1093.1" cy="1461.5" rx="4.82" ry="5.60"/>
<ellipse cx="1094.8" cy="1461.2" rx="2.58" ry="3.00"/>
<ellipse cx="1090.2" cy="1468.2" rx="2.92" ry="3.40"/>
<ellipse cx="1076.6" cy="1456.3" rx="1.48" ry="1.65" fill="#333" stroke="none"/>
<ellipse cx="1053.4" cy="1462.2" rx="1.57" ry="1.75" fill="#333" stroke="none"/>
<ellipse cx="1022.5" cy="1458.0" rx="1.40" ry="1.55" fill="#333" stroke="none"/>
<ellipse cx="1248.1" cy="1391.3" rx="2.41" ry="2.80"/>
<ellipse cx="1306.1" cy="1395.7" rx="3.96" ry="4.60"/>
<ellipse cx="1315.2" cy="1407.6" rx="4.30" ry="5.00"/>
<ellipse cx="1287.1" cy="1407.6" rx="2.92" ry="3.40"/>
<ellipse cx="1333.0" cy="1405.1" rx="1.48" ry="1.65" fill="#333" stroke="none"/>
<ellipse cx="1337.2" cy="1411.1" rx="1.67" ry="1.85" fill="#333" stroke="none"/>
<ellipse cx="1300.8" cy="1414.2" rx="1.57" ry="1.75" fill="#333" stroke="none"/>
<ellipse cx="1219.4" cy="1417.4" rx="3.61" ry="4.20"/>
<ellipse cx="1229.9" cy="1416.3" rx="4.56" ry="5.30"/>
<ellipse cx="1245.3" cy="1426.1" rx="5.16" ry="6.00"/>
<ellipse cx="1261.5" cy="1425.4" rx="5.76" ry="6.70"/>
<ellipse cx="1259.6" cy="1423.3" rx="3.01" ry="3.50"/>
<ellipse cx="1224.3" cy="1429.6" rx="3.96" ry="4.60"/>
<ellipse cx="1236.2" cy="1435.3" rx="6.02" ry="7.00"/>
<ellipse cx="1259.1" cy="1436.0" rx="4.82" ry="5.60"/>
<ellipse cx="1250.2" cy="1439.8" rx="2.58" ry="3.00"/>
<ellipse cx="1243.2" cy="1443.0" rx="4.21" ry="4.90"/>
<ellipse cx="1236.9" cy="1443.0" rx="4.30" ry="5.00"/>
<ellipse cx="1231.3" cy="1437.4" rx="2.58" ry="3.00"/>
<ellipse cx="1220.1" cy="1439.5" rx="1.57" ry="1.75" fill="#333" stroke="none"/>
<ellipse cx="1204.9" cy="1447.2" rx="2.75" ry="3.20"/>
<ellipse cx="1215.8" cy="1447.2" rx="3.78" ry="4.40"/>
<ellipse cx="1228.5" cy="1447.2" rx="3.61" ry="4.20"/>
<ellipse cx="1270.3" cy="1445.4" rx="1.57" ry="1.75" fill="#333" stroke="none"/>
<ellipse cx="1250.9" cy="1459.4" rx="4.82" ry="5.60"/>
<ellipse cx="1217.2" cy="1461.6" rx="1.48" ry="1.65" fill="#333" stroke="none"/>
<ellipse cx="1281.8" cy="1433.9" rx="3.35" ry="3.90"/>
<ellipse cx="1290.9" cy="1435.5" rx="2.92" ry="3.40"/>
<ellipse cx="1300.8" cy="1432.5" rx="4.56" ry="5.30"/>
<ellipse cx="1302.9" cy="1441.6" rx="3.61" ry="4.20"/>
<ellipse cx="1310.6" cy="1441.6" rx="3.96" ry="4.60"/>
<ellipse cx="1314.1" cy="1435.3" rx="3.96" ry="4.60"/>
<ellipse cx="1316.9" cy="1430.4" rx="4.21" ry="4.90"/>
<ellipse cx="1330.2" cy="1430.4" rx="6.62" ry="7.70"/>
<ellipse cx="1317.6" cy="1425.4" rx="1.89" ry="2.20"/>
<ellipse cx="1324.6" cy="1445.8" rx="3.35" ry="3.90"/>
<ellipse cx="1322.5" cy="1447.9" rx="1.30" ry="1.45" fill="#333" stroke="none"/>
<ellipse cx="1350.3" cy="1436.7" rx="1.57" ry="1.75" fill="#333" stroke="none"/>
<ellipse cx="1319.0" cy="1459.8" rx="3.61" ry="4.20"/>
<ellipse cx="1296.5" cy="1461.6" rx="1.75" ry="1.95" fill="#333" stroke="none"/>
<ellipse cx="1312.4" cy="1463.8" rx="1.48" ry="1.65" fill="#333" stroke="none"/>
<ellipse cx="1338.4" cy="1461.6" rx="1.48" ry="1.65" fill="#333" stroke="none"/>
</g>
<path d="M1023.0,1422.1 L1025.2,1422.0 L1027.5,1421.1 L1029.7,1420.8 L1032.0,1420.1 L1034.2,1420.8 L1036.4,1419.5 L1038.7,1419.3 L1040.9,1419.5 L1043.1,1419.2 L1045.4,1419.1 L1047.6,1418.3 L1049.9,1418.6 L1052.1,1417.5 L1054.3,1417.4 L1056.6,1417.6 L1058.8,1416.6 L1061.1,1416.6 L1063.3,1416.8 L1065.5,1416.5 L1067.8,1415.7 L1070.0,1415.2 L1072.3,1415.2 L1074.5,1415.3 L1076.7,1414.6 L1079.0,1414.0 L1081.2,1414.4 L1083.4,1414.0 L1085.7,1414.1 L1087.9,1413.8 L1090.2,1413.5 L1092.4,1412.6 L1094.6,1412.7 L1096.9,1411.8 L1099.1,1411.5 L1101.4,1411.3 L1103.6,1411.6 L1105.8,1411.2 L1108.1,1410.1 L1110.3,1410.0 L1112.5,1409.6 L1114.8,1409.3 L1117.0,1409.0 L1119.3,1408.7 L1121.5,1408.1 L1123.7,1408.3 L1126.0,1408.2 L1128.2,1407.6 L1130.5,1407.6 L1132.7,1407.0 L1134.9,1406.2 L1137.2,1406.6 L1139.4,1406.4 L1141.7,1405.4 L1143.9,1404.7 L1146.1,1405.0 L1148.4,1404.7 L1150.6,1404.5 L1152.8,1404.6 L1155.1,1404.0 L1157.3,1403.9 L1159.6,1402.7 L1161.8,1403.0 L1164.0,1403.0 L1166.3,1401.8 L1168.5,1401.6 L1170.8,1402.1 L1173.0,1402.0 L1175.2,1400.7 L1177.5,1401.1 L1179.7,1400.3 L1182.0,1400.7 L1184.2,1400.3 L1186.4,1399.6 L1188.7,1399.3 L1190.9,1399.7 L1193.1,1399.1 L1195.4,1399.2 L1197.6,1398.5 L1199.9,1398.2 L1202.1,1398.7 L1204.3,1398.1 L1206.6,1397.6 L1208.8,1397.4 L1211.1,1397.4 L1213.3,1397.1 L1215.5,1397.1 L1217.8,1396.3 L1220.0,1396.5 L1222.2,1396.1 L1224.5,1396.1 L1226.7,1395.8 L1229.0,1395.6 L1231.2,1395.4 L1233.4,1395.2 L1235.7,1394.6 L1237.9,1394.2 L1240.2,1394.2 L1242.4,1394.1 L1244.6,1393.4 L1246.9,1393.2 L1249.1,1392.6 L1251.4,1393.1 L1253.6,1393.1 L1255.8,1392.2 L1258.1,1391.7 L1260.3,1391.5 L1262.5,1391.5 L1264.8,1391.2 L1267.0,1391.7 L1269.3,1390.4 L1271.5,1390.5 L1273.7,1390.0 L1276.0,1390.5 L1278.2,1390.4 L1280.5,1389.5 L1282.7,1389.1 L1284.9,1389.3 L1287.2,1389.3 L1289.4,1389.4 L1291.7,1388.2 L1293.9,1388.0 L1296.1,1387.9 L1298.4,1387.7 L1300.6,1387.5 L1302.8,1387.9 L1305.1,1387.5 L1307.3,1386.9 L1309.6,1386.6 L1311.8,1386.5 L1314.0,1386.1 L1316.3,1386.6 L1318.5,1385.9 L1320.8,1385.9 L1323.0,1386.0 L1325.2,1385.4 L1327.5,1384.9 L1329.7,1385.4 L1331.9,1385.3 L1334.2,1384.3 L1336.4,1384.4 L1338.7,1384.6 L1340.9,1383.9 L1343.1,1383.3 L1345.4,1382.9 L1347.6,1383.8 L1349.9,1383.4 L1352.1,1382.6 L1354.3,1382.6 L1356.6,1382.4 L1358.8,1381.9 L1361.1,1382.5 L1363.3,1381.9 L1365.5,1381.2 L1367.8,1380.7 L1370.0,1381.0 L1372.2,1380.7 L1374.5,1381.0 L1376.7,1380.7 L1379.0,1380.3 L1381.2,1379.6 L1381.2,1454.6 L1379.0,1455.1 L1376.7,1455.0 L1374.5,1454.8 L1372.2,1455.4 L1370.0,1455.0 L1367.8,1455.5 L1365.5,1455.1 L1363.3,1455.5 L1361.1,1455.7 L1358.8,1455.9 L1356.6,1455.9 L1354.3,1455.6 L1352.1,1455.8 L1349.9,1455.9 L1347.6,1456.0 L1345.4,1456.3 L1343.1,1455.8 L1340.9,1456.5 L1338.7,1456.0 L1336.4,1456.3 L1334.2,1456.3 L1331.9,1456.7 L1329.7,1456.4 L1327.5,1456.7 L1325.2,1456.7 L1323.0,1456.5 L1320.8,1456.5 L1318.5,1456.6 L1316.3,1457.0 L1314.0,1457.3 L1311.8,1456.8 L1309.6,1457.3 L1307.3,1457.3 L1305.1,1457.2 L1302.8,1457.6 L1300.6,1457.5 L1298.4,1457.1 L1296.1,1457.5 L1293.9,1457.4 L1291.7,1457.6 L1289.4,1457.9 L1287.2,1457.9 L1284.9,1457.5 L1282.7,1457.9 L1280.5,1458.1 L1278.2,1458.2 L1276.0,1458.0 L1273.7,1458.0 L1271.5,1457.9 L1269.3,1458.3 L1267.0,1458.1 L1264.8,1458.2 L1262.5,1458.0 L1260.3,1458.5 L1258.1,1458.6 L1255.8,1458.8 L1253.6,1459.0 L1251.4,1458.9 L1249.1,1458.7 L1246.9,1458.5 L1244.6,1458.9 L1242.4,1458.9 L1240.2,1459.0 L1237.9,1459.4 L1235.7,1459.4 L1233.4,1459.4 L1231.2,1459.4 L1229.0,1459.4 L1226.7,1459.8 L1224.5,1459.3 L1222.2,1459.6 L1220.0,1459.5 L1217.8,1459.6 L1215.5,1459.7 L1213.3,1459.7 L1211.1,1460.2 L1208.8,1460.4 L1206.6,1460.2 L1204.3,1460.1 L1202.1,1460.6 L1199.9,1460.7 L1197.6,1460.3 L1195.4,1460.5 L1193.1,1460.5 L1190.9,1461.1 L1188.7,1460.9 L1186.4,1461.2 L1184.2,1461.2 L1182.0,1461.6 L1179.7,1461.2 L1177.5,1461.6 L1175.2,1461.3 L1173.0,1461.4 L1170.8,1461.8 L1168.5,1461.7 L1166.3,1461.7 L1164.0,1461.8 L1161.8,1462.0 L1159.6,1462.0 L1157.3,1462.0 L1155.1,1462.3 L1152.8,1462.1 L1150.6,1462.6 L1148.4,1462.8 L1146.1,1462.1 L1143.9,1462.5 L1141.7,1462.7 L1139.4,1462.5 L1137.2,1462.9 L1134.9,1462.8 L1132.7,1462.6 L1130.5,1463.1 L1128.2,1463.3 L1126.0,1463.5 L1123.7,1463.2 L1121.5,1463.2 L1119.3,1463.1 L1117.0,1463.6 L1114.8,1463.4 L1112.5,1463.7 L1110.3,1463.6 L1108.1,1463.6 L1105.8,1463.5 L1103.6,1463.7 L1101.4,1463.8 L1099.1,1464.3 L1096.9,1463.8 L1094.6,1464.2 L1092.4,1464.3 L1090.2,1464.1 L1087.9,1464.6 L1085.7,1464.1 L1083.4,1464.8 L1081.2,1464.5 L1079.0,1464.9 L1076.7,1464.6 L1074.5,1465.0 L1072.3,1464.9 L1070.0,1465.3 L1067.8,1465.0 L1065.5,1465.0 L1063.3,1464.8 L1061.1,1465.4 L1058.8,1465.1 L1056.6,1465.0 L1054.3,1465.6 L1052.1,1465.7 L1049.9,1465.8 L1047.6,1465.3 L1045.4,1465.9 L1043.1,1465.5 L1040.9,1465.9 L1038.7,1465.7 L1036.4,1466.3 L1034.2,1466.1 L1032.0,1466.1 L1029.7,1466.5 L1027.5,1466.1 L1025.2,1466.2 L1023.0,1466.2Z" fill="#f5a85c" fill-opacity="0.3"/>
<path d="M1023.0,1448.0 L1025.2,1447.8 L1027.5,1447.6 L1029.7,1447.4 L1032.0,1447.2 L1034.2,1447.1 L1036.4,1446.9 L1038.7,1446.7 L1040.9,1446.5 L1043.1,1446.3 L1045.4,1446.1 L1047.6,1445.9 L1049.9,1445.7 L1052.1,1445.6 L1054.3,1445.4 L1056.6,1445.2 L1058.8,1445.0 L1061.1,1444.8 L1063.3,1444.6 L1065.5,1444.4 L1067.8,1444.2 L1070.0,1444.0 L1072.3,1443.9 L1074.5,1443.7 L1076.7,1443.5 L1079.0,1443.3 L1081.2,1443.1 L1083.4,1442.9 L1085.7,1442.7 L1087.9,1442.5 L1090.2,1442.3 L1092.4,1442.1 L1094.6,1441.9 L1096.9,1441.7 L1099.1,1441.5 L1101.4,1441.3 L1103.6,1441.1 L1105.8,1440.9 L1108.1,1440.7 L1110.3,1440.5 L1112.5,1440.3 L1114.8,1440.1 L1117.0,1439.9 L1119.3,1439.7 L1121.5,1439.4 L1123.7,1439.2 L1126.0,1439.0 L1128.2,1438.8 L1130.5,1438.6 L1132.7,1438.4 L1134.9,1438.2 L1137.2,1438.0 L1139.4,1437.8 L1141.7,1437.6 L1143.9,1437.4 L1146.1,1437.2 L1148.4,1437.0 L1150.6,1436.8 L1152.8,1436.6 L1155.1,1436.4 L1157.3,1436.2 L1159.6,1436.0 L1161.8,1435.8 L1164.0,1435.6 L1166.3,1435.4 L1168.5,1435.2 L1170.8,1435.0 L1173.0,1434.8 L1175.2,1434.6 L1177.5,1434.4 L1179.7,1434.2 L1182.0,1434.0 L1184.2,1433.8 L1186.4,1433.5 L1188.7,1433.3 L1190.9,1433.1 L1193.1,1432.9 L1195.4,1432.7 L1197.6,1432.5 L1199.9,1432.3 L1202.1,1432.1 L1204.3,1431.9 L1206.6,1431.8 L1208.8,1431.6 L1211.1,1431.4 L1213.3,1431.2 L1215.5,1431.0 L1217.8,1430.8 L1220.0,1430.6 L1222.2,1430.4 L1224.5,1430.3 L1226.7,1430.1 L1229.0,1429.9 L1231.2,1429.7 L1233.4,1429.5 L1235.7,1429.4 L1237.9,1429.2 L1240.2,1429.0 L1242.4,1428.9 L1244.6,1428.7 L1246.9,1428.5 L1249.1,1428.4 L1251.4,1428.2 L1253.6,1428.1 L1255.8,1427.9 L1258.1,1427.7 L1260.3,1427.6 L1262.5,1427.4 L1264.8,1427.3 L1267.0,1427.1 L1269.3,1427.0 L1271.5,1426.8 L1273.7,1426.7 L1276.0,1426.5 L1278.2,1426.4 L1280.5,1426.2 L1282.7,1426.0 L1284.9,1425.9 L1287.2,1425.7 L1289.4,1425.6 L1291.7,1425.4 L1293.9,1425.3 L1296.1,1425.1 L1298.4,1425.0 L1300.6,1424.8 L1302.8,1424.6 L1305.1,1424.5 L1307.3,1424.3 L1309.6,1424.2 L1311.8,1424.0 L1314.0,1423.8 L1316.3,1423.6 L1318.5,1423.5 L1320.8,1423.3 L1323.0,1423.1 L1325.2,1422.9 L1327.5,1422.7 L1329.7,1422.6 L1331.9,1422.4 L1334.2,1422.2 L1336.4,1422.0 L1338.7,1421.8 L1340.9,1421.6 L1343.1,1421.4 L1345.4,1421.2 L1347.6,1421.0 L1349.9,1420.9 L1352.1,1420.7 L1354.3,1420.5 L1356.6,1420.3 L1358.8,1420.1 L1361.1,1419.9 L1363.3,1419.7 L1365.5,1419.6 L1367.8,1419.4 L1370.0,1419.2 L1372.2,1419.0 L1374.5,1418.8 L1376.7,1418.7 L1379.0,1418.5 L1381.2,1418.3 L1381.2,1429.3 L1379.0,1429.4 L1376.7,1429.4 L1374.5,1429.4 L1372.2,1429.5 L1370.0,1429.5 L1367.8,1429.6 L1365.5,1429.6 L1363.3,1429.7 L1361.1,1429.7 L1358.8,1429.8 L1356.6,1429.8 L1354.3,1429.8 L1352.1,1429.9 L1349.9,1429.9 L1347.6,1430.0 L1345.4,1430.0 L1343.1,1430.1 L1340.9,1430.1 L1338.7,1430.2 L1336.4,1430.2 L1334.2,1430.3 L1331.9,1430.3 L1329.7,1430.4 L1327.5,1430.4 L1325.2,1430.5 L1323.0,1430.6 L1320.8,1430.6 L1318.5,1430.7 L1316.3,1430.7 L1314.0,1430.8 L1311.8,1430.9 L1309.6,1430.9 L1307.3,1431.0 L1305.1,1431.1 L1302.8,1431.1 L1300.6,1431.2 L1298.4,1431.3 L1296.1,1431.4 L1293.9,1431.5 L1291.7,1431.5 L1289.4,1431.6 L1287.2,1431.7 L1284.9,1431.8 L1282.7,1431.9 L1280.5,1432.0 L1278.2,1432.1 L1276.0,1432.2 L1273.7,1432.3 L1271.5,1432.4 L1269.3,1432.5 L1267.0,1432.6 L1264.8,1432.7 L1262.5,1432.8 L1260.3,1432.9 L1258.1,1433.0 L1255.8,1433.1 L1253.6,1433.2 L1251.4,1433.4 L1249.1,1433.5 L1246.9,1433.6 L1244.6,1433.7 L1242.4,1433.9 L1240.2,1434.0 L1237.9,1434.1 L1235.7,1434.3 L1233.4,1434.4 L1231.2,1434.6 L1229.0,1434.7 L1226.7,1434.9 L1224.5,1435.0 L1222.2,1435.2 L1220.0,1435.3 L1217.8,1435.5 L1215.5,1435.7 L1213.3,1435.8 L1211.1,1436.0 L1208.8,1436.2 L1206.6,1436.4 L1204.3,1436.6 L1202.1,1436.8 L1199.9,1436.9 L1197.6,1437.1 L1195.4,1437.3 L1193.1,1437.5 L1190.9,1437.7 L1188.7,1437.9 L1186.4,1438.1 L1184.2,1438.3 L1182.0,1438.5 L1179.7,1438.7 L1177.5,1439.0 L1175.2,1439.2 L1173.0,1439.4 L1170.8,1439.6 L1168.5,1439.8 L1166.3,1440.0 L1164.0,1440.3 L1161.8,1440.5 L1159.6,1440.7 L1157.3,1440.9 L1155.1,1441.2 L1152.8,1441.4 L1150.6,1441.6 L1148.4,1441.8 L1146.1,1442.1 L1143.9,1442.3 L1141.7,1442.5 L1139.4,1442.8 L1137.2,1443.0 L1134.9,1443.2 L1132.7,1443.5 L1130.5,1443.7 L1128.2,1443.9 L1126.0,1444.2 L1123.7,1444.4 L1121.5,1444.7 L1119.3,1444.9 L1117.0,1445.1 L1114.8,1445.4 L1112.5,1445.6 L1110.3,1445.9 L1108.1,1446.1 L1105.8,1446.4 L1103.6,1446.6 L1101.4,1446.9 L1099.1,1447.1 L1096.9,1447.4 L1094.6,1447.6 L1092.4,1447.9 L1090.2,1448.1 L1087.9,1448.4 L1085.7,1448.6 L1083.4,1448.9 L1081.2,1449.1 L1079.0,1449.4 L1076.7,1449.7 L1074.5,1449.9 L1072.3,1450.2 L1070.0,1450.4 L1067.8,1450.7 L1065.5,1451.0 L1063.3,1451.2 L1061.1,1451.5 L1058.8,1451.8 L1056.6,1452.0 L1054.3,1452.3 L1052.1,1452.6 L1049.9,1452.8 L1047.6,1453.1 L1045.4,1453.4 L1043.1,1453.6 L1040.9,1453.9 L1038.7,1454.2 L1036.4,1454.4 L1034.2,1454.7 L1032.0,1455.0 L1029.7,1455.2 L1027.5,1455.5 L1025.2,1455.7 L1023.0,1456.0Z" fill="#f0963c" fill-opacity="0.55"/>
<path d="M1023.0,1452.0 L1025.2,1451.8 L1027.5,1451.6 L1029.7,1451.3 L1032.0,1451.1 L1034.2,1450.9 L1036.4,1450.7 L1038.7,1450.4 L1040.9,1450.2 L1043.1,1450.0 L1045.4,1449.7 L1047.6,1449.5 L1049.9,1449.3 L1052.1,1449.1 L1054.3,1448.8 L1056.6,1448.6 L1058.8,1448.4 L1061.1,1448.2 L1063.3,1447.9 L1065.5,1447.7 L1067.8,1447.5 L1070.0,1447.2 L1072.3,1447.0 L1074.5,1446.8 L1076.7,1446.6 L1079.0,1446.3 L1081.2,1446.1 L1083.4,1445.9 L1085.7,1445.7 L1087.9,1445.4 L1090.2,1445.2 L1092.4,1445.0 L1094.6,1444.8 L1096.9,1444.5 L1099.1,1444.3 L1101.4,1444.1 L1103.6,1443.8 L1105.8,1443.6 L1108.1,1443.4 L1110.3,1443.2 L1112.5,1442.9 L1114.8,1442.7 L1117.0,1442.5 L1119.3,1442.3 L1121.5,1442.1 L1123.7,1441.8 L1126.0,1441.6 L1128.2,1441.4 L1130.5,1441.2 L1132.7,1440.9 L1134.9,1440.7 L1137.2,1440.5 L1139.4,1440.3 L1141.7,1440.1 L1143.9,1439.9 L1146.1,1439.6 L1148.4,1439.4 L1150.6,1439.2 L1152.8,1439.0 L1155.1,1438.8 L1157.3,1438.6 L1159.6,1438.3 L1161.8,1438.1 L1164.0,1437.9 L1166.3,1437.7 L1168.5,1437.5 L1170.8,1437.3 L1173.0,1437.1 L1175.2,1436.9 L1177.5,1436.7 L1179.7,1436.5 L1182.0,1436.2 L1184.2,1436.0 L1186.4,1435.8 L1188.7,1435.6 L1190.9,1435.4 L1193.1,1435.2 L1195.4,1435.0 L1197.6,1434.8 L1199.9,1434.6 L1202.1,1434.5 L1204.3,1434.3 L1206.6,1434.1 L1208.8,1433.9 L1211.1,1433.7 L1213.3,1433.5 L1215.5,1433.3 L1217.8,1433.2 L1220.0,1433.0 L1222.2,1432.8 L1224.5,1432.6 L1226.7,1432.5 L1229.0,1432.3 L1231.2,1432.1 L1233.4,1432.0 L1235.7,1431.8 L1237.9,1431.7 L1240.2,1431.5 L1242.4,1431.4 L1244.6,1431.2 L1246.9,1431.1 L1249.1,1430.9 L1251.4,1430.8 L1253.6,1430.7 L1255.8,1430.5 L1258.1,1430.4 L1260.3,1430.2 L1262.5,1430.1 L1264.8,1430.0 L1267.0,1429.8 L1269.3,1429.7 L1271.5,1429.6 L1273.7,1429.5 L1276.0,1429.3 L1278.2,1429.2 L1280.5,1429.1 L1282.7,1429.0 L1284.9,1428.8 L1287.2,1428.7 L1289.4,1428.6 L1291.7,1428.5 L1293.9,1428.4 L1296.1,1428.3 L1298.4,1428.1 L1300.6,1428.0 L1302.8,1427.9 L1305.1,1427.8 L1307.3,1427.7 L1309.6,1427.5 L1311.8,1427.4 L1314.0,1427.3 L1316.3,1427.2 L1318.5,1427.1 L1320.8,1427.0 L1323.0,1426.8 L1325.2,1426.7 L1327.5,1426.6 L1329.7,1426.5 L1331.9,1426.4 L1334.2,1426.2 L1336.4,1426.1 L1338.7,1426.0 L1340.9,1425.9 L1343.1,1425.7 L1345.4,1425.6 L1347.6,1425.5 L1349.9,1425.4 L1352.1,1425.3 L1354.3,1425.2 L1356.6,1425.0 L1358.8,1424.9 L1361.1,1424.8 L1363.3,1424.7 L1365.5,1424.6 L1367.8,1424.5 L1370.0,1424.4 L1372.2,1424.3 L1374.5,1424.1 L1376.7,1424.0 L1379.0,1423.9 L1381.2,1423.8" fill="none" stroke="#a85a05" stroke-width="3.6"/>
</g>
<rect x="1005.7" y="1101.3" width="393.1" height="74.2" fill="#d9d9d9"/>
<path d="M1005.7,1101.3H1398.8M1005.7,1175.5H1398.8M1005.7,1481.5H1398.8" stroke="#333333" stroke-width="3.1" fill="none" stroke-linecap="square"/>
<path d="M1005.7,1101.3V1481.5M1398.8,1101.3V1481.5" stroke="#333333" stroke-width="2.4" fill="none"/>
<path d="M1005.7,1175.5H1398.8" stroke="#333333" stroke-width="4.0" fill="none"/>
<text transform="translate(1153.14,1152.40) scale(0.8600,1.0000)" font-family='"Liberation Sans", sans-serif' font-size="38.3" fill="#1a1a1a">Plastic</text>
<clipPath id="clip10"><rect x="176.5" y="1582.7" width="394.0" height="306.0"/></clipPath>
<g clip-path="url(#clip10)">
<line x1="185.55" y1="1582.70" x2="185.55" y2="1888.70" stroke="#e9e9e9" stroke-width="1.5"/>
<line x1="332.85" y1="1582.70" x2="332.85" y2="1888.70" stroke="#e9e9e9" stroke-width="1.5"/>
<line x1="457.98" y1="1582.70" x2="457.98" y2="1888.70" stroke="#e9e9e9" stroke-width="1.5"/>
<line x1="560.94" y1="1582.70" x2="560.94" y2="1888.70" stroke="#e9e9e9" stroke-width="1.5"/>
<line x1="176.50" y1="1838.12" x2="570.50" y2="1838.12" stroke="#e9e9e9" stroke-width="1.5"/>
<line x1="176.50" y1="1762.58" x2="570.50" y2="1762.58" stroke="#e9e9e9" stroke-width="1.5"/>
<line x1="176.50" y1="1687.03" x2="570.50" y2="1687.03" stroke="#e9e9e9" stroke-width="1.5"/>
<line x1="176.50" y1="1611.48" x2="570.50" y2="1611.48" stroke="#e9e9e9" stroke-width="1.5"/>
<line x1="259.20" y1="1582.70" x2="259.20" y2="1888.70" stroke="#e3e3e3" stroke-width="2.6"/>
<line x1="406.50" y1="1582.70" x2="406.50" y2="1888.70" stroke="#e3e3e3" stroke-width="2.6"/>
<line x1="509.46" y1="1582.70" x2="509.46" y2="1888.70" stroke="#e3e3e3" stroke-width="2.6"/>
<line x1="176.50" y1="1875.90" x2="570.50" y2="1875.90" stroke="#e3e3e3" stroke-width="2.9"/>
<line x1="176.50" y1="1800.35" x2="570.50" y2="1800.35" stroke="#e3e3e3" stroke-width="2.9"/>
<line x1="176.50" y1="1724.80" x2="570.50" y2="1724.80" stroke="#e3e3e3" stroke-width="2.9"/>
<line x1="176.50" y1="1649.25" x2="570.50" y2="1649.25" stroke="#e3e3e3" stroke-width="2.9"/>
<g fill="none" stroke="#262626" stroke-width="1.35">
<ellipse cx="219.2" cy="1860.6" rx="1.81" ry="2.10"/>
<ellipse cx="194.0" cy="1866.8" rx="1.48" ry="1.65" fill="#333" stroke="none"/>
<ellipse cx="224.7" cy="1875.6" rx="1.48" ry="1.65" fill="#333" stroke="none"/>
<ellipse cx="247.6" cy="1872.8" rx="1.30" ry="1.45" fill="#333" stroke="none"/>
<ellipse cx="279.4" cy="1862.3" rx="3.01" ry="3.50"/>
<ellipse cx="283.4" cy="1865.8" rx="2.15" ry="2.50"/>
<ellipse cx="287.6" cy="1874.2" rx="5.42" ry="6.30"/>
<ellipse cx="262.3" cy="1874.9" rx="3.01" ry="3.50"/>
<ellipse cx="267.2" cy="1874.2" rx="2.58" ry="3.00"/>
<ellipse cx="270.0" cy="1872.8" rx="1.89" ry="2.20"/>
<ellipse cx="274.2" cy="1872.8" rx="1.72" ry="2.00"/>
<ellipse cx="304.1" cy="1866.5" rx="5.42" ry="6.30"/>
<ellipse cx="304.0" cy="1875.3" rx="2.58" ry="3.00"/>
<ellipse cx="317.8" cy="1864.4" rx="3.35" ry="3.90"/>
<ellipse cx="318.5" cy="1872.8" rx="3.35" ry="3.90"/>
<ellipse cx="327.9" cy="1857.1" rx="6.02" ry="7.00"/>
<ellipse cx="326.2" cy="1869.3" rx="4.82" ry="5.60"/>
<ellipse cx="325.0" cy="1863.3" rx="1.30" ry="1.45" fill="#333" stroke="none"/>
<ellipse cx="323.6" cy="1874.9" rx="1.30" ry="1.45" fill="#333" stroke="none"/>
<ellipse cx="330.7" cy="1847.3" rx="1.57" ry="1.75" fill="#333" stroke="none"/>
<ellipse cx="344.1" cy="1868.9" rx="4.73" ry="5.50"/>
<ellipse cx="354.9" cy="1869.3" rx="3.35" ry="3.90"/>
<ellipse cx="351.2" cy="1871.4" rx="1.30" ry="1.45" fill="#333" stroke="none"/>
<ellipse cx="366.2" cy="1868.6" rx="5.59" ry="6.50"/>
<ellipse cx="366.2" cy="1869.3" rx="3.44" ry="4.00"/>
<ellipse cx="370.1" cy="1855.3" rx="3.01" ry="3.50"/>
<ellipse cx="372.5" cy="1864.4" rx="3.44" ry="4.00"/>
<ellipse cx="433.4" cy="1825.1" rx="5.76" ry="6.70"/>
<ellipse cx="462.6" cy="1818.5" rx="1.57" ry="1.75" fill="#333" stroke="none"/>
<ellipse cx="451.8" cy="1845.4" rx="3.53" ry="4.10"/>
<ellipse cx="454.6" cy="1855.0" rx="1.57" ry="1.75" fill="#333" stroke="none"/>
<ellipse cx="482.3" cy="1845.4" rx="4.21" ry="4.90"/>
<ellipse cx="489.3" cy="1845.4" rx="4.56" ry="5.30"/>
<ellipse cx="493.5" cy="1847.5" rx="1.30" ry="1.45" fill="#333" stroke="none"/>
<ellipse cx="473.2" cy="1851.8" rx="4.21" ry="4.90"/>
<ellipse cx="473.2" cy="1852.5" rx="2.15" ry="2.50"/>
<ellipse cx="459.8" cy="1863.0" rx="3.35" ry="3.90"/>
<ellipse cx="477.4" cy="1867.9" rx="3.78" ry="4.40"/>
<ellipse cx="468.2" cy="1867.2" rx="1.40" ry="1.55" fill="#333" stroke="none"/>
<ellipse cx="486.5" cy="1868.6" rx="4.21" ry="4.90"/>
<ellipse cx="502.0" cy="1862.0" rx="6.28" ry="7.30"/>
<ellipse cx="485.1" cy="1856.7" rx="2.58" ry="3.00"/>
<ellipse cx="492.1" cy="1856.0" rx="2.15" ry="2.50"/>
<ellipse cx="521.6" cy="1872.8" rx="1.48" ry="1.65" fill="#333" stroke="none"/>
<ellipse cx="441.6" cy="1865.8" rx="1.57" ry="1.75" fill="#333" stroke="none"/>
<ellipse cx="447.9" cy="1865.8" rx="1.57" ry="1.75" fill="#333" stroke="none"/>
<ellipse cx="430.4" cy="1856.0" rx="4.56" ry="5.30"/>
<ellipse cx="431.1" cy="1865.8" rx="3.35" ry="3.90"/>
<ellipse cx="421.6" cy="1856.0" rx="2.75" ry="3.20"/>
<ellipse cx="422.6" cy="1868.6" rx="4.21" ry="4.90"/>
<ellipse cx="414.9" cy="1868.6" rx="4.82" ry="5.60"/>
<ellipse cx="407.2" cy="1871.4" rx="7.22" ry="8.40"/>
<ellipse cx="400.2" cy="1860.2" rx="4.21" ry="4.90"/>
<ellipse cx="401.6" cy="1867.2" rx="3.01" ry="3.50"/>
<ellipse cx="388.2" cy="1863.0" rx="4.82" ry="5.60"/>
<ellipse cx="391.1" cy="1871.4" rx="3.35" ry="3.90"/>
<ellipse cx="396.0" cy="1866.5" rx="2.41" ry="2.80"/>
<ellipse cx="410.0" cy="1858.8" rx="2.15" ry="2.50"/>
<ellipse cx="374.9" cy="1869.3" rx="3.35" ry="3.90"/>
<ellipse cx="380.5" cy="1866.0" rx="2.58" ry="3.00"/>
</g>
<path d="M193.9,1851.3 L196.1,1850.7 L198.4,1850.5 L200.6,1850.4 L202.9,1851.1 L205.1,1850.8 L207.3,1850.4 L209.6,1849.8 L211.8,1850.0 L214.0,1849.9 L216.3,1849.3 L218.5,1849.4 L220.8,1849.4 L223.0,1848.4 L225.2,1848.4 L227.5,1848.5 L229.7,1848.0 L232.0,1848.1 L234.2,1848.1 L236.4,1847.5 L238.7,1847.7 L240.9,1847.2 L243.2,1847.4 L245.4,1846.9 L247.6,1847.1 L249.9,1846.3 L252.1,1846.7 L254.3,1846.0 L256.6,1846.7 L258.8,1846.1 L261.1,1845.8 L263.3,1845.6 L265.5,1845.6 L267.8,1845.5 L270.0,1845.4 L272.3,1845.2 L274.5,1844.7 L276.7,1845.1 L279.0,1844.7 L281.2,1844.6 L283.5,1843.9 L285.7,1843.8 L287.9,1843.7 L290.2,1843.9 L292.4,1843.3 L294.6,1843.1 L296.9,1842.8 L299.1,1843.1 L301.4,1842.3 L303.6,1841.9 L305.8,1842.4 L308.1,1842.4 L310.3,1842.0 L312.6,1841.7 L314.8,1841.6 L317.0,1841.0 L319.3,1841.1 L321.5,1840.4 L323.7,1840.2 L326.0,1840.4 L328.2,1840.2 L330.5,1839.9 L332.7,1839.4 L334.9,1839.8 L337.2,1839.5 L339.4,1839.0 L341.7,1838.8 L343.9,1838.7 L346.1,1838.3 L348.4,1838.0 L350.6,1838.6 L352.9,1838.4 L355.1,1837.9 L357.3,1837.9 L359.6,1837.2 L361.8,1837.4 L364.0,1836.6 L366.3,1836.9 L368.5,1836.5 L370.8,1836.6 L373.0,1835.6 L375.2,1836.0 L377.5,1835.1 L379.7,1835.3 L382.0,1835.5 L384.2,1834.3 L386.4,1834.4 L388.7,1834.2 L390.9,1834.0 L393.1,1833.5 L395.4,1834.1 L397.6,1833.8 L399.9,1833.2 L402.1,1832.9 L404.3,1832.9 L406.6,1832.1 L408.8,1831.9 L411.1,1832.5 L413.3,1831.7 L415.5,1831.7 L417.8,1831.9 L420.0,1831.7 L422.3,1831.0 L424.5,1830.5 L426.7,1830.4 L429.0,1830.8 L431.2,1830.5 L433.4,1829.6 L435.7,1830.0 L437.9,1829.3 L440.2,1829.2 L442.4,1828.7 L444.6,1829.1 L446.9,1829.0 L449.1,1828.0 L451.4,1828.2 L453.6,1827.5 L455.8,1828.0 L458.1,1827.0 L460.3,1826.8 L462.6,1827.2 L464.8,1826.5 L467.0,1826.9 L469.3,1826.6 L471.5,1826.3 L473.7,1825.5 L476.0,1825.8 L478.2,1825.8 L480.5,1825.1 L482.7,1824.5 L484.9,1824.4 L487.2,1824.3 L489.4,1824.5 L491.7,1823.8 L493.9,1823.5 L496.1,1823.4 L498.4,1823.6 L500.6,1823.5 L502.8,1822.9 L505.1,1823.0 L507.3,1823.0 L509.6,1822.5 L511.8,1821.9 L514.0,1821.8 L516.3,1822.2 L518.5,1821.8 L520.8,1821.2 L523.0,1821.4 L525.2,1820.7 L527.5,1821.4 L529.7,1820.7 L532.0,1820.6 L534.2,1820.5 L536.4,1819.8 L538.7,1820.2 L540.9,1819.7 L543.1,1819.5 L545.4,1819.9 L547.6,1819.0 L549.9,1819.1 L552.1,1819.4 L552.1,1873.1 L549.9,1872.8 L547.6,1873.1 L545.4,1872.7 L543.1,1872.9 L540.9,1872.8 L538.7,1872.7 L536.4,1873.2 L534.2,1873.1 L532.0,1873.1 L529.7,1872.9 L527.5,1873.3 L525.2,1872.8 L523.0,1873.0 L520.8,1872.9 L518.5,1873.2 L516.3,1873.3 L514.0,1873.0 L511.8,1872.9 L509.6,1872.9 L507.3,1872.8 L505.1,1873.0 L502.8,1873.1 L500.6,1873.3 L498.4,1872.9 L496.1,1873.1 L493.9,1873.0 L491.7,1873.4 L489.4,1873.3 L487.2,1873.5 L484.9,1873.2 L482.7,1873.1 L480.5,1873.2 L478.2,1873.1 L476.0,1873.1 L473.7,1873.1 L471.5,1873.3 L469.3,1873.1 L467.0,1873.2 L464.8,1873.2 L462.6,1873.5 L460.3,1873.3 L458.1,1873.6 L455.8,1873.3 L453.6,1873.4 L451.4,1873.6 L449.1,1873.5 L446.9,1873.7 L444.6,1873.6 L442.4,1873.4 L440.2,1873.2 L437.9,1873.6 L435.7,1873.4 L433.4,1873.2 L431.2,1873.6 L429.0,1873.8 L426.7,1873.4 L424.5,1873.5 L422.3,1873.8 L420.0,1873.5 L417.8,1873.4 L415.5,1873.6 L413.3,1873.5 L411.1,1873.5 L408.8,1873.8 L406.6,1873.8 L404.3,1873.9 L402.1,1873.4 L399.9,1873.4 L397.6,1873.6 L395.4,1873.6 L393.1,1873.6 L390.9,1873.5 L388.7,1873.9 L386.4,1873.6 L384.2,1873.4 L382.0,1873.9 L379.7,1873.7 L377.5,1873.5 L375.2,1874.0 L373.0,1873.9 L370.8,1873.7 L368.5,1873.5 L366.3,1874.0 L364.0,1873.6 L361.8,1873.7 L359.6,1873.7 L357.3,1873.5 L355.1,1874.0 L352.9,1874.0 L350.6,1873.9 L348.4,1873.6 L346.1,1873.6 L343.9,1873.6 L341.7,1874.0 L339.4,1873.6 L337.2,1873.9 L334.9,1873.7 L332.7,1873.8 L330.5,1873.9 L328.2,1873.7 L326.0,1873.5 L323.7,1873.7 L321.5,1873.6 L319.3,1873.6 L317.0,1874.0 L314.8,1873.8 L312.6,1873.8 L310.3,1874.0 L308.1,1873.5 L305.8,1873.9 L303.6,1873.6 L301.4,1873.7 L299.1,1873.7 L296.9,1873.7 L294.6,1873.4 L292.4,1873.5 L290.2,1873.5 L287.9,1873.9 L285.7,1873.7 L283.5,1873.7 L281.2,1873.7 L279.0,1873.3 L276.7,1873.6 L274.5,1873.6 L272.3,1873.4 L270.0,1873.5 L267.8,1873.3 L265.5,1873.7 L263.3,1873.6 L261.1,1873.6 L258.8,1873.4 L256.6,1873.2 L254.3,1873.5 L252.1,1873.2 L249.9,1873.5 L247.6,1873.1 L245.4,1873.6 L243.2,1873.3 L240.9,1873.4 L238.7,1873.5 L236.4,1873.2 L234.2,1873.2 L232.0,1873.4 L229.7,1873.3 L227.5,1873.1 L225.2,1873.2 L223.0,1873.2 L220.8,1872.9 L218.5,1873.1 L216.3,1873.3 L214.0,1873.0 L211.8,1873.2 L209.6,1873.0 L207.3,1872.7 L205.1,1873.3 L202.9,1873.2 L200.6,1872.8 L198.4,1873.0 L196.1,1872.8 L193.9,1872.7Z" fill="#f3a877" fill-opacity="0.3"/>
<path d="M193.9,1868.9 L196.1,1868.8 L198.4,1868.7 L200.6,1868.6 L202.9,1868.5 L205.1,1868.4 L207.3,1868.3 L209.6,1868.2 L211.8,1868.1 L214.0,1868.0 L216.3,1867.9 L218.5,1867.8 L220.8,1867.7 L223.0,1867.6 L225.2,1867.5 L227.5,1867.4 L229.7,1867.3 L232.0,1867.2 L234.2,1867.1 L236.4,1867.0 L238.7,1866.9 L240.9,1866.8 L243.2,1866.7 L245.4,1866.6 L247.6,1866.5 L249.9,1866.4 L252.1,1866.3 L254.3,1866.2 L256.6,1866.1 L258.8,1866.0 L261.1,1865.9 L263.3,1865.7 L265.5,1865.6 L267.8,1865.5 L270.0,1865.4 L272.3,1865.3 L274.5,1865.2 L276.7,1865.1 L279.0,1865.0 L281.2,1864.9 L283.5,1864.8 L285.7,1864.7 L287.9,1864.6 L290.2,1864.5 L292.4,1864.4 L294.6,1864.3 L296.9,1864.2 L299.1,1864.0 L301.4,1863.9 L303.6,1863.8 L305.8,1863.7 L308.1,1863.6 L310.3,1863.5 L312.6,1863.4 L314.8,1863.3 L317.0,1863.2 L319.3,1863.0 L321.5,1862.9 L323.7,1862.8 L326.0,1862.7 L328.2,1862.6 L330.5,1862.5 L332.7,1862.4 L334.9,1862.3 L337.2,1862.2 L339.4,1862.0 L341.7,1861.9 L343.9,1861.8 L346.1,1861.7 L348.4,1861.6 L350.6,1861.5 L352.9,1861.4 L355.1,1861.2 L357.3,1861.1 L359.6,1861.0 L361.8,1860.9 L364.0,1860.8 L366.3,1860.7 L368.5,1860.5 L370.8,1860.4 L373.0,1860.3 L375.2,1860.2 L377.5,1860.1 L379.7,1860.0 L382.0,1859.8 L384.2,1859.7 L386.4,1859.6 L388.7,1859.5 L390.9,1859.4 L393.1,1859.3 L395.4,1859.1 L397.6,1859.0 L399.9,1858.9 L402.1,1858.8 L404.3,1858.7 L406.6,1858.6 L408.8,1858.5 L411.1,1858.3 L413.3,1858.2 L415.5,1858.1 L417.8,1858.0 L420.0,1857.9 L422.3,1857.8 L424.5,1857.7 L426.7,1857.5 L429.0,1857.4 L431.2,1857.3 L433.4,1857.2 L435.7,1857.1 L437.9,1857.0 L440.2,1856.8 L442.4,1856.7 L444.6,1856.6 L446.9,1856.5 L449.1,1856.4 L451.4,1856.2 L453.6,1856.1 L455.8,1856.0 L458.1,1855.9 L460.3,1855.8 L462.6,1855.6 L464.8,1855.5 L467.0,1855.4 L469.3,1855.3 L471.5,1855.2 L473.7,1855.0 L476.0,1854.9 L478.2,1854.8 L480.5,1854.7 L482.7,1854.5 L484.9,1854.4 L487.2,1854.3 L489.4,1854.2 L491.7,1854.0 L493.9,1853.9 L496.1,1853.8 L498.4,1853.7 L500.6,1853.5 L502.8,1853.4 L505.1,1853.3 L507.3,1853.2 L509.6,1853.0 L511.8,1852.9 L514.0,1852.8 L516.3,1852.6 L518.5,1852.5 L520.8,1852.4 L523.0,1852.3 L525.2,1852.1 L527.5,1852.0 L529.7,1851.9 L532.0,1851.7 L534.2,1851.6 L536.4,1851.5 L538.7,1851.4 L540.9,1851.2 L543.1,1851.1 L545.4,1851.0 L547.6,1850.9 L549.9,1850.7 L552.1,1850.6 L552.1,1856.6 L549.9,1856.7 L547.6,1856.7 L545.4,1856.8 L543.1,1856.9 L540.9,1857.0 L538.7,1857.0 L536.4,1857.1 L534.2,1857.2 L532.0,1857.3 L529.7,1857.3 L527.5,1857.4 L525.2,1857.5 L523.0,1857.5 L520.8,1857.6 L518.5,1857.7 L516.3,1857.8 L514.0,1857.8 L511.8,1857.9 L509.6,1858.0 L507.3,1858.0 L505.1,1858.1 L502.8,1858.2 L500.6,1858.2 L498.4,1858.3 L496.1,1858.4 L493.9,1858.4 L491.7,1858.5 L489.4,1858.6 L487.2,1858.7 L484.9,1858.7 L482.7,1858.8 L480.5,1858.9 L478.2,1858.9 L476.0,1859.0 L473.7,1859.1 L471.5,1859.1 L469.3,1859.2 L467.0,1859.3 L464.8,1859.3 L462.6,1859.4 L460.3,1859.5 L458.1,1859.6 L455.8,1859.6 L453.6,1859.7 L451.4,1859.8 L449.1,1859.8 L446.9,1859.9 L444.6,1860.0 L442.4,1860.1 L440.2,1860.1 L437.9,1860.2 L435.7,1860.3 L433.4,1860.4 L431.2,1860.5 L429.0,1860.5 L426.7,1860.6 L424.5,1860.7 L422.3,1860.8 L420.0,1860.9 L417.8,1861.0 L415.5,1861.1 L413.3,1861.1 L411.1,1861.2 L408.8,1861.3 L406.6,1861.4 L404.3,1861.5 L402.1,1861.6 L399.9,1861.7 L397.6,1861.8 L395.4,1861.9 L393.1,1862.0 L390.9,1862.1 L388.7,1862.2 L386.4,1862.3 L384.2,1862.4 L382.0,1862.5 L379.7,1862.6 L377.5,1862.8 L375.2,1862.9 L373.0,1863.0 L370.8,1863.1 L368.5,1863.2 L366.3,1863.3 L364.0,1863.4 L361.8,1863.5 L359.6,1863.7 L357.3,1863.8 L355.1,1863.9 L352.9,1864.0 L350.6,1864.1 L348.4,1864.2 L346.1,1864.4 L343.9,1864.5 L341.7,1864.6 L339.4,1864.7 L337.2,1864.8 L334.9,1864.9 L332.7,1865.1 L330.5,1865.2 L328.2,1865.3 L326.0,1865.4 L323.7,1865.5 L321.5,1865.7 L319.3,1865.8 L317.0,1865.9 L314.8,1866.0 L312.6,1866.1 L310.3,1866.2 L308.1,1866.4 L305.8,1866.5 L303.6,1866.6 L301.4,1866.7 L299.1,1866.9 L296.9,1867.0 L294.6,1867.1 L292.4,1867.2 L290.2,1867.3 L287.9,1867.5 L285.7,1867.6 L283.5,1867.7 L281.2,1867.8 L279.0,1868.0 L276.7,1868.1 L274.5,1868.2 L272.3,1868.3 L270.0,1868.5 L267.8,1868.6 L265.5,1868.7 L263.3,1868.9 L261.1,1869.0 L258.8,1869.1 L256.6,1869.2 L254.3,1869.4 L252.1,1869.5 L249.9,1869.6 L247.6,1869.8 L245.4,1869.9 L243.2,1870.0 L240.9,1870.2 L238.7,1870.3 L236.4,1870.4 L234.2,1870.6 L232.0,1870.7 L229.7,1870.8 L227.5,1870.9 L225.2,1871.1 L223.0,1871.2 L220.8,1871.3 L218.5,1871.5 L216.3,1871.6 L214.0,1871.7 L211.8,1871.9 L209.6,1872.0 L207.3,1872.1 L205.1,1872.3 L202.9,1872.4 L200.6,1872.5 L198.4,1872.6 L196.1,1872.8 L193.9,1872.9Z" fill="#e8905a" fill-opacity="0.55"/>
<path d="M193.9,1870.9 L196.1,1870.8 L198.4,1870.7 L200.6,1870.6 L202.9,1870.4 L205.1,1870.3 L207.3,1870.2 L209.6,1870.1 L211.8,1870.0 L214.0,1869.9 L216.3,1869.7 L218.5,1869.6 L220.8,1869.5 L223.0,1869.4 L225.2,1869.3 L227.5,1869.2 L229.7,1869.0 L232.0,1868.9 L234.2,1868.8 L236.4,1868.7 L238.7,1868.6 L240.9,1868.5 L243.2,1868.3 L245.4,1868.2 L247.6,1868.1 L249.9,1868.0 L252.1,1867.9 L254.3,1867.8 L256.6,1867.7 L258.8,1867.5 L261.1,1867.4 L263.3,1867.3 L265.5,1867.2 L267.8,1867.1 L270.0,1867.0 L272.3,1866.8 L274.5,1866.7 L276.7,1866.6 L279.0,1866.5 L281.2,1866.4 L283.5,1866.3 L285.7,1866.1 L287.9,1866.0 L290.2,1865.9 L292.4,1865.8 L294.6,1865.7 L296.9,1865.6 L299.1,1865.4 L301.4,1865.3 L303.6,1865.2 L305.8,1865.1 L308.1,1865.0 L310.3,1864.9 L312.6,1864.8 L314.8,1864.6 L317.0,1864.5 L319.3,1864.4 L321.5,1864.3 L323.7,1864.2 L326.0,1864.1 L328.2,1864.0 L330.5,1863.8 L332.7,1863.7 L334.9,1863.6 L337.2,1863.5 L339.4,1863.4 L341.7,1863.3 L343.9,1863.1 L346.1,1863.0 L348.4,1862.9 L350.6,1862.8 L352.9,1862.7 L355.1,1862.6 L357.3,1862.4 L359.6,1862.3 L361.8,1862.2 L364.0,1862.1 L366.3,1862.0 L368.5,1861.9 L370.8,1861.8 L373.0,1861.6 L375.2,1861.5 L377.5,1861.4 L379.7,1861.3 L382.0,1861.2 L384.2,1861.1 L386.4,1861.0 L388.7,1860.9 L390.9,1860.7 L393.1,1860.6 L395.4,1860.5 L397.6,1860.4 L399.9,1860.3 L402.1,1860.2 L404.3,1860.1 L406.6,1860.0 L408.8,1859.9 L411.1,1859.8 L413.3,1859.7 L415.5,1859.6 L417.8,1859.5 L420.0,1859.4 L422.3,1859.3 L424.5,1859.2 L426.7,1859.1 L429.0,1859.0 L431.2,1858.9 L433.4,1858.8 L435.7,1858.7 L437.9,1858.6 L440.2,1858.5 L442.4,1858.4 L444.6,1858.3 L446.9,1858.2 L449.1,1858.1 L451.4,1858.0 L453.6,1857.9 L455.8,1857.8 L458.1,1857.7 L460.3,1857.6 L462.6,1857.5 L464.8,1857.4 L467.0,1857.3 L469.3,1857.2 L471.5,1857.1 L473.7,1857.0 L476.0,1856.9 L478.2,1856.9 L480.5,1856.8 L482.7,1856.7 L484.9,1856.6 L487.2,1856.5 L489.4,1856.4 L491.7,1856.3 L493.9,1856.2 L496.1,1856.1 L498.4,1856.0 L500.6,1855.9 L502.8,1855.8 L505.1,1855.7 L507.3,1855.6 L509.6,1855.5 L511.8,1855.4 L514.0,1855.3 L516.3,1855.2 L518.5,1855.1 L520.8,1855.0 L523.0,1854.9 L525.2,1854.8 L527.5,1854.7 L529.7,1854.6 L532.0,1854.5 L534.2,1854.4 L536.4,1854.3 L538.7,1854.2 L540.9,1854.1 L543.1,1854.0 L545.4,1853.9 L547.6,1853.8 L549.9,1853.7 L552.1,1853.6" fill="none" stroke="#8e4a22" stroke-width="2.8"/>
</g>
<rect x="176.5" y="1507.7" width="394.0" height="75.0" fill="#d9d9d9"/>
<path d="M176.5,1507.7H570.5M176.5,1582.7H570.5M176.5,1888.7H570.5" stroke="#333333" stroke-width="3.1" fill="none" stroke-linecap="square"/>
<path d="M176.5,1507.7V1888.7M570.5,1507.7V1888.7" stroke="#333333" stroke-width="2.4" fill="none"/>
<path d="M176.5,1582.7H570.5" stroke="#333333" stroke-width="4.0" fill="none"/>
<text transform="translate(331.47,1558.80) scale(0.8600,1.0000)" font-family='"Liberation Sans", sans-serif' font-size="38.3" fill="#1a1a1a">Glass</text>
<line x1="166.80" y1="1875.90" x2="175.50" y2="1875.90" stroke="#333333" stroke-width="3.4"/>
<text transform="translate(85.22,1890.40) scale(0.8632,1.0000)" font-family='"Liberation Sans", sans-serif' font-size="42.5" fill="#4d4d4d">0.00</text>
<line x1="166.80" y1="1800.35" x2="175.50" y2="1800.35" stroke="#333333" stroke-width="3.4"/>
<text transform="translate(85.22,1814.85) scale(0.8643,1.0000)" font-family='"Liberation Sans", sans-serif' font-size="42.5" fill="#4d4d4d">0.25</text>
<line x1="166.80" y1="1724.80" x2="175.50" y2="1724.80" stroke="#333333" stroke-width="3.4"/>
<text transform="translate(85.22,1739.30) scale(0.8632,1.0000)" font-family='"Liberation Sans", sans-serif' font-size="42.5" fill="#4d4d4d">0.50</text>
<line x1="166.80" y1="1649.25" x2="175.50" y2="1649.25" stroke="#333333" stroke-width="3.4"/>
<text transform="translate(85.22,1663.75) scale(0.8643,1.0000)" font-family='"Liberation Sans", sans-serif' font-size="42.5" fill="#4d4d4d">0.75</text>
<line x1="259.20" y1="1889.70" x2="259.20" y2="1900.70" stroke="#333333" stroke-width="2.7"/>
<line x1="406.50" y1="1889.70" x2="406.50" y2="1900.70" stroke="#333333" stroke-width="2.7"/>
<line x1="509.46" y1="1889.70" x2="509.46" y2="1900.70" stroke="#333333" stroke-width="2.7"/>
<text transform="translate(213.77,1940.40) scale(0.8583,1.0000)" font-family='"Liberation Sans", sans-serif' font-size="45.5" fill="#4d4d4d">1000</text>
<text transform="translate(347.24,1940.40) scale(0.8091,1.0000)" font-family='"Liberation Sans", sans-serif' font-size="45.5" fill="#4d4d4d">10000</text>
<text transform="translate(460.77,1940.40) scale(0.8417,1.0000)" font-family='"Liberation Sans", sans-serif' font-size="45.5" fill="#4d4d4d">50000</text>
<clipPath id="clip11"><rect x="591.5" y="1582.7" width="393.7" height="306.0"/></clipPath>
<g clip-path="url(#clip11)">
<line x1="600.55" y1="1582.70" x2="600.55" y2="1888.70" stroke="#e9e9e9" stroke-width="1.5"/>
<line x1="747.85" y1="1582.70" x2="747.85" y2="1888.70" stroke="#e9e9e9" stroke-width="1.5"/>
<line x1="872.98" y1="1582.70" x2="872.98" y2="1888.70" stroke="#e9e9e9" stroke-width="1.5"/>
<line x1="975.94" y1="1582.70" x2="975.94" y2="1888.70" stroke="#e9e9e9" stroke-width="1.5"/>
<line x1="591.50" y1="1838.12" x2="985.20" y2="1838.12" stroke="#e9e9e9" stroke-width="1.5"/>
<line x1="591.50" y1="1762.58" x2="985.20" y2="1762.58" stroke="#e9e9e9" stroke-width="1.5"/>
<line x1="591.50" y1="1687.03" x2="985.20" y2="1687.03" stroke="#e9e9e9" stroke-width="1.5"/>
<line x1="591.50" y1="1611.48" x2="985.20" y2="1611.48" stroke="#e9e9e9" stroke-width="1.5"/>
<line x1="674.20" y1="1582.70" x2="674.20" y2="1888.70" stroke="#e3e3e3" stroke-width="2.6"/>
<line x1="821.50" y1="1582.70" x2="821.50" y2="1888.70" stroke="#e3e3e3" stroke-width="2.6"/>
<line x1="924.46" y1="1582.70" x2="924.46" y2="1888.70" stroke="#e3e3e3" stroke-width="2.6"/>
<line x1="591.50" y1="1875.90" x2="985.20" y2="1875.90" stroke="#e3e3e3" stroke-width="2.9"/>
<line x1="591.50" y1="1800.35" x2="985.20" y2="1800.35" stroke="#e3e3e3" stroke-width="2.9"/>
<line x1="591.50" y1="1724.80" x2="985.20" y2="1724.80" stroke="#e3e3e3" stroke-width="2.9"/>
<line x1="591.50" y1="1649.25" x2="985.20" y2="1649.25" stroke="#e3e3e3" stroke-width="2.9"/>
<g fill="none" stroke="#262626" stroke-width="1.35">
<ellipse cx="633.5" cy="1857.6" rx="1.81" ry="2.10"/>
<ellipse cx="659.8" cy="1863.4" rx="1.57" ry="1.75" fill="#333" stroke="none"/>
<ellipse cx="608.1" cy="1869.3" rx="1.40" ry="1.55" fill="#333" stroke="none"/>
<ellipse cx="682.0" cy="1865.8" rx="2.41" ry="2.80"/>
<ellipse cx="675.9" cy="1874.2" rx="3.35" ry="3.90"/>
<ellipse cx="680.8" cy="1873.5" rx="2.41" ry="2.80"/>
<ellipse cx="685.0" cy="1872.8" rx="1.89" ry="2.20"/>
<ellipse cx="695.6" cy="1871.4" rx="3.01" ry="3.50"/>
<ellipse cx="701.9" cy="1874.9" rx="4.82" ry="5.60"/>
<ellipse cx="718.4" cy="1875.6" rx="5.42" ry="6.30"/>
<ellipse cx="718.4" cy="1873.5" rx="2.15" ry="2.50"/>
<ellipse cx="733.0" cy="1857.6" rx="2.75" ry="3.20"/>
<ellipse cx="732.0" cy="1870.7" rx="3.35" ry="3.90"/>
<ellipse cx="742.9" cy="1863.0" rx="5.42" ry="6.30"/>
<ellipse cx="741.2" cy="1874.2" rx="4.21" ry="4.90"/>
<ellipse cx="737.7" cy="1875.2" rx="1.30" ry="1.45" fill="#333" stroke="none"/>
<ellipse cx="758.7" cy="1863.7" rx="5.42" ry="6.30"/>
<ellipse cx="767.1" cy="1865.8" rx="2.75" ry="3.20"/>
<ellipse cx="772.1" cy="1867.9" rx="2.41" ry="2.80"/>
<ellipse cx="780.5" cy="1870.7" rx="4.82" ry="5.60"/>
<ellipse cx="780.5" cy="1872.8" rx="3.01" ry="3.50"/>
<ellipse cx="785.4" cy="1863.7" rx="3.61" ry="4.20"/>
<ellipse cx="787.5" cy="1870.7" rx="3.01" ry="3.50"/>
<ellipse cx="814.8" cy="1824.8" rx="4.13" ry="4.80"/>
<ellipse cx="910.9" cy="1817.4" rx="2.58" ry="3.00"/>
<ellipse cx="935.6" cy="1818.1" rx="1.67" ry="1.85" fill="#333" stroke="none"/>
<ellipse cx="802.5" cy="1841.2" rx="1.48" ry="1.65" fill="#333" stroke="none"/>
<ellipse cx="904.6" cy="1837.0" rx="3.35" ry="3.90"/>
<ellipse cx="916.2" cy="1848.2" rx="6.36" ry="7.40"/>
<ellipse cx="908.5" cy="1847.8" rx="1.40" ry="1.55" fill="#333" stroke="none"/>
<ellipse cx="882.3" cy="1850.4" rx="1.75" ry="1.95" fill="#333" stroke="none"/>
<ellipse cx="875.9" cy="1860.2" rx="2.75" ry="3.20"/>
<ellipse cx="866.4" cy="1869.3" rx="2.75" ry="3.20"/>
<ellipse cx="862.2" cy="1870.0" rx="1.30" ry="1.45" fill="#333" stroke="none"/>
<ellipse cx="876.9" cy="1869.7" rx="1.57" ry="1.75" fill="#333" stroke="none"/>
<ellipse cx="888.2" cy="1861.6" rx="3.10" ry="3.60"/>
<ellipse cx="893.1" cy="1866.5" rx="4.56" ry="5.30"/>
<ellipse cx="891.7" cy="1867.2" rx="3.01" ry="3.50"/>
<ellipse cx="902.2" cy="1870.0" rx="5.42" ry="6.30"/>
<ellipse cx="900.1" cy="1861.6" rx="3.01" ry="3.50"/>
<ellipse cx="910.6" cy="1863.0" rx="2.75" ry="3.20"/>
<ellipse cx="910.9" cy="1866.5" rx="1.30" ry="1.45" fill="#333" stroke="none"/>
<ellipse cx="918.8" cy="1869.7" rx="1.48" ry="1.65" fill="#333" stroke="none"/>
<ellipse cx="923.0" cy="1866.5" rx="1.48" ry="1.65" fill="#333" stroke="none"/>
<ellipse cx="822.2" cy="1872.8" rx="8.17" ry="9.50"/>
<ellipse cx="829.9" cy="1865.8" rx="5.42" ry="6.30"/>
<ellipse cx="836.9" cy="1871.4" rx="4.82" ry="5.60"/>
<ellipse cx="844.6" cy="1863.7" rx="4.21" ry="4.90"/>
<ellipse cx="845.4" cy="1868.6" rx="4.21" ry="4.90"/>
<ellipse cx="848.9" cy="1870.7" rx="4.56" ry="5.30"/>
<ellipse cx="801.8" cy="1865.8" rx="4.82" ry="5.60"/>
<ellipse cx="809.6" cy="1871.4" rx="3.61" ry="4.20"/>
<ellipse cx="815.2" cy="1868.6" rx="3.61" ry="4.20"/>
<ellipse cx="794.0" cy="1866.5" rx="2.15" ry="2.50"/>
</g>
<path d="M608.0,1857.7 L610.2,1857.1 L612.5,1857.2 L614.7,1856.9 L617.0,1856.5 L619.2,1856.4 L621.4,1856.6 L623.7,1855.9 L625.9,1855.9 L628.1,1855.9 L630.4,1855.8 L632.6,1855.2 L634.9,1855.6 L637.1,1854.9 L639.3,1855.2 L641.6,1854.9 L643.8,1854.2 L646.1,1854.1 L648.3,1854.0 L650.5,1854.2 L652.8,1853.7 L655.0,1853.5 L657.3,1853.8 L659.5,1853.0 L661.7,1852.8 L664.0,1852.7 L666.2,1852.4 L668.4,1852.0 L670.7,1851.8 L672.9,1852.2 L675.2,1851.9 L677.4,1852.0 L679.6,1852.0 L681.9,1851.1 L684.1,1851.3 L686.4,1851.3 L688.6,1850.4 L690.8,1850.7 L693.1,1850.5 L695.3,1850.6 L697.5,1850.3 L699.8,1849.5 L702.0,1849.7 L704.3,1848.9 L706.5,1849.1 L708.7,1848.8 L711.0,1848.3 L713.2,1848.4 L715.5,1848.2 L717.7,1848.1 L719.9,1847.7 L722.2,1847.4 L724.4,1847.4 L726.7,1847.3 L728.9,1846.8 L731.1,1847.1 L733.4,1846.5 L735.6,1846.1 L737.8,1846.2 L740.1,1846.1 L742.3,1845.6 L744.6,1845.8 L746.8,1845.7 L749.0,1845.4 L751.3,1845.3 L753.5,1844.4 L755.8,1844.6 L758.0,1844.4 L760.2,1843.9 L762.5,1844.0 L764.7,1843.4 L767.0,1843.7 L769.2,1843.5 L771.4,1843.2 L773.7,1842.8 L775.9,1842.6 L778.1,1842.1 L780.4,1842.2 L782.6,1842.6 L784.9,1842.0 L787.1,1841.5 L789.3,1841.7 L791.6,1841.0 L793.8,1841.0 L796.1,1841.0 L798.3,1841.1 L800.5,1840.3 L802.8,1840.3 L805.0,1840.4 L807.2,1840.0 L809.5,1839.7 L811.7,1839.4 L814.0,1839.0 L816.2,1838.8 L818.4,1838.4 L820.7,1838.8 L822.9,1838.6 L825.2,1837.9 L827.4,1838.2 L829.6,1837.1 L831.9,1837.0 L834.1,1837.1 L836.4,1836.7 L838.6,1836.5 L840.8,1836.9 L843.1,1835.9 L845.3,1835.7 L847.5,1835.5 L849.8,1835.8 L852.0,1835.1 L854.3,1834.6 L856.5,1835.0 L858.7,1834.6 L861.0,1834.2 L863.2,1834.3 L865.5,1834.2 L867.7,1833.9 L869.9,1833.7 L872.2,1833.4 L874.4,1833.5 L876.7,1833.4 L878.9,1832.6 L881.1,1832.3 L883.4,1832.7 L885.6,1831.9 L887.8,1832.0 L890.1,1831.8 L892.3,1831.6 L894.6,1831.6 L896.8,1831.2 L899.0,1830.3 L901.3,1830.6 L903.5,1830.2 L905.8,1830.1 L908.0,1829.6 L910.2,1829.3 L912.5,1829.5 L914.7,1829.1 L916.9,1828.5 L919.2,1828.3 L921.4,1828.1 L923.7,1827.7 L925.9,1827.8 L928.1,1827.2 L930.4,1826.8 L932.6,1826.6 L934.9,1826.3 L937.1,1826.7 L939.3,1825.8 L941.6,1825.8 L943.8,1825.8 L946.1,1825.3 L948.3,1824.6 L950.5,1825.0 L952.8,1824.7 L955.0,1823.6 L957.2,1823.5 L959.5,1823.5 L961.7,1823.5 L964.0,1822.8 L966.2,1822.8 L966.2,1873.2 L964.0,1872.7 L961.7,1873.1 L959.5,1872.9 L957.2,1873.2 L955.0,1872.8 L952.8,1873.3 L950.5,1873.1 L948.3,1873.0 L946.1,1873.0 L943.8,1873.1 L941.6,1872.9 L939.3,1873.1 L937.1,1873.1 L934.9,1873.0 L932.6,1873.0 L930.4,1873.1 L928.1,1873.4 L925.9,1873.3 L923.7,1873.5 L921.4,1873.2 L919.2,1873.5 L916.9,1873.3 L914.7,1873.2 L912.5,1873.4 L910.2,1873.7 L908.0,1873.4 L905.8,1873.5 L903.5,1873.6 L901.3,1873.5 L899.0,1873.8 L896.8,1873.7 L894.6,1873.6 L892.3,1873.6 L890.1,1873.5 L887.8,1873.8 L885.6,1873.5 L883.4,1874.0 L881.1,1873.7 L878.9,1873.9 L876.7,1873.8 L874.4,1874.1 L872.2,1873.7 L869.9,1874.2 L867.7,1874.1 L865.5,1874.2 L863.2,1874.2 L861.0,1873.9 L858.7,1874.2 L856.5,1874.2 L854.3,1874.2 L852.0,1874.1 L849.8,1873.8 L847.5,1874.4 L845.3,1874.0 L843.1,1873.9 L840.8,1874.2 L838.6,1874.1 L836.4,1874.4 L834.1,1874.1 L831.9,1874.0 L829.6,1874.0 L827.4,1874.1 L825.2,1874.0 L822.9,1874.1 L820.7,1874.4 L818.4,1874.5 L816.2,1874.3 L814.0,1874.6 L811.7,1874.6 L809.5,1874.6 L807.2,1874.2 L805.0,1874.5 L802.8,1874.5 L800.5,1874.4 L798.3,1874.1 L796.1,1874.4 L793.8,1874.6 L791.6,1874.4 L789.3,1874.4 L787.1,1874.7 L784.9,1874.3 L782.6,1874.8 L780.4,1874.5 L778.1,1874.3 L775.9,1874.3 L773.7,1874.4 L771.4,1874.8 L769.2,1874.3 L767.0,1874.3 L764.7,1874.4 L762.5,1874.5 L760.2,1874.5 L758.0,1874.4 L755.8,1874.4 L753.5,1874.7 L751.3,1874.4 L749.0,1874.6 L746.8,1874.3 L744.6,1874.5 L742.3,1874.4 L740.1,1874.6 L737.8,1874.5 L735.6,1874.9 L733.4,1874.4 L731.1,1874.4 L728.9,1874.4 L726.7,1874.8 L724.4,1874.7 L722.2,1874.8 L719.9,1874.6 L717.7,1875.0 L715.5,1874.8 L713.2,1874.7 L711.0,1874.6 L708.7,1874.6 L706.5,1874.9 L704.3,1874.9 L702.0,1874.6 L699.8,1874.6 L697.5,1874.7 L695.3,1874.7 L693.1,1874.4 L690.8,1874.6 L688.6,1874.5 L686.4,1875.0 L684.1,1874.9 L681.9,1874.6 L679.6,1874.5 L677.4,1874.5 L675.2,1874.9 L672.9,1874.5 L670.7,1875.1 L668.4,1875.0 L666.2,1874.7 L664.0,1874.9 L661.7,1874.7 L659.5,1874.9 L657.3,1874.6 L655.0,1875.1 L652.8,1875.1 L650.5,1874.9 L648.3,1874.5 L646.1,1874.6 L643.8,1874.7 L641.6,1874.9 L639.3,1874.7 L637.1,1874.6 L634.9,1875.0 L632.6,1875.0 L630.4,1874.9 L628.1,1875.0 L625.9,1874.8 L623.7,1874.9 L621.4,1875.1 L619.2,1875.1 L617.0,1875.0 L614.7,1874.8 L612.5,1874.8 L610.2,1875.0 L608.0,1874.8Z" fill="#d9777a" fill-opacity="0.33"/>
<path d="M608.0,1870.7 L610.2,1870.6 L612.5,1870.5 L614.7,1870.5 L617.0,1870.4 L619.2,1870.3 L621.4,1870.2 L623.7,1870.1 L625.9,1870.1 L628.1,1870.0 L630.4,1869.9 L632.6,1869.8 L634.9,1869.8 L637.1,1869.7 L639.3,1869.6 L641.6,1869.5 L643.8,1869.5 L646.1,1869.4 L648.3,1869.3 L650.5,1869.2 L652.8,1869.2 L655.0,1869.1 L657.3,1869.0 L659.5,1868.9 L661.7,1868.9 L664.0,1868.8 L666.2,1868.7 L668.4,1868.6 L670.7,1868.6 L672.9,1868.5 L675.2,1868.4 L677.4,1868.3 L679.6,1868.2 L681.9,1868.2 L684.1,1868.1 L686.4,1868.0 L688.6,1867.9 L690.8,1867.8 L693.1,1867.8 L695.3,1867.7 L697.5,1867.6 L699.8,1867.5 L702.0,1867.4 L704.3,1867.4 L706.5,1867.3 L708.7,1867.2 L711.0,1867.1 L713.2,1867.0 L715.5,1866.9 L717.7,1866.8 L719.9,1866.7 L722.2,1866.6 L724.4,1866.6 L726.7,1866.5 L728.9,1866.4 L731.1,1866.3 L733.4,1866.2 L735.6,1866.1 L737.8,1866.0 L740.1,1865.9 L742.3,1865.8 L744.6,1865.7 L746.8,1865.6 L749.0,1865.6 L751.3,1865.5 L753.5,1865.4 L755.8,1865.3 L758.0,1865.2 L760.2,1865.1 L762.5,1865.0 L764.7,1864.8 L767.0,1864.7 L769.2,1864.6 L771.4,1864.5 L773.7,1864.4 L775.9,1864.3 L778.1,1864.2 L780.4,1864.1 L782.6,1864.0 L784.9,1863.8 L787.1,1863.7 L789.3,1863.6 L791.6,1863.5 L793.8,1863.4 L796.1,1863.2 L798.3,1863.1 L800.5,1863.0 L802.8,1862.9 L805.0,1862.7 L807.2,1862.6 L809.5,1862.5 L811.7,1862.4 L814.0,1862.2 L816.2,1862.1 L818.4,1862.0 L820.7,1861.8 L822.9,1861.7 L825.2,1861.6 L827.4,1861.4 L829.6,1861.3 L831.9,1861.2 L834.1,1861.0 L836.4,1860.9 L838.6,1860.8 L840.8,1860.6 L843.1,1860.5 L845.3,1860.3 L847.5,1860.2 L849.8,1860.0 L852.0,1859.9 L854.3,1859.7 L856.5,1859.6 L858.7,1859.4 L861.0,1859.3 L863.2,1859.1 L865.5,1858.9 L867.7,1858.8 L869.9,1858.6 L872.2,1858.5 L874.4,1858.3 L876.7,1858.1 L878.9,1858.0 L881.1,1857.8 L883.4,1857.6 L885.6,1857.4 L887.8,1857.3 L890.1,1857.1 L892.3,1856.9 L894.6,1856.7 L896.8,1856.5 L899.0,1856.4 L901.3,1856.2 L903.5,1856.0 L905.8,1855.8 L908.0,1855.6 L910.2,1855.4 L912.5,1855.2 L914.7,1855.0 L916.9,1854.8 L919.2,1854.7 L921.4,1854.5 L923.7,1854.3 L925.9,1854.1 L928.1,1853.9 L930.4,1853.6 L932.6,1853.4 L934.9,1853.2 L937.1,1853.0 L939.3,1852.8 L941.6,1852.5 L943.8,1852.3 L946.1,1852.1 L948.3,1851.9 L950.5,1851.6 L952.8,1851.4 L955.0,1851.2 L957.2,1851.0 L959.5,1850.7 L961.7,1850.5 L964.0,1850.3 L966.2,1850.1 L966.2,1861.1 L964.0,1861.2 L961.7,1861.3 L959.5,1861.3 L957.2,1861.4 L955.0,1861.5 L952.8,1861.6 L950.5,1861.7 L948.3,1861.8 L946.1,1861.8 L943.8,1861.9 L941.6,1862.0 L939.3,1862.1 L937.1,1862.1 L934.9,1862.2 L932.6,1862.3 L930.4,1862.3 L928.1,1862.4 L925.9,1862.5 L923.7,1862.5 L921.4,1862.6 L919.2,1862.6 L916.9,1862.6 L914.7,1862.7 L912.5,1862.7 L910.2,1862.8 L908.0,1862.8 L905.8,1862.9 L903.5,1862.9 L901.3,1862.9 L899.0,1863.0 L896.8,1863.0 L894.6,1863.0 L892.3,1863.1 L890.1,1863.1 L887.8,1863.2 L885.6,1863.2 L883.4,1863.2 L881.1,1863.3 L878.9,1863.3 L876.7,1863.4 L874.4,1863.4 L872.2,1863.5 L869.9,1863.5 L867.7,1863.6 L865.5,1863.6 L863.2,1863.7 L861.0,1863.7 L858.7,1863.8 L856.5,1863.8 L854.3,1863.9 L852.0,1863.9 L849.8,1864.0 L847.5,1864.0 L845.3,1864.1 L843.1,1864.2 L840.8,1864.2 L838.6,1864.3 L836.4,1864.4 L834.1,1864.5 L831.9,1864.5 L829.6,1864.6 L827.4,1864.7 L825.2,1864.8 L822.9,1864.9 L820.7,1865.0 L818.4,1865.1 L816.2,1865.2 L814.0,1865.3 L811.7,1865.4 L809.5,1865.5 L807.2,1865.6 L805.0,1865.7 L802.8,1865.8 L800.5,1865.9 L798.3,1866.0 L796.1,1866.1 L793.8,1866.2 L791.6,1866.4 L789.3,1866.5 L787.1,1866.6 L784.9,1866.7 L782.6,1866.8 L780.4,1866.9 L778.1,1867.1 L775.9,1867.2 L773.7,1867.3 L771.4,1867.4 L769.2,1867.5 L767.0,1867.7 L764.7,1867.8 L762.5,1867.9 L760.2,1868.0 L758.0,1868.1 L755.8,1868.2 L753.5,1868.4 L751.3,1868.5 L749.0,1868.6 L746.8,1868.7 L744.6,1868.8 L742.3,1868.9 L740.1,1869.0 L737.8,1869.1 L735.6,1869.2 L733.4,1869.3 L731.1,1869.4 L728.9,1869.5 L726.7,1869.6 L724.4,1869.7 L722.2,1869.8 L719.9,1869.9 L717.7,1870.0 L715.5,1870.1 L713.2,1870.2 L711.0,1870.3 L708.7,1870.4 L706.5,1870.5 L704.3,1870.6 L702.0,1870.7 L699.8,1870.8 L697.5,1870.9 L695.3,1871.0 L693.1,1871.1 L690.8,1871.2 L688.6,1871.3 L686.4,1871.5 L684.1,1871.6 L681.9,1871.7 L679.6,1871.8 L677.4,1871.9 L675.2,1872.0 L672.9,1872.1 L670.7,1872.2 L668.4,1872.3 L666.2,1872.4 L664.0,1872.5 L661.7,1872.6 L659.5,1872.7 L657.3,1872.8 L655.0,1872.9 L652.8,1873.0 L650.5,1873.1 L648.3,1873.2 L646.1,1873.3 L643.8,1873.4 L641.6,1873.5 L639.3,1873.6 L637.1,1873.7 L634.9,1873.8 L632.6,1873.9 L630.4,1874.1 L628.1,1874.2 L625.9,1874.3 L623.7,1874.4 L621.4,1874.5 L619.2,1874.6 L617.0,1874.7 L614.7,1874.8 L612.5,1874.9 L610.2,1875.0 L608.0,1875.1Z" fill="#cf5d62" fill-opacity="0.55"/>
<path d="M608.0,1872.9 L610.2,1872.8 L612.5,1872.7 L614.7,1872.6 L617.0,1872.5 L619.2,1872.4 L621.4,1872.3 L623.7,1872.3 L625.9,1872.2 L628.1,1872.1 L630.4,1872.0 L632.6,1871.9 L634.9,1871.8 L637.1,1871.7 L639.3,1871.6 L641.6,1871.5 L643.8,1871.4 L646.1,1871.4 L648.3,1871.3 L650.5,1871.2 L652.8,1871.1 L655.0,1871.0 L657.3,1870.9 L659.5,1870.8 L661.7,1870.7 L664.0,1870.6 L666.2,1870.5 L668.4,1870.5 L670.7,1870.4 L672.9,1870.3 L675.2,1870.2 L677.4,1870.1 L679.6,1870.0 L681.9,1869.9 L684.1,1869.8 L686.4,1869.7 L688.6,1869.6 L690.8,1869.5 L693.1,1869.5 L695.3,1869.4 L697.5,1869.3 L699.8,1869.2 L702.0,1869.1 L704.3,1869.0 L706.5,1868.9 L708.7,1868.8 L711.0,1868.7 L713.2,1868.6 L715.5,1868.5 L717.7,1868.4 L719.9,1868.3 L722.2,1868.2 L724.4,1868.1 L726.7,1868.1 L728.9,1868.0 L731.1,1867.9 L733.4,1867.8 L735.6,1867.7 L737.8,1867.6 L740.1,1867.5 L742.3,1867.4 L744.6,1867.3 L746.8,1867.2 L749.0,1867.1 L751.3,1867.0 L753.5,1866.9 L755.8,1866.8 L758.0,1866.6 L760.2,1866.5 L762.5,1866.4 L764.7,1866.3 L767.0,1866.2 L769.2,1866.1 L771.4,1866.0 L773.7,1865.9 L775.9,1865.7 L778.1,1865.6 L780.4,1865.5 L782.6,1865.4 L784.9,1865.3 L787.1,1865.2 L789.3,1865.0 L791.6,1864.9 L793.8,1864.8 L796.1,1864.7 L798.3,1864.6 L800.5,1864.4 L802.8,1864.3 L805.0,1864.2 L807.2,1864.1 L809.5,1864.0 L811.7,1863.9 L814.0,1863.7 L816.2,1863.6 L818.4,1863.5 L820.7,1863.4 L822.9,1863.3 L825.2,1863.2 L827.4,1863.1 L829.6,1863.0 L831.9,1862.9 L834.1,1862.8 L836.4,1862.6 L838.6,1862.5 L840.8,1862.4 L843.1,1862.3 L845.3,1862.2 L847.5,1862.1 L849.8,1862.0 L852.0,1861.9 L854.3,1861.8 L856.5,1861.7 L858.7,1861.6 L861.0,1861.5 L863.2,1861.4 L865.5,1861.3 L867.7,1861.2 L869.9,1861.1 L872.2,1861.0 L874.4,1860.9 L876.7,1860.7 L878.9,1860.6 L881.1,1860.5 L883.4,1860.4 L885.6,1860.3 L887.8,1860.2 L890.1,1860.1 L892.3,1860.0 L894.6,1859.9 L896.8,1859.8 L899.0,1859.7 L901.3,1859.6 L903.5,1859.4 L905.8,1859.3 L908.0,1859.2 L910.2,1859.1 L912.5,1859.0 L914.7,1858.9 L916.9,1858.7 L919.2,1858.6 L921.4,1858.5 L923.7,1858.4 L925.9,1858.3 L928.1,1858.1 L930.4,1858.0 L932.6,1857.9 L934.9,1857.7 L937.1,1857.6 L939.3,1857.4 L941.6,1857.3 L943.8,1857.1 L946.1,1857.0 L948.3,1856.8 L950.5,1856.7 L952.8,1856.5 L955.0,1856.4 L957.2,1856.2 L959.5,1856.0 L961.7,1855.9 L964.0,1855.7 L966.2,1855.6" fill="none" stroke="#7d0f1c" stroke-width="3.8"/>
</g>
<rect x="591.5" y="1507.7" width="393.7" height="75.0" fill="#d9d9d9"/>
<path d="M591.5,1507.7H985.2M591.5,1582.7H985.2M591.5,1888.7H985.2" stroke="#333333" stroke-width="3.1" fill="none" stroke-linecap="square"/>
<path d="M591.5,1507.7V1888.7M985.2,1507.7V1888.7" stroke="#333333" stroke-width="2.4" fill="none"/>
<path d="M591.5,1582.7H985.2" stroke="#333333" stroke-width="4.0" fill="none"/>
<text transform="translate(748.14,1558.80) scale(0.8600,1.0000)" font-family='"Liberation Sans", sans-serif' font-size="38.3" fill="#1a1a1a">Metal</text>
<line x1="674.20" y1="1889.70" x2="674.20" y2="1900.70" stroke="#333333" stroke-width="2.7"/>
<line x1="821.50" y1="1889.70" x2="821.50" y2="1900.70" stroke="#333333" stroke-width="2.7"/>
<line x1="924.46" y1="1889.70" x2="924.46" y2="1900.70" stroke="#333333" stroke-width="2.7"/>
<text transform="translate(628.37,1940.40) scale(0.8583,1.0000)" font-family='"Liberation Sans", sans-serif' font-size="45.5" fill="#4d4d4d">1000</text>
<text transform="translate(761.84,1940.40) scale(0.8091,1.0000)" font-family='"Liberation Sans", sans-serif' font-size="45.5" fill="#4d4d4d">10000</text>
<text transform="translate(875.37,1940.40) scale(0.8417,1.0000)" font-family='"Liberation Sans", sans-serif' font-size="45.5" fill="#4d4d4d">50000</text>
<clipPath id="clip12"><rect x="1005.7" y="1582.7" width="393.1" height="306.0"/></clipPath>
<g clip-path="url(#clip12)">
<line x1="1014.75" y1="1582.70" x2="1014.75" y2="1888.70" stroke="#e9e9e9" stroke-width="1.5"/>
<line x1="1162.05" y1="1582.70" x2="1162.05" y2="1888.70" stroke="#e9e9e9" stroke-width="1.5"/>
<line x1="1287.18" y1="1582.70" x2="1287.18" y2="1888.70" stroke="#e9e9e9" stroke-width="1.5"/>
<line x1="1390.14" y1="1582.70" x2="1390.14" y2="1888.70" stroke="#e9e9e9" stroke-width="1.5"/>
<line x1="1005.70" y1="1838.12" x2="1398.80" y2="1838.12" stroke="#e9e9e9" stroke-width="1.5"/>
<line x1="1005.70" y1="1762.58" x2="1398.80" y2="1762.58" stroke="#e9e9e9" stroke-width="1.5"/>
<line x1="1005.70" y1="1687.03" x2="1398.80" y2="1687.03" stroke="#e9e9e9" stroke-width="1.5"/>
<line x1="1005.70" y1="1611.48" x2="1398.80" y2="1611.48" stroke="#e9e9e9" stroke-width="1.5"/>
<line x1="1088.40" y1="1582.70" x2="1088.40" y2="1888.70" stroke="#e3e3e3" stroke-width="2.6"/>
<line x1="1235.70" y1="1582.70" x2="1235.70" y2="1888.70" stroke="#e3e3e3" stroke-width="2.6"/>
<line x1="1338.66" y1="1582.70" x2="1338.66" y2="1888.70" stroke="#e3e3e3" stroke-width="2.6"/>
<line x1="1005.70" y1="1875.90" x2="1398.80" y2="1875.90" stroke="#e3e3e3" stroke-width="2.9"/>
<line x1="1005.70" y1="1800.35" x2="1398.80" y2="1800.35" stroke="#e3e3e3" stroke-width="2.9"/>
<line x1="1005.70" y1="1724.80" x2="1398.80" y2="1724.80" stroke="#e3e3e3" stroke-width="2.9"/>
<line x1="1005.70" y1="1649.25" x2="1398.80" y2="1649.25" stroke="#e3e3e3" stroke-width="2.9"/>
<g fill="none" stroke="#262626" stroke-width="1.35">
<ellipse cx="1094.1" cy="1772.9" rx="1.57" ry="1.75" fill="#333" stroke="none"/>
<ellipse cx="1076.6" cy="1794.4" rx="1.57" ry="1.75" fill="#333" stroke="none"/>
<ellipse cx="1097.6" cy="1800.7" rx="2.75" ry="3.20"/>
<ellipse cx="1153.8" cy="1797.2" rx="3.01" ry="3.50"/>
<ellipse cx="1156.6" cy="1803.5" rx="6.02" ry="7.00"/>
<ellipse cx="1172.7" cy="1809.8" rx="4.82" ry="5.60"/>
<ellipse cx="1180.4" cy="1809.4" rx="2.24" ry="2.60"/>
<ellipse cx="1184.6" cy="1807.7" rx="1.57" ry="1.75" fill="#333" stroke="none"/>
<ellipse cx="1106.3" cy="1821.5" rx="1.72" ry="2.00"/>
<ellipse cx="1111.7" cy="1821.8" rx="1.63" ry="1.90"/>
<ellipse cx="1146.5" cy="1818.9" rx="3.61" ry="4.20"/>
<ellipse cx="1155.2" cy="1818.2" rx="4.73" ry="5.50"/>
<ellipse cx="1193.1" cy="1821.5" rx="2.41" ry="2.80"/>
<ellipse cx="1203.6" cy="1819.0" rx="2.58" ry="3.00"/>
<ellipse cx="1196.6" cy="1836.5" rx="6.02" ry="7.00"/>
<ellipse cx="1197.3" cy="1838.6" rx="3.01" ry="3.50"/>
<ellipse cx="1098.3" cy="1843.8" rx="3.10" ry="3.60"/>
<ellipse cx="1116.6" cy="1846.3" rx="5.76" ry="6.70"/>
<ellipse cx="1108.2" cy="1851.2" rx="3.35" ry="3.90"/>
<ellipse cx="1110.3" cy="1847.7" rx="2.41" ry="2.80"/>
<ellipse cx="1133.4" cy="1841.4" rx="5.76" ry="6.70"/>
<ellipse cx="1133.0" cy="1844.5" rx="2.15" ry="2.50"/>
<ellipse cx="1147.5" cy="1845.2" rx="3.01" ry="3.50"/>
<ellipse cx="1185.4" cy="1854.7" rx="3.44" ry="4.00"/>
<ellipse cx="1179.7" cy="1854.7" rx="1.48" ry="1.65" fill="#333" stroke="none"/>
<ellipse cx="1093.1" cy="1862.9" rx="5.16" ry="6.00"/>
<ellipse cx="1022.5" cy="1866.0" rx="1.48" ry="1.65" fill="#333" stroke="none"/>
<ellipse cx="1047.8" cy="1866.7" rx="1.72" ry="2.00"/>
<ellipse cx="1315.5" cy="1768.4" rx="4.21" ry="4.90"/>
<ellipse cx="1317.2" cy="1781.1" rx="1.57" ry="1.75" fill="#333" stroke="none"/>
<ellipse cx="1338.4" cy="1784.6" rx="1.67" ry="1.85" fill="#333" stroke="none"/>
<ellipse cx="1325.7" cy="1788.8" rx="1.57" ry="1.75" fill="#333" stroke="none"/>
<ellipse cx="1321.4" cy="1796.2" rx="1.48" ry="1.65" fill="#333" stroke="none"/>
<ellipse cx="1280.8" cy="1794.1" rx="3.44" ry="4.00"/>
<ellipse cx="1283.2" cy="1789.2" rx="1.30" ry="1.45" fill="#333" stroke="none"/>
<ellipse cx="1310.6" cy="1797.6" rx="4.21" ry="4.90"/>
<ellipse cx="1316.9" cy="1810.2" rx="4.56" ry="5.30"/>
<ellipse cx="1330.6" cy="1818.2" rx="6.36" ry="7.40"/>
<ellipse cx="1325.3" cy="1814.0" rx="1.30" ry="1.45" fill="#333" stroke="none"/>
<ellipse cx="1300.8" cy="1817.8" rx="4.21" ry="4.90"/>
<ellipse cx="1250.9" cy="1803.5" rx="4.56" ry="5.30"/>
<ellipse cx="1254.0" cy="1808.4" rx="1.40" ry="1.55" fill="#333" stroke="none"/>
<ellipse cx="1231.6" cy="1806.7" rx="3.01" ry="3.50"/>
<ellipse cx="1216.3" cy="1809.5" rx="3.78" ry="4.40"/>
<ellipse cx="1204.9" cy="1818.2" rx="2.58" ry="3.00"/>
<ellipse cx="1261.5" cy="1817.5" rx="5.42" ry="6.30"/>
<ellipse cx="1258.6" cy="1818.9" rx="3.01" ry="3.50"/>
<ellipse cx="1236.9" cy="1826.7" rx="8.43" ry="9.80"/>
<ellipse cx="1236.6" cy="1833.0" rx="1.40" ry="1.55" fill="#333" stroke="none"/>
<ellipse cx="1246.0" cy="1825.3" rx="5.42" ry="6.30"/>
<ellipse cx="1219.1" cy="1830.9" rx="3.01" ry="3.50"/>
<ellipse cx="1213.7" cy="1829.5" rx="2.15" ry="2.50"/>
<ellipse cx="1224.7" cy="1828.8" rx="2.15" ry="2.50"/>
<ellipse cx="1248.1" cy="1837.2" rx="2.41" ry="2.80"/>
<ellipse cx="1259.4" cy="1838.6" rx="4.82" ry="5.60"/>
<ellipse cx="1259.6" cy="1843.5" rx="1.40" ry="1.55" fill="#333" stroke="none"/>
<ellipse cx="1248.1" cy="1845.6" rx="2.15" ry="2.50"/>
<ellipse cx="1243.6" cy="1853.3" rx="4.21" ry="4.90"/>
<ellipse cx="1230.2" cy="1858.0" rx="4.21" ry="4.90"/>
<ellipse cx="1227.8" cy="1860.4" rx="1.40" ry="1.55" fill="#333" stroke="none"/>
<ellipse cx="1205.7" cy="1854.3" rx="1.57" ry="1.75" fill="#333" stroke="none"/>
<ellipse cx="1220.3" cy="1866.9" rx="1.84" ry="2.05" fill="#333" stroke="none"/>
<ellipse cx="1270.3" cy="1855.9" rx="1.57" ry="1.75" fill="#333" stroke="none"/>
<ellipse cx="1287.1" cy="1830.9" rx="3.01" ry="3.50"/>
<ellipse cx="1301.5" cy="1828.8" rx="2.41" ry="2.80"/>
<ellipse cx="1297.9" cy="1842.5" rx="1.75" ry="1.95" fill="#333" stroke="none"/>
<ellipse cx="1313.4" cy="1842.5" rx="5.42" ry="6.30"/>
<ellipse cx="1312.7" cy="1834.4" rx="1.30" ry="1.45" fill="#333" stroke="none"/>
<ellipse cx="1319.0" cy="1851.9" rx="3.35" ry="3.90"/>
<ellipse cx="1290.9" cy="1853.1" rx="3.01" ry="3.50"/>
<ellipse cx="1337.2" cy="1845.3" rx="1.67" ry="1.85" fill="#333" stroke="none"/>
<ellipse cx="1324.9" cy="1865.0" rx="2.75" ry="3.20"/>
<ellipse cx="1306.4" cy="1875.5" rx="3.96" ry="4.60"/>
<ellipse cx="1291.6" cy="1872.7" rx="1.40" ry="1.55" fill="#333" stroke="none"/>
<ellipse cx="1322.2" cy="1875.8" rx="1.67" ry="1.85" fill="#333" stroke="none"/>
<ellipse cx="1095.8" cy="1657.7" rx="2.24" ry="2.60"/>
<ellipse cx="1127.5" cy="1665.2" rx="1.98" ry="2.30"/>
<ellipse cx="1103.0" cy="1692.2" rx="2.24" ry="2.60"/>
<ellipse cx="1053.2" cy="1704.0" rx="1.48" ry="1.65" fill="#333" stroke="none"/>
<ellipse cx="1159.1" cy="1696.0" rx="1.40" ry="1.55" fill="#333" stroke="none"/>
<ellipse cx="1217.2" cy="1678.7" rx="1.40" ry="1.55" fill="#333" stroke="none"/>
<ellipse cx="1074.2" cy="1749.2" rx="1.48" ry="1.65" fill="#333" stroke="none"/>
<ellipse cx="1151.9" cy="1748.9" rx="1.40" ry="1.55" fill="#333" stroke="none"/>
<ellipse cx="1228.7" cy="1740.6" rx="3.96" ry="4.60"/>
<ellipse cx="1262.4" cy="1746.3" rx="1.67" ry="1.85" fill="#333" stroke="none"/>
<ellipse cx="1276.8" cy="1737.7" rx="1.57" ry="1.75" fill="#333" stroke="none"/>
<ellipse cx="1315.6" cy="1747.8" rx="1.84" ry="2.05" fill="#333" stroke="none"/>
<ellipse cx="1350.2" cy="1756.1" rx="1.40" ry="1.55" fill="#333" stroke="none"/>
</g>
<path d="M1023.0,1790.8 L1025.2,1791.5 L1027.5,1790.2 L1029.7,1790.3 L1032.0,1790.6 L1034.2,1789.6 L1036.4,1789.6 L1038.7,1790.1 L1040.9,1790.4 L1043.1,1789.3 L1045.4,1788.9 L1047.6,1789.0 L1049.9,1789.9 L1052.1,1788.4 L1054.3,1789.0 L1056.6,1788.5 L1058.8,1788.7 L1061.1,1787.9 L1063.3,1788.4 L1065.5,1788.7 L1067.8,1788.5 L1070.0,1788.0 L1072.3,1787.6 L1074.5,1787.6 L1076.7,1786.7 L1079.0,1787.8 L1081.2,1787.4 L1083.4,1786.9 L1085.7,1787.1 L1087.9,1786.5 L1090.2,1786.4 L1092.4,1786.0 L1094.6,1786.4 L1096.9,1786.3 L1099.1,1786.1 L1101.4,1785.2 L1103.6,1786.0 L1105.8,1785.6 L1108.1,1785.7 L1110.3,1785.5 L1112.5,1786.0 L1114.8,1784.6 L1117.0,1785.0 L1119.3,1785.7 L1121.5,1785.2 L1123.7,1784.4 L1126.0,1784.9 L1128.2,1785.2 L1130.5,1784.2 L1132.7,1784.8 L1134.9,1783.5 L1137.2,1784.8 L1139.4,1783.8 L1141.7,1783.3 L1143.9,1784.2 L1146.1,1783.8 L1148.4,1784.1 L1150.6,1783.9 L1152.8,1783.7 L1155.1,1783.2 L1157.3,1783.8 L1159.6,1782.3 L1161.8,1783.5 L1164.0,1783.1 L1166.3,1782.3 L1168.5,1783.1 L1170.8,1782.4 L1173.0,1782.5 L1175.2,1782.9 L1177.5,1781.7 L1179.7,1781.8 L1182.0,1782.3 L1184.2,1781.3 L1186.4,1782.0 L1188.7,1782.2 L1190.9,1781.7 L1193.1,1781.2 L1195.4,1782.0 L1197.6,1782.0 L1199.9,1781.8 L1202.1,1781.4 L1204.3,1781.9 L1206.6,1781.6 L1208.8,1780.6 L1211.1,1780.8 L1213.3,1780.4 L1215.5,1780.2 L1217.8,1780.7 L1220.0,1781.5 L1222.2,1781.4 L1224.5,1780.2 L1226.7,1780.3 L1229.0,1780.6 L1231.2,1781.3 L1233.4,1781.0 L1235.7,1781.4 L1237.9,1780.1 L1240.2,1781.6 L1242.4,1780.4 L1244.6,1781.2 L1246.9,1781.7 L1249.1,1781.5 L1251.4,1780.8 L1253.6,1781.7 L1255.8,1781.4 L1258.1,1780.9 L1260.3,1781.6 L1262.5,1781.7 L1264.8,1782.3 L1267.0,1781.9 L1269.3,1782.6 L1271.5,1782.9 L1273.7,1782.3 L1276.0,1782.3 L1278.2,1783.4 L1280.5,1783.2 L1282.7,1782.8 L1284.9,1782.9 L1287.2,1784.4 L1289.4,1784.0 L1291.7,1783.7 L1293.9,1783.6 L1296.1,1785.0 L1298.4,1784.6 L1300.6,1784.8 L1302.8,1784.3 L1305.1,1784.3 L1307.3,1784.6 L1309.6,1784.3 L1311.8,1785.2 L1314.0,1785.0 L1316.3,1785.7 L1318.5,1785.2 L1320.8,1785.4 L1323.0,1785.6 L1325.2,1786.5 L1327.5,1785.7 L1329.7,1786.4 L1331.9,1785.8 L1334.2,1786.5 L1336.4,1786.2 L1338.7,1787.4 L1340.9,1786.6 L1343.1,1787.8 L1345.4,1787.7 L1347.6,1787.6 L1349.9,1788.6 L1352.1,1787.9 L1354.3,1788.8 L1356.6,1788.8 L1358.8,1788.8 L1361.1,1788.5 L1363.3,1789.3 L1365.5,1789.3 L1367.8,1789.9 L1370.0,1790.9 L1372.2,1790.1 L1374.5,1791.1 L1376.7,1791.3 L1379.0,1790.8 L1381.2,1791.4 L1381.2,1863.6 L1379.0,1863.3 L1376.7,1863.2 L1374.5,1862.9 L1372.2,1863.1 L1370.0,1863.0 L1367.8,1862.6 L1365.5,1862.5 L1363.3,1862.6 L1361.1,1862.3 L1358.8,1862.8 L1356.6,1862.3 L1354.3,1861.7 L1352.1,1862.5 L1349.9,1861.8 L1347.6,1861.4 L1345.4,1861.7 L1343.1,1861.9 L1340.9,1861.3 L1338.7,1861.5 L1336.4,1861.2 L1334.2,1861.2 L1331.9,1860.9 L1329.7,1860.9 L1327.5,1861.0 L1325.2,1861.1 L1323.0,1861.0 L1320.8,1860.4 L1318.5,1861.1 L1316.3,1860.3 L1314.0,1860.6 L1311.8,1860.5 L1309.6,1860.3 L1307.3,1860.4 L1305.1,1860.2 L1302.8,1860.1 L1300.6,1859.9 L1298.4,1860.3 L1296.1,1859.8 L1293.9,1859.8 L1291.7,1860.2 L1289.4,1859.8 L1287.2,1859.8 L1284.9,1860.1 L1282.7,1859.9 L1280.5,1859.6 L1278.2,1859.4 L1276.0,1859.2 L1273.7,1859.7 L1271.5,1858.9 L1269.3,1858.9 L1267.0,1858.7 L1264.8,1859.0 L1262.5,1858.6 L1260.3,1859.3 L1258.1,1859.0 L1255.8,1859.3 L1253.6,1858.6 L1251.4,1858.4 L1249.1,1858.2 L1246.9,1858.7 L1244.6,1858.3 L1242.4,1858.8 L1240.2,1858.8 L1237.9,1858.8 L1235.7,1858.2 L1233.4,1858.0 L1231.2,1858.4 L1229.0,1858.9 L1226.7,1858.8 L1224.5,1858.5 L1222.2,1858.3 L1220.0,1858.5 L1217.8,1858.9 L1215.5,1858.1 L1213.3,1858.8 L1211.1,1858.1 L1208.8,1858.9 L1206.6,1858.5 L1204.3,1858.6 L1202.1,1858.6 L1199.9,1858.4 L1197.6,1858.2 L1195.4,1858.6 L1193.1,1858.5 L1190.9,1859.1 L1188.7,1858.6 L1186.4,1858.9 L1184.2,1858.5 L1182.0,1858.6 L1179.7,1859.1 L1177.5,1858.7 L1175.2,1859.1 L1173.0,1859.0 L1170.8,1859.5 L1168.5,1858.9 L1166.3,1859.3 L1164.0,1859.4 L1161.8,1859.2 L1159.6,1859.0 L1157.3,1859.9 L1155.1,1860.0 L1152.8,1859.9 L1150.6,1859.2 L1148.4,1859.6 L1146.1,1859.4 L1143.9,1860.0 L1141.7,1860.0 L1139.4,1860.2 L1137.2,1859.7 L1134.9,1860.2 L1132.7,1860.1 L1130.5,1860.2 L1128.2,1859.8 L1126.0,1859.8 L1123.7,1860.5 L1121.5,1860.2 L1119.3,1860.0 L1117.0,1860.3 L1114.8,1860.2 L1112.5,1861.0 L1110.3,1860.3 L1108.1,1860.8 L1105.8,1860.6 L1103.6,1860.7 L1101.4,1860.4 L1099.1,1861.3 L1096.9,1861.1 L1094.6,1861.1 L1092.4,1861.3 L1090.2,1861.0 L1087.9,1861.6 L1085.7,1861.6 L1083.4,1861.7 L1081.2,1861.4 L1079.0,1861.5 L1076.7,1861.2 L1074.5,1861.4 L1072.3,1861.4 L1070.0,1861.6 L1067.8,1861.8 L1065.5,1861.3 L1063.3,1862.2 L1061.1,1862.2 L1058.8,1861.7 L1056.6,1862.1 L1054.3,1862.2 L1052.1,1861.9 L1049.9,1862.0 L1047.6,1861.8 L1045.4,1862.6 L1043.1,1861.9 L1040.9,1862.4 L1038.7,1862.5 L1036.4,1862.8 L1034.2,1862.8 L1032.0,1862.4 L1029.7,1862.6 L1027.5,1862.5 L1025.2,1863.1 L1023.0,1862.4Z" fill="#cc6f70" fill-opacity="0.33"/>
<path d="M1023.0,1828.6 L1025.2,1828.5 L1027.5,1828.4 L1029.7,1828.3 L1032.0,1828.2 L1034.2,1828.1 L1036.4,1828.0 L1038.7,1827.9 L1040.9,1827.8 L1043.1,1827.7 L1045.4,1827.6 L1047.6,1827.5 L1049.9,1827.4 L1052.1,1827.3 L1054.3,1827.2 L1056.6,1827.1 L1058.8,1827.0 L1061.1,1826.9 L1063.3,1826.8 L1065.5,1826.7 L1067.8,1826.6 L1070.0,1826.5 L1072.3,1826.4 L1074.5,1826.3 L1076.7,1826.2 L1079.0,1826.1 L1081.2,1826.0 L1083.4,1825.9 L1085.7,1825.8 L1087.9,1825.7 L1090.2,1825.6 L1092.4,1825.5 L1094.6,1825.4 L1096.9,1825.3 L1099.1,1825.2 L1101.4,1825.1 L1103.6,1825.0 L1105.8,1824.9 L1108.1,1824.8 L1110.3,1824.7 L1112.5,1824.6 L1114.8,1824.5 L1117.0,1824.4 L1119.3,1824.3 L1121.5,1824.1 L1123.7,1824.0 L1126.0,1823.9 L1128.2,1823.8 L1130.5,1823.7 L1132.7,1823.7 L1134.9,1823.6 L1137.2,1823.5 L1139.4,1823.4 L1141.7,1823.3 L1143.9,1823.2 L1146.1,1823.1 L1148.4,1823.0 L1150.6,1823.0 L1152.8,1822.9 L1155.1,1822.8 L1157.3,1822.8 L1159.6,1822.7 L1161.8,1822.6 L1164.0,1822.6 L1166.3,1822.5 L1168.5,1822.5 L1170.8,1822.4 L1173.0,1822.4 L1175.2,1822.3 L1177.5,1822.3 L1179.7,1822.2 L1182.0,1822.2 L1184.2,1822.1 L1186.4,1822.1 L1188.7,1822.0 L1190.9,1822.0 L1193.1,1822.0 L1195.4,1821.9 L1197.6,1821.9 L1199.9,1821.9 L1202.1,1821.8 L1204.3,1821.8 L1206.6,1821.8 L1208.8,1821.7 L1211.1,1821.7 L1213.3,1821.7 L1215.5,1821.7 L1217.8,1821.7 L1220.0,1821.6 L1222.2,1821.6 L1224.5,1821.6 L1226.7,1821.6 L1229.0,1821.6 L1231.2,1821.6 L1233.4,1821.6 L1235.7,1821.6 L1237.9,1821.6 L1240.2,1821.6 L1242.4,1821.6 L1244.6,1821.7 L1246.9,1821.7 L1249.1,1821.8 L1251.4,1821.8 L1253.6,1821.9 L1255.8,1821.9 L1258.1,1822.0 L1260.3,1822.1 L1262.5,1822.1 L1264.8,1822.2 L1267.0,1822.3 L1269.3,1822.4 L1271.5,1822.5 L1273.7,1822.6 L1276.0,1822.6 L1278.2,1822.7 L1280.5,1822.8 L1282.7,1822.9 L1284.9,1823.0 L1287.2,1823.1 L1289.4,1823.1 L1291.7,1823.2 L1293.9,1823.3 L1296.1,1823.4 L1298.4,1823.5 L1300.6,1823.6 L1302.8,1823.6 L1305.1,1823.7 L1307.3,1823.8 L1309.6,1823.9 L1311.8,1824.0 L1314.0,1824.1 L1316.3,1824.2 L1318.5,1824.3 L1320.8,1824.4 L1323.0,1824.4 L1325.2,1824.5 L1327.5,1824.6 L1329.7,1824.7 L1331.9,1824.8 L1334.2,1824.9 L1336.4,1825.0 L1338.7,1825.1 L1340.9,1825.2 L1343.1,1825.3 L1345.4,1825.4 L1347.6,1825.5 L1349.9,1825.6 L1352.1,1825.7 L1354.3,1825.8 L1356.6,1825.9 L1358.8,1826.0 L1361.1,1826.2 L1363.3,1826.3 L1365.5,1826.4 L1367.8,1826.5 L1370.0,1826.6 L1372.2,1826.7 L1374.5,1826.9 L1376.7,1827.0 L1379.0,1827.1 L1381.2,1827.2 L1381.2,1839.2 L1379.0,1839.0 L1376.7,1838.7 L1374.5,1838.5 L1372.2,1838.3 L1370.0,1838.0 L1367.8,1837.8 L1365.5,1837.6 L1363.3,1837.3 L1361.1,1837.1 L1358.8,1836.9 L1356.6,1836.6 L1354.3,1836.4 L1352.1,1836.1 L1349.9,1835.9 L1347.6,1835.7 L1345.4,1835.5 L1343.1,1835.2 L1340.9,1835.0 L1338.7,1834.8 L1336.4,1834.6 L1334.2,1834.4 L1331.9,1834.2 L1329.7,1834.0 L1327.5,1833.8 L1325.2,1833.6 L1323.0,1833.4 L1320.8,1833.2 L1318.5,1833.0 L1316.3,1832.8 L1314.0,1832.6 L1311.8,1832.4 L1309.6,1832.2 L1307.3,1832.1 L1305.1,1831.9 L1302.8,1831.7 L1300.6,1831.6 L1298.4,1831.4 L1296.1,1831.3 L1293.9,1831.1 L1291.7,1831.0 L1289.4,1830.8 L1287.2,1830.7 L1284.9,1830.5 L1282.7,1830.4 L1280.5,1830.3 L1278.2,1830.1 L1276.0,1830.0 L1273.7,1829.8 L1271.5,1829.7 L1269.3,1829.6 L1267.0,1829.4 L1264.8,1829.3 L1262.5,1829.2 L1260.3,1829.1 L1258.1,1828.9 L1255.8,1828.8 L1253.6,1828.7 L1251.4,1828.6 L1249.1,1828.6 L1246.9,1828.5 L1244.6,1828.4 L1242.4,1828.3 L1240.2,1828.3 L1237.9,1828.2 L1235.7,1828.2 L1233.4,1828.2 L1231.2,1828.2 L1229.0,1828.1 L1226.7,1828.1 L1224.5,1828.1 L1222.2,1828.1 L1220.0,1828.1 L1217.8,1828.1 L1215.5,1828.1 L1213.3,1828.1 L1211.1,1828.1 L1208.8,1828.1 L1206.6,1828.2 L1204.3,1828.2 L1202.1,1828.2 L1199.9,1828.3 L1197.6,1828.3 L1195.4,1828.3 L1193.1,1828.4 L1190.9,1828.4 L1188.7,1828.5 L1186.4,1828.5 L1184.2,1828.6 L1182.0,1828.6 L1179.7,1828.7 L1177.5,1828.8 L1175.2,1828.8 L1173.0,1828.9 L1170.8,1829.0 L1168.5,1829.1 L1166.3,1829.1 L1164.0,1829.2 L1161.8,1829.3 L1159.6,1829.4 L1157.3,1829.5 L1155.1,1829.6 L1152.8,1829.7 L1150.6,1829.8 L1148.4,1829.9 L1146.1,1830.1 L1143.9,1830.2 L1141.7,1830.3 L1139.4,1830.5 L1137.2,1830.6 L1134.9,1830.7 L1132.7,1830.9 L1130.5,1831.0 L1128.2,1831.2 L1126.0,1831.3 L1123.7,1831.5 L1121.5,1831.6 L1119.3,1831.8 L1117.0,1831.9 L1114.8,1832.1 L1112.5,1832.2 L1110.3,1832.4 L1108.1,1832.6 L1105.8,1832.7 L1103.6,1832.9 L1101.4,1833.1 L1099.1,1833.2 L1096.9,1833.4 L1094.6,1833.6 L1092.4,1833.7 L1090.2,1833.9 L1087.9,1834.1 L1085.7,1834.2 L1083.4,1834.4 L1081.2,1834.6 L1079.0,1834.8 L1076.7,1834.9 L1074.5,1835.1 L1072.3,1835.3 L1070.0,1835.5 L1067.8,1835.7 L1065.5,1835.9 L1063.3,1836.1 L1061.1,1836.3 L1058.8,1836.5 L1056.6,1836.7 L1054.3,1836.9 L1052.1,1837.1 L1049.9,1837.3 L1047.6,1837.4 L1045.4,1837.6 L1043.1,1837.8 L1040.9,1838.0 L1038.7,1838.2 L1036.4,1838.4 L1034.2,1838.6 L1032.0,1838.8 L1029.7,1839.0 L1027.5,1839.2 L1025.2,1839.4 L1023.0,1839.6Z" fill="#bf5558" fill-opacity="0.55"/>
<path d="M1023.0,1834.1 L1025.2,1834.0 L1027.5,1833.8 L1029.7,1833.7 L1032.0,1833.5 L1034.2,1833.4 L1036.4,1833.2 L1038.7,1833.1 L1040.9,1832.9 L1043.1,1832.8 L1045.4,1832.6 L1047.6,1832.5 L1049.9,1832.3 L1052.1,1832.2 L1054.3,1832.0 L1056.6,1831.9 L1058.8,1831.7 L1061.1,1831.6 L1063.3,1831.4 L1065.5,1831.3 L1067.8,1831.1 L1070.0,1831.0 L1072.3,1830.8 L1074.5,1830.7 L1076.7,1830.6 L1079.0,1830.4 L1081.2,1830.3 L1083.4,1830.1 L1085.7,1830.0 L1087.9,1829.9 L1090.2,1829.7 L1092.4,1829.6 L1094.6,1829.5 L1096.9,1829.3 L1099.1,1829.2 L1101.4,1829.1 L1103.6,1828.9 L1105.8,1828.8 L1108.1,1828.7 L1110.3,1828.5 L1112.5,1828.4 L1114.8,1828.3 L1117.0,1828.1 L1119.3,1828.0 L1121.5,1827.9 L1123.7,1827.8 L1126.0,1827.6 L1128.2,1827.5 L1130.5,1827.4 L1132.7,1827.3 L1134.9,1827.1 L1137.2,1827.0 L1139.4,1826.9 L1141.7,1826.8 L1143.9,1826.7 L1146.1,1826.6 L1148.4,1826.5 L1150.6,1826.4 L1152.8,1826.3 L1155.1,1826.2 L1157.3,1826.1 L1159.6,1826.1 L1161.8,1826.0 L1164.0,1825.9 L1166.3,1825.8 L1168.5,1825.8 L1170.8,1825.7 L1173.0,1825.6 L1175.2,1825.6 L1177.5,1825.5 L1179.7,1825.5 L1182.0,1825.4 L1184.2,1825.3 L1186.4,1825.3 L1188.7,1825.2 L1190.9,1825.2 L1193.1,1825.2 L1195.4,1825.1 L1197.6,1825.1 L1199.9,1825.1 L1202.1,1825.0 L1204.3,1825.0 L1206.6,1825.0 L1208.8,1824.9 L1211.1,1824.9 L1213.3,1824.9 L1215.5,1824.9 L1217.8,1824.9 L1220.0,1824.9 L1222.2,1824.9 L1224.5,1824.9 L1226.7,1824.9 L1229.0,1824.9 L1231.2,1824.9 L1233.4,1824.9 L1235.7,1824.9 L1237.9,1824.9 L1240.2,1824.9 L1242.4,1825.0 L1244.6,1825.0 L1246.9,1825.1 L1249.1,1825.2 L1251.4,1825.2 L1253.6,1825.3 L1255.8,1825.4 L1258.1,1825.5 L1260.3,1825.6 L1262.5,1825.7 L1264.8,1825.8 L1267.0,1825.9 L1269.3,1826.0 L1271.5,1826.1 L1273.7,1826.2 L1276.0,1826.3 L1278.2,1826.4 L1280.5,1826.5 L1282.7,1826.7 L1284.9,1826.8 L1287.2,1826.9 L1289.4,1827.0 L1291.7,1827.1 L1293.9,1827.2 L1296.1,1827.3 L1298.4,1827.4 L1300.6,1827.6 L1302.8,1827.7 L1305.1,1827.8 L1307.3,1828.0 L1309.6,1828.1 L1311.8,1828.2 L1314.0,1828.3 L1316.3,1828.5 L1318.5,1828.6 L1320.8,1828.8 L1323.0,1828.9 L1325.2,1829.1 L1327.5,1829.2 L1329.7,1829.3 L1331.9,1829.5 L1334.2,1829.6 L1336.4,1829.8 L1338.7,1829.9 L1340.9,1830.1 L1343.1,1830.3 L1345.4,1830.4 L1347.6,1830.6 L1349.9,1830.8 L1352.1,1830.9 L1354.3,1831.1 L1356.6,1831.3 L1358.8,1831.4 L1361.1,1831.6 L1363.3,1831.8 L1365.5,1832.0 L1367.8,1832.2 L1370.0,1832.3 L1372.2,1832.5 L1374.5,1832.7 L1376.7,1832.9 L1379.0,1833.0 L1381.2,1833.2" fill="none" stroke="#6b1a1a" stroke-width="3.8"/>
</g>
<rect x="1005.7" y="1507.7" width="393.1" height="75.0" fill="#d9d9d9"/>
<path d="M1005.7,1507.7H1398.8M1005.7,1582.7H1398.8M1005.7,1888.7H1398.8" stroke="#333333" stroke-width="3.1" fill="none" stroke-linecap="square"/>
<path d="M1005.7,1507.7V1888.7M1398.8,1507.7V1888.7" stroke="#333333" stroke-width="2.4" fill="none"/>
<path d="M1005.7,1582.7H1398.8" stroke="#333333" stroke-width="4.0" fill="none"/>
<text transform="translate(1160.88,1558.80) scale(0.8600,1.0000)" font-family='"Liberation Sans", sans-serif' font-size="38.3" fill="#1a1a1a">Other</text>
<line x1="1088.40" y1="1889.70" x2="1088.40" y2="1900.70" stroke="#333333" stroke-width="2.7"/>
<line x1="1235.70" y1="1889.70" x2="1235.70" y2="1900.70" stroke="#333333" stroke-width="2.7"/>
<line x1="1338.66" y1="1889.70" x2="1338.66" y2="1900.70" stroke="#333333" stroke-width="2.7"/>
<text transform="translate(1047.77,1940.40) scale(0.8583,1.0000)" font-family='"Liberation Sans", sans-serif' font-size="45.5" fill="#4d4d4d">1000</text>
<text transform="translate(1181.24,1940.40) scale(0.8091,1.0000)" font-family='"Liberation Sans", sans-serif' font-size="45.5" fill="#4d4d4d">10000</text>
<text transform="translate(1294.77,1940.40) scale(0.8417,1.0000)" font-family='"Liberation Sans", sans-serif' font-size="45.5" fill="#4d4d4d">50000</text>
<text transform="translate(174.38,1061.30) scale(0.8820,1.0000)" font-family='"Liberation Sans", sans-serif' font-size="56.6" fill="#000">b) Shares of Waste Type by GDP</text>
<text transform="translate(437.62,2009.00) scale(0.9091,1.0000)" font-family='"Liberation Sans", sans-serif' font-size="45.7" fill="#000">GDP per capita (2011 PPP USD/year)</text>
<text transform="translate(61.40,1603.98) rotate(-90) scale(1.0889,1.0000)" font-family='"DejaVu Sans", sans-serif' font-size="59" fill="#000">Share</text>
</svg>
</body></html>
